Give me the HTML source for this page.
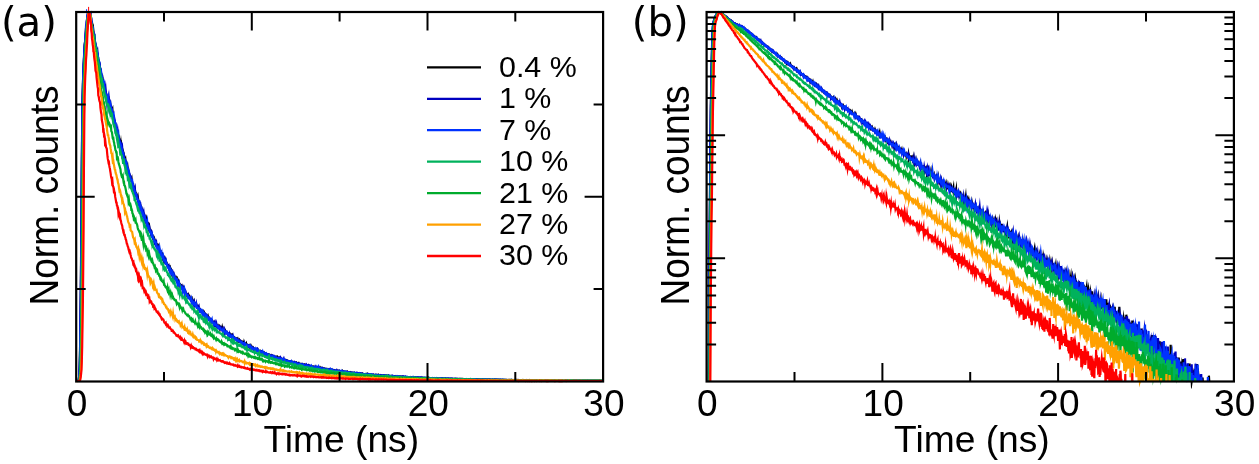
<!DOCTYPE html>
<html lang="en"><head><meta charset="utf-8"><title>Fluorescence decay curves</title>
<style>html,body{margin:0;padding:0;background:#fff}body{width:1259px;height:464px;overflow:hidden}svg{display:block}</style></head>
<body>
<svg width="1259" height="464" viewBox="0 0 1259 464">
<rect width="1259" height="464" fill="#fff"/>
<defs><clipPath id="ca"><rect x="75.2" y="0" width="528.9" height="388.5"/></clipPath><clipPath id="cb"><rect x="705.6" y="0" width="529.3" height="388.5"/></clipPath></defs>
<g font-family="'Liberation Sans', Arial, Helvetica, sans-serif" fill="#000">
<g clip-path="url(#ca)" fill="none" stroke-width="2.2" stroke-linejoin="miter" stroke-miterlimit="10"><path d="M76.2,381.0l.4,0 .3,0 .4,0 .3,0 .4,0 .3-.2 .4-.7 .3-2.6 .4-4.6 .3-8.1 .4-19.5 .3-27.2 .4-28.7 .3-36.5 .4-46.0 .3-44.4 .4-40.5 .3-22.8 .4-13.8 .3-10.0 .4-10.8 .3-5.7 .4-7.8 .3-4.8 .4-4.3 .3-1.4 .4-7.0 .3-4.8 .4-4.0 .3-1.1 .4-4.5 .3-1.8 .4-2.1 .3-3.3M88.3,12.0l.2,1.2 .3-1.1 .1-.1M89.4,12.0l.1,.9 .4,1.3 .4,1.7 .3,2.1 .4,3.7 .3,.2 .4,.2 .3,5.9 .4-1.4 .3,3.0 .4,2.9 .3-1.7 .4,3.6 .3,4.5 .4,.2 .3,1.1 .4,2.9 .3,.7 .4,2.8 .3,.8 .4,.8 .3,4.6 .4,.7 .3,2.6 .4,1.0 .3,3.5 .4,.9 .3,1.2 .4,.4 .3,1.4 .4,4.8 .3,1.1 .4-.2 .3,5.0 .4-.2 .3,1.2 .4-.1 .3,2.4 .4,2.9 .3,1.6 .4,1.5 .4-.6 .3,4.0 .4,1.4 .3,.8 .4,2.1 .3,1.5 .4,2.6 .3-.1 .4,1.7 .3-.9 .4,1.5 .3,1.5 .4-.3 .3,1.8 .4-1.2 .3,1.9 .4-.1 .3,3.1 .4-1.0 .3,3.5 .4,1.6 .3-.8 .4,2.1 .3,.1 .4-1.0 .3,5.1 .4,1.2 .3,.4 .4,1.1 .3,2.2 .4,1.4 .3,.4 .4,1.6 .3,3.2 .4,.2 .3,1.3 .4,2.6 .3-.2 .4,2.7 .3-.8 .4,2.2 .4,1.5 .3,2.1 .4,.7 .3,3.5 .4,.3 .3-.4 .4,4.1 .3-2.1 .4,4.2 .3-1.6 .4,3.1 .3-.6 .4,2.0 .3,3.0 .4-1.8 .3,1.0 .4,2.9 .3,1.4 .4,1.1 .3,2.1 .4-1.1 .3,3.0 .4,.6 .3,2.0 .4,.9 .3,1.9 .4-1.5 .3,2.6 .4-.1 .3,2.2 .4,1.8 .3,.8 .4,1.3 .3,.5 .4,1.5 .3,1.0 .4,2.2 .3,.5 .4-1.4 .4,3.4 .3,1.5 .4-.4 .3,0 .4,3.9 .3-.2 .4,1.5 .3,2.1 .4-1.5 .3,1.8 .4,.9 .3,1.9 .4-.2 .3,1.9 .4,.6 .3,2.0 .4,1.0 .3-1.5 .4,2.8 .3,.2 .4,1.2 .3,1.4 .4,1.0 .3-.2 .4,1.9 .3,.8 .4,.7 .3-.2 .4,1.4 .3,1.2 .4,1.8 .3,1.7 .4-1.3 .3,.9 .4,1.9 .3,.2 .4,.7 .3,.8 .4,.8 .4,2.1 .3-.9 .4,3.4 .3-1.1 .4,1.2 .3,.5 .4-.1 .3,1.2 .4,3.2 .3,1.3 .4-1.4 .3,2.4 .4-.1 .3,.1 .4,3.0 .3,1.2 .4-1.3 .3,.9 .4,1.1 .3,.5 .4,1.6 .3,1.3 .4-.4 .3,1.4 .4,1.4 .3-1.1 .4,1.2 .3,.3 .4,2.0 .3,.4 .4,1.1 .3,.6 .4-.2 .3,1.5 .4-.2 .3,.7 .4-.7 .3,3.6 .4-1.2 .4,1.5 .3,.6 .4,1.9 .3-.1 .4-.4 .3,1.4 .4,.5 .3,1.0 .4-.5 .3,1.6 .4,2.4 .3-.5 .4,1.7 .3,1.6 .4-1.5 .3-.9 .4,1.7 .3,1.6 .4,.5 .3-1.1 .4,1.4 .3,.7 .4,.7 .3,.6 .4,0 .3,.8 .4,.9 .3,1.5 .4-.6 .3,1.6 .4-.8 .3,2.4 .4-.3 .3,.5 .4,1.6 .3-1.8 .4,.8 .3,2.0 .4-.3 .3,.8 .4,2.8 .4-1.6 .3,.8 .4,.5 .3,1.4 .4-.1 .3,.5 .4-.5 .3,1.2 .4,.8 .3-.6 .4,2.0 .3,.4 .4,1.6 .3-1.9 .4,.9 .3,.6 .4,.7 .3,.9 .4,.4 .3,.8 .4,.5 .3,.3 .4-.5 .3,1.1 .4,1.0 .3,.8 .4,.5 .3-1.0 .4,1.2 .3,.8 .4,.7 .3,1.0 .4-.2 .3-.2 .4,1.3 .3,.4 .4,.4 .3,.3 .4,1.6 .4-.5 .3,.9 .4-.7 .3,1.5 .4-.4 .3-.2 .4,1.6 .3,.6 .4,0 .3,.5 .4,1.1 .3-.5 .4-.6 .3,1.9 .4,.4 .3,.9 .4-.5 .3,1.5 .4,.3 .3-1.1 .4,1.8 .3-.9 .4,.1 .3,1.2 .4,.2 .3-.5 .4,1.8 .3,.6 .4,.9 .3-.5 .4-.5 .3,.7 .4,1.6 .3,.3 .4,.1 .3-.1 .4,.7 .3,.1 .4,.3 .4,.8 .3,.2 .4,.2 .3,.5 .4,0 .3-.4 .4,1.1 .3,.7 .4,1.4 .3-.9 .4,1.7 .3,0 .4-1.0 .3,.5 .4,.8 .3,1.2 .4-.4 .3,.5 .4-.4 .3-.6 .4,1.5 .3,.9 .4,.5 .3-.3 .4,.4 .3,.9 .4-.4 .3,1.0 .4-1.0 .3,.4 .4,.3 .3,1.2 .4-.3 .3,.7 .4,.4 .3,.3 .4,.9 .3,.3 .4-.9 .4,.8 .3,.1 .4-.1 .3,1.8 .4-.3 .3-.2 .4,.2 .3,.7 .4-.5 .3,.7 .4,1.1 .3,.1 .4-.7 .3,.5 .4,1.5 .3-1.4 .4,.7 .3-.2 .4,1.2 .3,.2 .4,.7 .3-1.6 .4,1.7 .3-.7 .4,1.4 .3-.1 .4,1.2 .3-.4 .4-.5 .3,1.4 .4-.9 .3,.6 .4,1.0 .3,0 .4,.2 .3,0 .4,.5 .3,.4 .4,0 .3,.6 .4,.3 .4-.3 .3-.3 .4,1.5 .3-.5 .4,.5 .3,.4 .4-.7 .3,.9 .4-.7 .3,1.3 .4-.3 .3,.5 .4,.5 .3-.4 .4,.5 .3-.1 .4,.5 .3,.7 .4-.2 .3,.1 .4-.2 .3,1.1 .4-.2 .3,1.0 .4-.9 .3,1.0 .4,.6 .3-.6 .4-.4 .3,1.5 .4,0 .3,0 .4,.4 .3-.5 .4,.7 .3,.2 .4-.4 .3,.8 .4-.3 .4,.8 .3,.3 .4,.5 .3-1.5 .4,1.2 .3-.1 .4,.3 .3,.1 .4,.2 .3-.6 .4,1.5 .3,.4 .4-.1 .3,.4 .4-.8 .3,.2 .4,.9 .3,.4 .4-.3 .3-.5 .4,1.9 .3-1.2 .4,.8 .3-.7 .4,1.1 .3-.2 .4,.7 .3-.1 .4-.8 .3,.4 .4,.7 .3,.4 .4,.5 .3-.4 .4,0 .3,.2 .4,.2 .3,.5 .4-.2 .4,.1 .3-.4 .4,0 .3,.9 .4,.4 .3-.1 .4,.4 .3,.2 .4-.1 .3,.5 .4-.5 .3,.4 .4,0 .3,.4 .4,.3 .3,.2 .4-.1 .3,.3 .4-.2 .3,.3 .4,.6 .3-.4 .4,.7 .3-.1 .4,0 .3,.8 .4-.7 .3,.1 .4,.3 .3,.2 .4,.1 .3,.4 .4-.1 .3,.2 .4-.1 .3,.6 .4-.4 .3,.2 .4,.2 .4,.2 .3-.2 .4,.9 .3-.6 .4,.2 .3,.1 .4,.1 .3,.5 .4,0 .3-.2 .4,.2 .3,.2 .4,.7 .3-.6 .4-.1 .3,.2 .4,.4 .3,.7 .4-.7 .3,.5 .4,.9 .3-.9 .4,.8 .3,0 .4-.1 .3-.5 .4,.6 .3-.1 .4-.4 .3,.2 .4,.7 .3,.2 .4,.4 .3-.1 .4-.2 .3,.1 .4,.2 .3-.2 .4,.7 .3-.1 .4-.2 .4,.2 .3-.1 .4,.3 .3,.4 .4-.2 .3,.6 .4,.3 .3-.6 .4,.3 .3,0 .4,.7 .3-.3 .4,.2 .3,.1 .4,.6 .3-.5 .4-.3 .3,.2 .4,.4 .3-.1 .4-.1 .3,1.2 .4-.7 .3-.2 .4,.1 .3-.2 .4,.2 .3,.4 .4,.1 .3-.1 .4,.5 .3,0 .4-.3 .3-.2 .4,.8 .3,0 .4,0 .3-.2 .4,.5 .4-.4 .3,.8 .4-.1 .3,.1 .4-.3 .3,0 .4,.9 .3-.1 .4-.3 .3,.4 .4,.3 .3-.7 .4,.3 .3,.1 .4,.3 .3-.3 .4,.4 .3-.3 .4,.7 .3,0 .4-.2 .3,.3 .4-.3 .3,.2 .4,.4 .3-.2 .4,.2 .3-.3 .4,.5 .3,.1 .4-.4 .3-.2 .4,.1 .3,.6 .4,0 .3-.2 .4,.5 .3,.3 .4-.2 .4-.1 .3,.5 .4,.3 .3,0 .4-.5 .3,.4 .4-.1 .3,0 .4-.1 .3,.4 .4-.2 .3,.5 .4-.1 .3,.2 .4-.5 .3,.4 .4,.2 .3,0 .4,0 .3-.2 .4,.7 .3-.1 .4-.1 .3-.7 .4,.5 .3,.3 .4-.1 .3-.3 .4,.7 .3,0 .4-.3 .3,.2 .4,.1 .3,.3 .4-.5 .3,.1 .4,.3 .3,.1 .4,.7 .4-.6 .3,.2 .4-.1 .3,0 .4,.4 .3,.3 .4-.4 .3,.3 .4,0 .3,.1 .4,0 .3,.5 .4-.8 .3,.3 .4-.1 .3-.2 .4,.5 .3,.5 .4-.2 .3,.2 .4-.1 .3-.1 .4,.5 .3-.5 .4,.5 .3-.4 .4,.2 .3,.1 .4,0 .3,.1 .4,.1 .3,.3 .4-.3 .3-.4 .4,0 .3,.2 .4,.2 .3,.3 .4-.4 .3,.4 .4,0 .4,.1 .3,0 .4,.2 .3-.1 .4,.3 .3-.1 .4-.6 .3,.6 .4,.1 .3-.1 .4,0 .3,.4 .4-.1 .3-.2 .4,.1 .3,.1 .4-.2 .3,.5 .4-.1 .3,.1 .4-.4 .3,.8 .4-.2 .3,0 .4-.2 .3,0 .4-.1 .3,.7 .4-.5 .3,.3 .4,.1 .3-.2 .4,.4 .3,.2 .4-.3 .3,.3 .4-.1 .3-.2 .4,0 .4-.2 .3,.4 .4,.3 .3-.1 .4,.1 .3,.1 .4-.3 .3,.2 .4,.3 .3-.5 .4,.2 .3,0 .4,.1 .3-.1 .4,.1 .3-.2 .4,.2 .3,.1 .4,0 .3,.4 .4-.2 .3,.1 .4-.1 .3,.3 .4-.5 .3,.3 .4,.3 .3,.1 .4-.2 .3,0 .4,.1 .3-.1 .4,.2 .3-.2 .4,.3 .3-.1 .4-.2 .3-.3 .4,.8 .4-.1 .3,.1 .4-.3 .3,.4 .4-.1 .3,0 .4,.2 .3,0 .4-.1 .3,.4 .4-.1 .3-.2 .4-.1 .3,.1 .4,.4 .3-.3 .4-.2 .3,.1 .4,.2 .3,.1 .4-.2 .3,.2 .4,.2 .3-.1 .4-.3 .3,.2 .4-.1 .3,.3 .4-.2 .3,.3 .4-.1 .3-.4 .4,.3 .3,.3 .4-.1 .3,0 .4-.2 .3,.4 .4,.2 .4-.2 .3,0 .4,0 .3-.2 .4,.2 .3-.1 .4,.4 .3-.3 .4-.2 .3,.2 .4,.1 .3,.1 .4-.3 .3,.5 .4-.1 .3-.1 .4,0 .3,.2 .4-.1 .3,.2 .4-.1 .3,.1 .4,.2 .3-.2 .4-.1 .3,.3 .4-.1 .3-.1 .4,.3 .3-.2 .4,.2 .3-.3 .4-.2 .3,.1 .4,.4 .3-.1 .4,.1 .3,0 .4-.2 .4,.5 .3-.4 .4,.2 .3-.2 .4,.2 .3,.2 .4-.2 .3,0 .4,.1 .3,0 .4,.2 .3,.2 .4-.4 .3,0 .4,.1 .3,.1 .4-.2 .3,.3 .4,0 .3,0 .4-.2 .3,.4 .4-.4 .3,.3 .4,.1 .3-.3 .4,.2 .3,.2 .4-.1 .3-.2 .4,0 .3,.2 .4-.1 .3,0 .4,.2 .3-.1 .4,.1 .3,.1 .4,0 .3-.1 .4,0 .4,.1 .3,0 .4-.2 .3,.2 .4-.1 .3,0 .4,.1 .3-.2 .4,.4 .3-.2 .4,.2 .3-.3 .4,0 .3,.6 .4-.2 .3-.2 .4,0 .3,.1 .4,.1 .3-.1 .4,0 .3,.1 .4-.1 .3,.5 .4-.4 .3,.2 .4-.2 .3,.1 .4,.2 .3-.2 .4,.2 .3,0 .4,.1 .3-.2 .4,0 .3-.1 .4,.2 .3-.2 .4,.2 .4,0 .3-.1 .4,0 .3,.2 .4,0 .3,0 .4,0 .3,.1 .4-.2 .3,.2 .4-.1 .3,.2 .4-.2 .3,0 .4,.2 .3-.4 .4,.3 .3-.2 .4,.1 .3,.3 .4-.1 .3-.1 .4,.1 .3,0 .4,.1 .3,.2 .4-.2 .3,.3 .4-.4 .3,.2 .4,0 .3-.1 .4,0 .3,.2 .4,.1 .3-.1 .4,.1 .3-.1 .4-.3 .4,.4 .3-.2 .4,.2 .3-.2 .4,.1 .3,0 .4-.1 .3-.1 .4,.2 .3,0 .4,.2 .3-.2 .4,.1 .3-.1 .4,.1 .3-.2 .4,.4 .3-.1 .4-.2 .3,.2 .4,0 .3,0 .4,.1 .3-.1 .4-.3 .3,.2 .4,.3 .3-.1 .4,0 .3-.2 .4,.3 .3,0 .4-.2 .3,0 .4,.1 .3,.1 .4,.1 .3-.1 .4,.2 .4-.3 .3,.1 .4-.1 .3-.1 .4,.1 .3,.2 .4-.2 .3,0 .4,.2 .3,.1 .4-.1 .3,.1 .4-.3 .3,.5 .4-.2 .3-.1 .4,0 .3,0 .4,0 .3,.1 .4-.2 .3,.4 .4-.2 .3,.1 .4-.1 .3,0 .4,.1 .3,0 .4-.2 .3,.1 .4,.1 .3-.3 .4,0 .3,.4 .4-.2 .3-.2 .4,.2 .3,.1 .4,0 .3,.1 .4-.1 .4,.1 .3-.1 .4,.1 .3,0 .4,.1 .3-.1 .4,.1 .3-.1 .4-.1 .3,.1 .4,0 .3,0 .4,0 .3,.1 .4,0 .3-.1 .4,.2 .3-.3 .4,.2 .3,.1 .4-.1 .3,.1 .4-.1 .3,.1 .4-.2 .3,.2 .4,.2 .3-.2 .4,.2 .3-.2 .4-.1 .3,0 .4,.2 .3,0 .4-.3 .3,.2 .4,0 .3-.1 .4-.1 .4,.1 .3,.1 .4,0 .3,0 .4,.1 .3,.1 .4-.1 .3,.1 .4-.1 .3,0 .4-.2 .3,.3 .4-.1 .3,0 .4,0 .3-.1 .4,.2 .3,0 .4,.1 .3-.1 .4-.1 .3,.1 .4,.1 .3-.1 .4,0 .3-.1 .4,.2 .3-.1 .4,.2 .3-.1 .4-.2 .3,.3 .4-.1 .3-.1 .4,.1 .3,0 .4,0 .3,0 .4,0 .4,.1 .3-.1 .4,.1 .3-.1 .4,0 .3-.1 .4,0 .3,.2 .4-.2 .3,0 .4,0 .3,0 .4,.2 .3,0 .4-.1 .3,.2 .4-.2 .3,.1 .4,0 .3,.1 .4,0 .3-.1 .4-.1 .3,0 .4,.1 .3,0 .4,.1 .3-.1 .4,.1 .3-.1 .4-.1 .3,.1 .4,.2 .3-.1 .4,.1 .3,0 .4-.2 .3,.1 .4,.1 .4-.2 .3,0 .4,.1 .3,.1 .4-.1 .3,0 .4,0 .3-.1 .4,0 .3,0 .4,0 .3,.1 .4,.2 .3-.1 .4-.1 .3,.1 .4-.1 .3,.1 .4,0 .3-.1 .4,0 .3,.1 .4-.1 .3,0 .4,.1 .3,.2 .4-.1 .3-.1 .4,.1 .3-.1 .4-.1 .3,.2 .4,0 .3-.2 .4,.2 .3,0 .4-.1 .3,0 .4,.1 .3-.1 .4,.1 .4,0 .3,0 .4-.1 .3,.1 .4,0 .3,0 .4-.2 .3,.2 .4-.1 .3,.1 .4,0 .3,0 .4-.1 .3,0 .4,.1 .3,.1 .4,0 .3-.1 .4,0 .3-.1 .4,.1 .3,0 .4-.1 .3,.1 .4,.2 .3-.1 .4,.1 .3-.3 .4,.2 .3-.1 .4,0 .3,0 .4,0 .3,.1 .4,0 .3,0 .4,0 .3,0 .4,0 .4-.1 .3,.2 .4-.1 .3,.1 .4-.1 .3,0 .4,0 .3,0 .4,.1 .3-.1 .4,.1 .3-.1 .4,0 .3,.2 .4-.1 .3-.1 .4-.1 .3,.1 .4,0 .3,.2 .4-.2 .3-.1 .4,.2 .3,0 .4,.1 .3-.2 .4-.1 .3,.1 .4,0 .3,.1 .4,.1 .3-.2 .4,.2 .3-.1 .4,0 .3,0 .4,0 .3,0 .4,.1 .4,0 .3-.1 .4,.1 .3,0 .4,0 .3,0 .4,.1 .3-.1 .4,.1 .3-.2 .4,0 .3-.1 .4,.3 .3-.1 .4-.1 .3,.1 .4,0 .3-.1 .4,.1 .3,.1 .4,0 .3-.1 .4,0 .3,.1 .4,0 .3-.1 .4,0 .3,0 .4,0 .3,0 .4,.1 .3-.1 .4,0 .3,0 .4,.1 .3-.1 .4,0 .3-.1 .4,.3 .4-.3 .3,.2 .4-.1 .3,0 .4,0 .3,0 .4,.1 .3-.1 .4,.1 .3,.1 .4-.3 .3,.1 .4-.1 .3,.2 .4-.1 .3,0 .4,0 .3,.1 .4,0 .3,0 .4,.1 .3,0 .4-.1 .3,0 .4,0 .3,0 .4-.1 .3,0 .4,.1 .3-.1 .4,.1 .3,0 .4-.1 .3,.2 .4-.1 .3,.1 .4-.1 .3-.1 .4,.2 .3-.1 .4,.1 .4,0 .3,0 .4-.2 .3,0 .4,.1 .3,.1 .4-.1 .3,0 .4,0 .3,0 .4,0 .3,0 .4,.1 .3,0 .4,0 .3,0 .4,0 .3,0 .4,0 .3-.1 .4,0 .3,.1 .4,0 .3,0 .4-.1 .3,0 .4,0 .3,.1 .4-.1 .3,.1 .4-.1 .3,.1 .4,.1 .3-.3 .4,.1 .3,.1 .4,0 .3,0 .4,0 .4,.1 .3-.1 .4,0 .3,0 .4-.1 .3,.1 .4-.1 .3,.1 .4,0 .3,.1 .4,0 .3-.2 .4,.2 .3-.1 .4,0 .3,.1 .4-.1 .3,0 .4,0 .3,0 .4,0 .3,0 .4,.1 .3-.1 .4,0 .3,0 .4-.1 .3,.1 .4,0 .3,0 .4,.1 .3,0 .4,0 .3,0 .4,0 .3-.1 .4,.1 .3-.1 .4,.1" stroke="#000000"/>
<path d="M76.2,381.0l.4,0 .3,0 .4,0 .3,0 .4,0 .3-.2 .4-.5 .3-2.4 .4-4.3 .3-6.8 .4-17.1 .3-26.6 .4-27.8 .3-33.2 .4-46.2 .3-44.9 .4-42.8 .3-28.3 .4-13.3 .3-11.1 .4-11.4 .3-2.3 .4-10.5 .3-6.9 .4-1.8 .3-4.6 .4-5.5 .3-5.7 .4,.2 .3-5.2 .4-2.7 .3-3.6 .4-1.5 .3-2.0M88.2,12.0l.3,.7 .3-.7M88.9,12.0l.3,1.0 .3,0 .4,1.3 .4,2.0 .3,3.4 .4-1.8 .3,4.3 .4,3.7 .3-1.5 .4,4.5 .3,.2 .4,2.6 .3,1.6 .4,2.0 .3,2.9 .4,1.0 .3-.8 .4,7.6 .3-1.3 .4,1.4 .3,3.8 .4,2.2 .3-2.8 .4,5.1 .3-1.5 .4,3.8 .3,2.4 .4,1.2 .3,1.6 .4,1.0 .3,2.7 .4,2.1 .3,1.6 .4,.2 .3,2.4 .4,4.0 .3,1.2 .4,.4 .3,2.9 .4,1.3 .3,2.4 .4,.7 .4,.8 .3,.8 .4,2.9 .3-1.0 .4,4.1 .3-2.5 .4,4.1 .3,1.9 .4,2.4 .3,3.9 .4-2.4 .3,.3 .4-1.5 .3,4.5 .4-3.5 .3,3.2 .4-.5 .3,4.8 .4-2.3 .3,1.6 .4,0 .3,2.0 .4,2.9 .3-1.1 .4,1.7 .3,1.6 .4,.9 .3,1.4 .4,2.7 .3,3.0 .4,1.4 .3-1.8 .4,2.2 .3,2.1 .4,2.0 .3,.8 .4,1.4 .3,1.8 .4,1.7 .3-1.9 .4,3.6 .4,2.2 .3,2.1 .4,.7 .3-.3 .4,1.2 .3,2.4 .4,1.0 .3,1.7 .4,2.1 .3-1.4 .4,2.3 .3-1.1 .4,4.8 .3,.6 .4,.1 .3,2.5 .4,2.4 .3,.8 .4,0 .3,.9 .4,1.7 .3,0 .4,1.2 .3,1.9 .4,1.5 .3,1.4 .4,.3 .3,.8 .4,2.0 .3,.7 .4,2.0 .3,2.2 .4,.7 .3-.7 .4,1.4 .3-.1 .4,2.7 .3,.2 .4,.6 .4,1.5 .3,2.7 .4,.6 .3,.7 .4,2.2 .3-.4 .4,.4 .3,2.6 .4-1.5 .3,3.3 .4,.9 .3,1.1 .4,1.5 .3-.2 .4,1.4 .3-.6 .4,2.0 .3,1.0 .4,1.8 .3,2.1 .4-.4 .3,1.7 .4-.8 .3,1.9 .4-.7 .3,1.9 .4,.8 .3,1.5 .4,.9 .3,.5 .4,.7 .3,2.4 .4-.2 .3-1.1 .4,3.4 .3,1.0 .4,1.3 .3,1.6 .4-1.6 .4,1.9 .3,.7 .4-.6 .3,.2 .4,4.0 .3-.9 .4,1.2 .3,1.0 .4,.8 .3,1.3 .4-.7 .3,1.7 .4,1.1 .3,0 .4,1.1 .3,1.2 .4,.9 .3-.5 .4,1.9 .3,1.3 .4,1.4 .3,.3 .4,1.4 .3-.2 .4,.6 .3,2.7 .4-1.0 .3,.2 .4,1.1 .3,1.7 .4-1.1 .3,2.4 .4,1.1 .3,.6 .4-.1 .3-.2 .4,.6 .3,1.5 .4,1.9 .4,.2 .3,.9 .4,.1 .3,2.0 .4-.9 .3,.3 .4,1.3 .3,.1 .4,1.9 .3,1.0 .4,0 .3-.8 .4,.8 .3,1.8 .4-.7 .3,1.9 .4-.8 .3,1.4 .4,1.4 .3-.3 .4,1.8 .3,.8 .4,1.0 .3-.7 .4,.8 .3,.6 .4,.9 .3-.8 .4,2.0 .3,.8 .4-.9 .3,.5 .4,1.4 .3,2.1 .4-.3 .3-.3 .4,1.0 .3-.6 .4,2.8 .3-1.0 .4,1.6 .4-.9 .3,1.6 .4-.3 .3,1.8 .4,1.1 .3,.3 .4,.2 .3,.8 .4-1.1 .3,.4 .4,1.3 .3,1.5 .4-.1 .3,.9 .4-1.0 .3,1.3 .4,.4 .3,1.1 .4,1.7 .3-.4 .4,.7 .3-.5 .4,.7 .3,1.1 .4,.2 .3-.9 .4,2.3 .3,.4 .4,0 .3,.8 .4,.3 .3-.2 .4-.4 .3,2.9 .4-.7 .3,.4 .4,.5 .3,.6 .4,.5 .4-.4 .3,1.4 .4,.2 .3,.4 .4,.3 .3,.7 .4-.4 .3,1.1 .4,.3 .3,.6 .4,1.1 .3,.3 .4,.5 .3-.4 .4,1.0 .3,.7 .4-.4 .3,.2 .4,1.9 .3-1.8 .4,1.4 .3,.5 .4-.3 .3,1.0 .4,.8 .3-1.4 .4,2.5 .3-.2 .4-.2 .3,1.5 .4-.2 .3,.1 .4-.9 .3,2.5 .4-.2 .3-.1 .4,.8 .3,1.1 .4-.6 .4,.6 .3,.1 .4,0 .3,.4 .4,.7 .3,.4 .4,1.2 .3-.2 .4,.1 .3,.7 .4,.1 .3,.9 .4-1.1 .3,0 .4,1.8 .3-.1 .4,.7 .3-.5 .4,.8 .3,.5 .4,.5 .3,.2 .4,.9 .3-.6 .4,1.1 .3-.4 .4,.6 .3-.3 .4,1.0 .3-.3 .4,1.4 .3-.5 .4,.7 .3,.1 .4,.4 .3-.2 .4,1.9 .3-1.0 .4,1.3 .4-1.1 .3,2.0 .4-.3 .3,.7 .4-1.5 .3,1.9 .4-.5 .3,.6 .4,1.0 .3-.5 .4-.3 .3,.8 .4-.4 .3,1.0 .4,.1 .3,.5 .4-.1 .3-.6 .4,1.1 .3,.3 .4,.7 .3,.4 .4-.9 .3,1.6 .4,.1 .3-.1 .4,.4 .3-1.0 .4,2.5 .3-1.1 .4,0 .3,1.2 .4,0 .3-.3 .4-.3 .3,1.5 .4,.6 .3-1.1 .4,0 .3,1.2 .4,1.1 .4-1.5 .3,1.0 .4-.4 .3,.8 .4,.4 .3,.3 .4-.7 .3,.2 .4,2.0 .3-.4 .4-1.1 .3,1.3 .4,.7 .3-.4 .4,.2 .3,.2 .4,.4 .3,.2 .4,.3 .3-.2 .4,.8 .3-.1 .4,.2 .3-.5 .4,.6 .3,.5 .4-.1 .3,.3 .4-.2 .3,.5 .4-.4 .3,.4 .4,.9 .3,.3 .4-.3 .3,.3 .4,.5 .3,.8 .4,.4 .4-.8 .3,0 .4,.2 .3,1.1 .4-.9 .3,.9 .4-.2 .3,.2 .4,.7 .3,.1 .4,.8 .3-.3 .4,.6 .3-.8 .4,.3 .3-.2 .4,.4 .3,.6 .4-.2 .3,.5 .4-.3 .3,.3 .4,.8 .3-.3 .4,.2 .3,.3 .4-.4 .3-.1 .4,1.0 .3,.2 .4,.9 .3-.7 .4,.3 .3,.9 .4-.9 .3,.1 .4,.7 .3,0 .4,.4 .4-.6 .3,1.1 .4-.3 .3-.8 .4,.9 .3,0 .4,.4 .3,.6 .4-.3 .3,0 .4,.7 .3-.4 .4-.2 .3,.2 .4,1.2 .3-.1 .4,.4 .3-.9 .4,.3 .3,.1 .4,.8 .3,.2 .4-.3 .3,.1 .4,.5 .3-.2 .4-.1 .3,.3 .4,.6 .3,.6 .4-.6 .3,0 .4,.3 .3,.2 .4,.2 .3-.4 .4,.4 .3,.1 .4,.5 .4,0 .3-.1 .4,.5 .3,.2 .4-.2 .3-.4 .4,.5 .3-.4 .4,.7 .3,.2 .4,.5 .3-.1 .4-.6 .3,.5 .4,0 .3,.1 .4,.4 .3,.1 .4,0 .3,0 .4,.2 .3,.1 .4,.2 .3,.4 .4,0 .3,.3 .4-.5 .3,1.1 .4-.5 .3-.8 .4,1.1 .3,.3 .4-.2 .3-.4 .4,.6 .3-.1 .4,.3 .3,.2 .4-1.0 .3,1.1 .4,.3 .4,.1 .3-.2 .4,.1 .3,0 .4,.3 .3,.6 .4-.5 .3,.3 .4,.1 .3,.5 .4-.2 .3,.2 .4-.2 .3,.6 .4-.4 .3,.1 .4,.5 .3-.1 .4,.2 .3-.5 .4,1.2 .3-.6 .4,.5 .3-.3 .4-.3 .3,.6 .4-.2 .3,.4 .4-.8 .3,.4 .4,.1 .3,.8 .4,0 .3-.6 .4,.5 .3,.1 .4-.1 .3,.6 .4-.5 .4,.3 .3-.1 .4,.5 .3-.3 .4,.4 .3-.4 .4,.1 .3,.1 .4,.2 .3,0 .4,1.1 .3-1.0 .4,.5 .3-.1 .4,.2 .3,.4 .4-.2 .3-.2 .4-.2 .3,.7 .4,.2 .3-.6 .4,.7 .3-.8 .4,.7 .3,.3 .4-.4 .3-.2 .4,1.0 .3-.8 .4,.6 .3-.4 .4,.6 .3,.4 .4-.5 .3,0 .4-.3 .3,.2 .4,.3 .4,.4 .3,.1 .4,0 .3,.2 .4-.1 .3,.7 .4-.6 .3,.1 .4-.7 .3,.6 .4,.4 .3-.2 .4,.5 .3-.1 .4,.4 .3-.8 .4,.3 .3,.5 .4-.2 .3-.2 .4,.2 .3,.1 .4,.4 .3,0 .4-.2 .3-.1 .4,.5 .3,.1 .4-.5 .3,.6 .4-.5 .3,.3 .4-.1 .3-.1 .4,.3 .3,0 .4,.5 .3,0 .4-.3 .4-.1 .3,.1 .4-.2 .3,.5 .4,.1 .3-.1 .4,.3 .3,.1 .4,.3 .3-.5 .4,.6 .3-.4 .4,.6 .3-.6 .4,.6 .3-.4 .4,.6 .3-.2 .4-.4 .3,.6 .4-.2 .3,.2 .4,.5 .3-.6 .4,0 .3,.4 .4-.3 .3,.4 .4,.1 .3-.2 .4,.2 .3-.6 .4,.9 .3-.5 .4,0 .3,.7 .4,0 .3-.5 .4,.3 .3-.1 .4-.1 .4,.3 .3,.2 .4,.5 .3-.6 .4,.3 .3-.3 .4,.1 .3,.4 .4-.7 .3,.2 .4,.1 .3,.5 .4-.1 .3,.1 .4,0 .3,.2 .4-.3 .3,.1 .4,0 .3,.2 .4-.3 .3,.2 .4,.7 .3-.4 .4-.1 .3-.2 .4,.4 .3,0 .4,.1 .3-.2 .4,.2 .3,.1 .4,.1 .3-.2 .4,.2 .3,.3 .4-.4 .3,.3 .4-.2 .4,0 .3-.1 .4,.1 .3,.3 .4,0 .3,.3 .4-.6 .3,.3 .4-.2 .3,.4 .4,.4 .3-.7 .4,.3 .3,.1 .4,0 .3-.1 .4,.1 .3,.4 .4-.4 .3,.3 .4,0 .3-.4 .4,.2 .3,.3 .4,.3 .3-.3 .4-.1 .3,.2 .4,.2 .3,0 .4,.1 .3-.2 .4-.1 .3,0 .4,.3 .3-.1 .4,0 .3,.2 .4,0 .4-.4 .3,.4 .4-.1 .3,.2 .4,0 .3,.3 .4-.2 .3-.2 .4-.2 .3,.2 .4,.1 .3,.2 .4,.1 .3,0 .4-.1 .3,.3 .4-.3 .3,.4 .4,.1 .3-.1 .4,.2 .3-.1 .4-.4 .3,.3 .4-.1 .3-.1 .4,0 .3,.3 .4-.3 .3,.2 .4,.1 .3,0 .4,.3 .3,0 .4-.1 .3-.1 .4,.2 .3-.1 .4-.1 .4-.1 .3,.2 .4-.1 .3,.3 .4,0 .3,0 .4,.1 .3,0 .4-.3 .3,.3 .4,.2 .3-.2 .4-.2 .3,.3 .4-.2 .3,.3 .4,.1 .3,0 .4-.1 .3-.3 .4,.6 .3-.5 .4,.5 .3-.1 .4-.2 .3,.1 .4,.1 .3,.3 .4-.3 .3,.2 .4-.5 .3,.5 .4-.1 .3,.3 .4-.1 .3,.1 .4-.3 .3,.2 .4-.1 .4,.2 .3,0 .4-.3 .3,.4 .4,.2 .3-.4 .4,.3 .3-.1 .4-.2 .3,.3 .4-.2 .3,.2 .4-.3 .3,.1 .4,.3 .3-.1 .4,.2 .3-.2 .4-.1 .3,.4 .4-.3 .3,.3 .4,0 .3,.1 .4-.5 .3,.3 .4,0 .3,.1 .4-.2 .3,.5 .4-.3 .3-.3 .4,.4 .3,0 .4-.1 .3,.2 .4-.1 .3-.1 .4,.1 .3,0 .4,.1 .4,0 .3,0 .4-.2 .3,.1 .4,.2 .3,.3 .4-.4 .3,0 .4,.3 .3,.1 .4-.1 .3-.2 .4,.3 .3-.1 .4-.1 .3-.1 .4,.2 .3,0 .4,.1 .3-.3 .4,.1 .3,.2 .4,.2 .3-.1 .4-.2 .3,.2 .4-.2 .3,.1 .4,0 .3,0 .4,0 .3,.2 .4,0 .3-.4 .4,.5 .3-.1 .4-.2 .3,.2 .4,.1 .4,.1 .3-.2 .4-.1 .3,0 .4,.2 .3-.1 .4,.2 .3-.1 .4,.1 .3-.1 .4,0 .3-.1 .4,.3 .3-.3 .4,.3 .3,.1 .4-.1 .3,.2 .4-.2 .3,0 .4,0 .3-.1 .4,.2 .3-.1 .4,.2 .3-.1 .4,.1 .3,0 .4-.1 .3,0 .4,.2 .3,0 .4-.1 .3-.1 .4,0 .3,0 .4-.1 .3,.2 .4,0 .4,.2 .3,0 .4-.1 .3-.1 .4,.1 .3,0 .4,0 .3-.1 .4,.1 .3,0 .4,0 .3,.1 .4,.1 .3-.2 .4,.1 .3,0 .4,.1 .3-.3 .4,.3 .3,0 .4-.1 .3,.2 .4-.1 .3-.2 .4,.1 .3,.1 .4,0 .3,0 .4-.1 .3,.2 .4,0 .3,0 .4-.1 .3,.1 .4-.1 .3,.4 .4-.4 .3-.1 .4,.1 .4,.2 .3,.1 .4-.1 .3,.1 .4-.2 .3,.2 .4-.2 .3,0 .4,.4 .3-.3 .4,.1 .3,.1 .4,0 .3-.1 .4-.1 .3,.3 .4-.3 .3-.1 .4,.2 .3,0 .4,.1 .3,.1 .4-.2 .3,0 .4,0 .3-.2 .4,.2 .3,.1 .4-.1 .3,.3 .4,0 .3-.1 .4,0 .3-.1 .4,.1 .3-.2 .4,0 .3,.1 .4,.2 .3-.1 .4,0 .4,.2 .3-.2 .4,0 .3,0 .4-.1 .3,.1 .4,.2 .3-.1 .4,.1 .3-.1 .4,.1 .3-.2 .4,.1 .3,0 .4,.1 .3,.1 .4-.3 .3,.2 .4-.2 .3,.2 .4-.1 .3-.1 .4,.2 .3-.1 .4,.3 .3-.2 .4,.1 .3,0 .4,0 .3-.1 .4-.1 .3,.4 .4-.2 .3,.1 .4-.2 .3,.2 .4-.1 .3,.1 .4-.1 .4-.1 .3,.2 .4,0 .3,.1 .4-.2 .3,0 .4,.1 .3-.1 .4,.3 .3,0 .4-.1 .3,0 .4-.1 .3,0 .4,0 .3,0 .4,.1 .3,.1 .4,0 .3-.3 .4,.4 .3-.2 .4-.2 .3,.1 .4,.2 .3-.1 .4-.1 .3,0 .4,.2 .3-.1 .4,0 .3-.1 .4,0 .3,.2 .4,.1 .3-.2 .4-.1 .3,.1 .4,.1 .4-.2 .3,.3 .4-.2 .3,.2 .4-.1 .3,0 .4-.1 .3,.2 .4,0 .3,.1 .4-.2 .3,.1 .4-.1 .3,.2 .4-.1 .3-.1 .4,.1 .3-.1 .4,0 .3,.1 .4,.1 .3-.2 .4,.1 .3-.1 .4,.3 .3,0 .4,0 .3-.1 .4-.2 .3,.1 .4,.1 .3-.1 .4,0 .3,.1 .4-.1 .3,.1 .4,.2 .3-.2 .4-.1 .4,.1 .3,0 .4,.1 .3-.1 .4-.1 .3,.1 .4,.1 .3,.2 .4-.2 .3,.1 .4,0 .3-.2 .4,0 .3,.2 .4-.2 .3,0 .4,.1 .3-.1 .4,.2 .3,0 .4,0 .3,0 .4-.2 .3,.2 .4,0 .3,0 .4-.1 .3,0 .4-.1 .3,.2 .4,0 .3,0 .4-.1 .3,.1 .4-.1 .3-.1 .4,.2 .3,0 .4-.1 .3,.1 .4,0 .4,.1 .3-.2 .4,0 .3,.1 .4,0 .3-.1 .4,0 .3,.2 .4-.1 .3,0 .4,0 .3,0 .4,.1 .3,0 .4,.1 .3-.2 .4,.1 .3-.1 .4,.1 .3,0 .4,0 .3,0 .4-.1 .3,.1 .4-.1 .3,.2 .4-.1 .3,.1 .4-.1 .3,0 .4-.1 .3,.1 .4,0 .3-.1 .4,.1 .3,0 .4,0 .3,0 .4,0 .4,0 .3,0 .4,0 .3-.1 .4,.1 .3,.1 .4,0 .3-.1 .4,.1 .3-.1 .4,.1 .3,0 .4-.1 .3,.1 .4,0 .3-.2 .4,.1 .3,0 .4,.1 .3,0 .4-.1 .3,.1 .4,0 .3,0 .4,0 .3,0 .4,0 .3-.1 .4,.1 .3,.1 .4,0 .3,0 .4,0 .3-.1 .4,0 .3,.1 .4-.1 .3,.1 .4,0 .4,0 .3,0 .4-.2 .3,.2 .4-.1 .3,0 .4,.1 .3,0 .4,0 .3,0 .4-.1 .3,.1 .4-.1 .3,0 .4,.1 .3,0 .4,0 .3,0 .4,.1 .3-.1 .4,0 .3,0 .4-.1 .3,.2 .4,0 .3-.1 .4,.1 .3,0 .4,0 .3,0 .4-.1 .3,0 .4-.1 .3,.1 .4-.1 .3,.1 .4,.1 .3-.1 .4,.1 .4,0 .3-.2 .4,.1 .3,0 .4,0 .3,0 .4,.1 .3,0 .4,0 .3-.1 .4,.1 .3-.1 .4,0 .3,.1 .4,0 .3,0 .4,0 .3-.1 .4,.1 .3,.1 .4-.1 .3,0 .4,0 .3-.1 .4,.2 .3-.1 .4,0 .3,0 .4,0 .3,0 .4,0 .3,0 .4,.1 .3,0 .4-.1 .3,0 .4,.1 .3,0 .4-.1 .3-.1 .4,.1 .4,0 .3,.1 .4-.1 .3,0 .4,0 .3,0 .4,0 .3-.1 .4,.1 .3,0 .4,.1 .3-.2 .4,.2 .3-.1 .4-.1 .3,.2 .4-.1 .3,.1 .4-.1 .3,0 .4,0 .3,0 .4,.1 .3-.1 .4,.1 .3,0 .4-.2 .3,.2 .4,0 .3,0 .4,0 .3,.1 .4-.2 .3,.1 .4,0 .3,0 .4,0 .3,0 .4,0 .4-.1 .3,.1 .4,0 .3,.1 .4-.1 .3,.1 .4-.1 .3,0 .4,0 .3,0 .4,0 .3,.1 .4-.1 .3,.1 .4,0 .3-.1 .4,.1 .3-.1 .4,0 .3,0 .4,0 .3,0 .4,0 .3,.1 .4-.1 .3,.1 .4,0 .3-.1 .4,.1 .3-.1 .4,0 .3,.2 .4-.2 .3-.1 .4,.1 .3,0 .4,0 .3,.1 .4,0" stroke="#0000c0"/>
<path d="M76.2,381.0l.4,0 .3,0 .4,0 .3,0 .4-.1 .3-.1 .4-.2 .3-2.1 .4-3.4 .3-5.7 .4-13.5 .3-24.3 .4-28.1 .3-31.1 .4-40.9 .3-48.4 .4-43.9 .3-35.5 .4-13.1 .3-14.1 .4-8.7 .3-7.4 .4-5.4 .3-6.7 .4-2.4 .3-4.9 .4-7.4 .3-1.3 .4-8.2 .3-1.3 .4-4.0 .3-2.5 .4-2.6 .3-.5 .4-.7 .3-.4 .1-.1M89.9,12.0l0,.2 .4,3.3 .3,2.8 .4,4.0 .3-1.2 .4,1.7 .3,3.6 .4,.3 .3,1.3 .4,3.6 .3,.6 .4,2.9 .3,4.6 .4,.2 .3,1.8 .4,.6 .3,3.7 .4,1.3 .3,2.5 .4,.6 .3,1.7 .4,.6 .3,2.0 .4,2.6 .3,1.7 .4,1.9 .3,1.8 .4-.1 .3,6.9 .4-1.3 .3,1.1 .4,.7 .3,4.5 .4-.2 .3,1.1 .4,3.3 .3,3.5 .4-.3 .3,2.6 .4-.6 .4,3.4 .3-1.6 .4,3.6 .3,2.7 .4,1.2 .3,2.2 .4-.4 .3-.1 .4,3.3 .3-.4 .4,3.2 .3-.8 .4-1.8 .3,5.0 .4-2.7 .3,.7 .4,4.3 .3,.3 .4,.4 .3-1.2 .4,2.8 .3,1.0 .4,.3 .3,2.2 .4,1.3 .3,2.1 .4-.3 .3,3.7 .4-1.5 .3,3.8 .4,2.0 .3-.3 .4,1.6 .3,4.2 .4-1.1 .3,3.2 .4,.7 .3-.5 .4,3.3 .3-.1 .4,2.2 .4-1.3 .3,3.6 .4,2.6 .3,1.2 .4,1.1 .3,.1 .4,1.5 .3,.2 .4,2.1 .3,1.3 .4,1.1 .3,1.7 .4,.8 .3,.7 .4,1.2 .3,2.7 .4,2.6 .3,.1 .4,.1 .3,4.1 .4-.9 .3,.1 .4,2.3 .3,1.8 .4-1.9 .3,1.5 .4,2.9 .3-.5 .4,1.2 .3,3.7 .4-2.9 .3,4.9 .4,.4 .3,2.0 .4-.1 .3,2.5 .4-.3 .3,0 .4,2.0 .4,1.5 .3-.8 .4,3.6 .3-.8 .4,2.3 .3,.5 .4,1.2 .3,1.0 .4,1.2 .3,1.7 .4,.8 .3,0 .4,1.6 .3,2.0 .4,.5 .3,1.0 .4,.4 .3,.7 .4,1.1 .3,1.7 .4,.3 .3,2.3 .4,2.4 .3-1.8 .4,2.4 .3,.3 .4,1.2 .3-.9 .4,2.7 .3-.5 .4,1.6 .3,1.6 .4,1.3 .3-1.1 .4,1.0 .3,.5 .4-.1 .3,2.3 .4,.9 .4,1.2 .3,.7 .4,1.3 .3,1.3 .4-1.8 .3,4.4 .4-1.1 .3,.6 .4,1.1 .3,1.8 .4,.2 .3,1.0 .4,1.4 .3-.1 .4,1.1 .3,.9 .4-.3 .3,2.3 .4-.5 .3,1.7 .4-.1 .3,1.0 .4,.6 .3,1.9 .4,.5 .3,.9 .4-.2 .3,.3 .4,.4 .3,2.1 .4,.2 .3,2.2 .4,1.2 .3-.4 .4,.6 .3,1.4 .4,.9 .3-1.2 .4,1.8 .4,1.4 .3-2.6 .4,2.5 .3,1.0 .4-.1 .3,1.9 .4-1.3 .3,3.2 .4,.5 .3-.3 .4,1.2 .3-1.1 .4,3.1 .3-.1 .4-.1 .3,.4 .4,.3 .3,1.1 .4-.8 .3,2.7 .4,.1 .3,.1 .4,1.5 .3,.6 .4,.8 .3,.7 .4,1.0 .3,.2 .4,1.3 .3-.9 .4,2.1 .3-2.2 .4,.9 .3,1.0 .4,1.6 .3,.9 .4-.8 .3,1.3 .4,.3 .3,1.5 .4-.8 .4,2.0 .3-.1 .4,1.9 .3-.3 .4-.3 .3,1.3 .4,.5 .3-.4 .4,1.2 .3-.4 .4,3.1 .3-1.6 .4,.6 .3,2.0 .4,.3 .3-1.1 .4,1.9 .3,.2 .4-.3 .3,1.1 .4,0 .3,1.4 .4-.3 .3-.1 .4,1.0 .3,2.3 .4-1.5 .3,.9 .4,1.1 .3-1.1 .4,2.6 .3-2.0 .4,2.2 .3-1.0 .4,1.5 .3,1.3 .4-.5 .3,.3 .4,.3 .4,.1 .3,1.8 .4-.5 .3,.3 .4,1.1 .3,.9 .4,.4 .3-.7 .4,.4 .3,1.5 .4,.8 .3-1.3 .4,2.3 .3-.7 .4,1.0 .3,1.0 .4-.8 .3,.6 .4-.6 .3-.1 .4,1.9 .3-.3 .4,.4 .3,1.4 .4,.6 .3-1.2 .4,1.6 .3,.2 .4,.6 .3,.2 .4,.7 .3-.4 .4,0 .3,1.4 .4,1.0 .3-.5 .4,1.3 .3-.2 .4-.7 .4-.3 .3,1.5 .4,1.2 .3-.7 .4,2.2 .3-.6 .4-1.0 .3,.8 .4,1.6 .3,.5 .4-1.1 .3,.9 .4,.6 .3-.2 .4,.9 .3,1.1 .4-1.2 .3,1.1 .4,.6 .3,.5 .4-.6 .3,.9 .4-.5 .3,.9 .4-.5 .3,1.2 .4,.4 .3,1.1 .4-.2 .3-.7 .4-1.0 .3,2.7 .4,.2 .3-.5 .4,.3 .3,.9 .4-.1 .3,1.2 .4-.4 .4-.4 .3-.1 .4,1.3 .3,.3 .4-.1 .3,0 .4,.6 .3,.9 .4-.3 .3,0 .4,1.2 .3,.6 .4-.7 .3,.3 .4,0 .3,.7 .4,.7 .3,.1 .4,.6 .3,.2 .4,.1 .3,.2 .4-.6 .3,1.5 .4-.3 .3,.5 .4-.8 .3,.9 .4,.5 .3-.3 .4,.6 .3,.5 .4-.7 .3,.6 .4-.2 .3,.5 .4,.5 .3,.5 .4,.9 .3-.7 .4,.6 .4-.1 .3,.6 .4,.5 .3,.4 .4-.6 .3,0 .4,1.0 .3-.2 .4-.2 .3,1.3 .4,0 .3,.6 .4-.9 .3,.7 .4,.5 .3,.8 .4-.5 .3-.3 .4,.8 .3,.3 .4-.3 .3,1.1 .4-.4 .3,0 .4,.8 .3,.2 .4-.3 .3,.4 .4,.3 .3,0 .4,.2 .3,.7 .4,.1 .3-.3 .4-.1 .3,.1 .4,1.1 .3-.6 .4,.3 .4,.5 .3,0 .4,.1 .3-.3 .4,1.5 .3-.6 .4,.5 .3,.2 .4-.4 .3,.4 .4,.9 .3-.1 .4,0 .3,.8 .4-.7 .3,.5 .4,.1 .3,.1 .4-.4 .3,.9 .4,.3 .3-.7 .4,1.1 .3,.2 .4,.5 .3-.8 .4,.5 .3,.1 .4,.3 .3,.2 .4,.5 .3,.1 .4-.3 .3,.3 .4-.5 .3,1.2 .4,0 .3,.4 .4-.8 .4,1.2 .3-.7 .4-.1 .3,.8 .4-.2 .3,1.3 .4-.5 .3,.6 .4-.5 .3,.2 .4,.4 .3-.5 .4,.4 .3,.5 .4,.1 .3,.5 .4-.3 .3-.8 .4,1.2 .3-.2 .4,.5 .3-.4 .4,.3 .3,.4 .4,.7 .3-.4 .4-.5 .3,.7 .4-.2 .3,.6 .4,.6 .3-.7 .4,.2 .3,.4 .4,.1 .3-.1 .4,.4 .3-.2 .4,.3 .4,1.0 .3-.7 .4,.3 .3,.2 .4-.3 .3,.4 .4-.2 .3-.1 .4,.4 .3,.8 .4-.2 .3-.5 .4,.6 .3,.3 .4-.1 .3-.1 .4,.2 .3-.1 .4,.7 .3-.1 .4,.1 .3,0 .4,.9 .3-.6 .4,.5 .3-.8 .4,.1 .3,0 .4,.4 .3,.6 .4-.4 .3,.5 .4-.1 .3,.6 .4,0 .3-.3 .4-.3 .3,.7 .4-.6 .3-.1 .4,1.4 .4-.3 .3,.4 .4-.1 .3,.2 .4-.1 .3-.2 .4,.1 .3,.3 .4,.2 .3,.1 .4,.1 .3-.1 .4,.3 .3-.1 .4,.7 .3-.6 .4-.2 .3,.6 .4,.6 .3-.8 .4,.7 .3,.9 .4-.8 .3-.2 .4,.2 .3-.2 .4,.3 .3,.3 .4,.7 .3-.2 .4-.3 .3-.1 .4,.6 .3,0 .4-.2 .3,.8 .4,.1 .3-.5 .4,0 .4,.3 .3,.6 .4-.6 .3,.5 .4-.5 .3,.3 .4,0 .3-.1 .4,.5 .3-.4 .4,0 .3,.3 .4-.2 .3,.7 .4-.4 .3,.3 .4,.4 .3-.2 .4,.2 .3,.1 .4-.1 .3-.2 .4,.5 .3-.1 .4,.6 .3-.4 .4-.2 .3,.1 .4,.2 .3,.4 .4,.1 .3-.1 .4,.4 .3,0 .4-.5 .3,.6 .4-.7 .3,1.0 .4-.5 .4,.5 .3-.3 .4,.4 .3-.2 .4,.1 .3,.2 .4-.2 .3-.2 .4,.6 .3-.3 .4,.3 .3,.1 .4-.6 .3,1.2 .4-.3 .3,.4 .4-.3 .3,0 .4-1.0 .3,1.0 .4-.3 .3,.2 .4,.5 .3-.2 .4-.3 .3,.5 .4,0 .3,0 .4,.6 .3-.1 .4-.3 .3,.1 .4,.4 .3-.1 .4,0 .3,.1 .4-.2 .3,.2 .4,.1 .4,.4 .3,0 .4-.3 .3,.5 .4-.4 .3,.3 .4,.1 .3-.3 .4,.4 .3,.1 .4,0 .3-.2 .4-.5 .3,1.2 .4-.5 .3,.1 .4-.2 .3,.4 .4,.5 .3-.8 .4,.6 .3-.2 .4,.4 .3-.1 .4,0 .3-.3 .4,0 .3,.4 .4-.2 .3,.3 .4-.1 .3,0 .4,0 .3,.3 .4,0 .3-.1 .4,.1 .3,.2 .4-.5 .3,.6 .4-.3 .4,.2 .3-.2 .4,.8 .3-.9 .4,.6 .3,.3 .4-.3 .3-.4 .4,.4 .3,.4 .4-.1 .3-.3 .4,.6 .3-.2 .4,0 .3-.4 .4,.5 .3-.3 .4,.5 .3,.1 .4-.4 .3,.1 .4,.6 .3-.5 .4,.1 .3,.3 .4-.2 .3,.1 .4,.2 .3,0 .4,.1 .3-.1 .4,.3 .3-.2 .4,.3 .3-.3 .4,.1 .3,.2 .4-.3 .4-.2 .3,.2 .4,.5 .3-.5 .4,.3 .3,.1 .4,.1 .3-.1 .4-.2 .3,.2 .4,.2 .3,.1 .4,0 .3-.2 .4-.2 .3,.6 .4-.1 .3,.1 .4,.1 .3-.2 .4,0 .3,.4 .4,0 .3-.4 .4,.2 .3,0 .4,.2 .3,0 .4-.1 .3,.2 .4,.1 .3-.1 .4-.2 .3,.4 .4-.3 .3,.1 .4,.3 .3-.1 .4,0 .4-.1 .3,0 .4,.4 .3,.1 .4-.4 .3,.2 .4-.1 .3,.1 .4-.2 .3,.5 .4-.4 .3,.4 .4-.2 .3-.1 .4,.5 .3-.3 .4,.2 .3,0 .4,0 .3,.2 .4,0 .3-.3 .4,0 .3,.3 .4,.2 .3-.6 .4,.2 .3,.2 .4,.2 .3,0 .4-.1 .3,.2 .4-.4 .3,.3 .4-.1 .3,.3 .4,0 .3,0 .4-.1 .4,.1 .3,0 .4-.1 .3,.1 .4-.2 .3,.3 .4,.2 .3-.2 .4-.2 .3,.4 .4-.1 .3,.1 .4-.1 .3,0 .4,.2 .3-.1 .4-.1 .3,0 .4,0 .3,.1 .4,.2 .3,0 .4-.2 .3,.4 .4-.2 .3,.3 .4-.2 .3,.1 .4,.1 .3-.3 .4,.3 .3-.1 .4,0 .3,.1 .4-.3 .3,.3 .4,0 .3,.2 .4-.1 .4,0 .3,0 .4,.1 .3-.1 .4-.2 .3,.3 .4,0 .3,.1 .4-.5 .3,.2 .4,.2 .3,0 .4,.2 .3-.1 .4,0 .3,0 .4,.2 .3,0 .4-.2 .3,.1 .4,.4 .3-.3 .4-.2 .3,.3 .4-.1 .3,.3 .4-.4 .3,.3 .4,.1 .3-.1 .4-.4 .3,.4 .4,.2 .3-.3 .4,.1 .3-.2 .4,.4 .3,.1 .4-.2 .3-.1 .4,.1 .4-.1 .3,.4 .4-.1 .3-.1 .4-.1 .3,.1 .4,.1 .3,.1 .4-.3 .3,.1 .4-.3 .3,.4 .4-.2 .3,.4 .4-.1 .3,.1 .4,0 .3,0 .4,0 .3,0 .4,0 .3-.1 .4,.1 .3,0 .4-.2 .3,.2 .4,0 .3,.1 .4,0 .3-.1 .4,.2 .3-.2 .4-.1 .3,.1 .4,.2 .3,.2 .4-.1 .3-.1 .4-.1 .4,.2 .3,0 .4-.2 .3,.3 .4-.2 .3,0 .4,.3 .3-.2 .4,.1 .3,.1 .4,.1 .3,0 .4-.2 .3,.1 .4-.1 .3,.2 .4-.1 .3,0 .4,.2 .3,0 .4-.2 .3,0 .4,.2 .3-.1 .4-.1 .3-.1 .4,.3 .3-.2 .4-.1 .3,.2 .4-.1 .3,.5 .4-.5 .3,.2 .4,.2 .3-.3 .4,0 .3,0 .4,0 .4,.2 .3,.1 .4-.1 .3,0 .4,0 .3,.1 .4-.1 .3-.1 .4,.1 .3-.2 .4,0 .3,.4 .4,0 .3,.1 .4,0 .3-.2 .4,.2 .3,0 .4-.1 .3-.1 .4,.1 .3,0 .4-.1 .3,.1 .4,0 .3-.1 .4,.3 .3-.2 .4,.2 .3-.2 .4,0 .3,.2 .4-.2 .3,.3 .4-.3 .3,.1 .4,.2 .3,0 .4-.1 .4,0 .3,.1 .4-.1 .3,.2 .4-.2 .3,0 .4,.3 .3-.3 .4,.2 .3,.2 .4-.2 .3-.1 .4-.1 .3,.2 .4-.2 .3,0 .4,0 .3,0 .4,.1 .3,.1 .4-.1 .3,0 .4,.1 .3,0 .4,.2 .3-.2 .4,0 .3,.2 .4-.2 .3,0 .4,.1 .3-.1 .4,0 .3,.3 .4-.2 .3,0 .4-.1 .3,0 .4,.3 .3-.1 .4-.1 .4-.1 .3,0 .4,.3 .3-.1 .4,.1 .3-.2 .4,.3 .3-.3 .4,0 .3,.1 .4,.3 .3-.2 .4-.1 .3,.2 .4-.1 .3,0 .4-.1 .3,.1 .4,0 .3,.1 .4-.1 .3,0 .4,0 .3,.1 .4-.2 .3,.3 .4-.3 .3,.2 .4-.1 .3,.1 .4-.1 .3,0 .4,.2 .3-.1 .4,0 .3,0 .4,.2 .3-.1 .4,0 .4,0 .3,0 .4,.1 .3-.3 .4,.1 .3-.1 .4,.3 .3,0 .4-.1 .3,.2 .4-.2 .3,.1 .4,0 .3-.1 .4,0 .3-.1 .4,.1 .3,.2 .4-.2 .3,.2 .4-.1 .3,.1 .4,0 .3-.2 .4,.2 .3,0 .4,0 .3,0 .4-.2 .3,.3 .4,0 .3-.2 .4,.2 .3-.1 .4-.1 .3,.1 .4,0 .3,.1 .4,0 .4,0 .3-.1 .4-.1 .3,0 .4,.2 .3,0 .4-.1 .3,.2 .4-.1 .3,0 .4,.1 .3-.1 .4-.1 .3,.2 .4,0 .3-.1 .4,0 .3,.1 .4-.2 .3,.1 .4,0 .3,0 .4,.1 .3,0 .4-.2 .3,.1 .4,.1 .3-.1 .4,.1 .3-.1 .4,.1 .3,0 .4-.1 .3,.2 .4-.2 .3,.2 .4-.1 .3-.1 .4,.1 .4,.1 .3-.1 .4,0 .3,.1 .4,0 .3-.1 .4,0 .3,.2 .4-.2 .3,0 .4,0 .3,.1 .4-.1 .3,.2 .4-.2 .3-.1 .4,.3 .3-.1 .4,0 .3,0 .4,.1 .3-.1 .4,.1 .3-.1 .4,0 .3,.1 .4,0 .3,0 .4-.1 .3,0 .4,0 .3,0 .4,.2 .3,.1 .4-.3 .3,0 .4,.2 .3-.1 .4,0 .3-.1 .4,0 .4,0 .3,.1 .4,0 .3,0 .4,0 .3-.1 .4,.1 .3-.1 .4,.1 .3-.1 .4,.2 .3-.1 .4,.2 .3-.1 .4-.1 .3,.1 .4-.1 .3,.2 .4-.3 .3,.1 .4,.1 .3-.1 .4,0 .3,0 .4,.1 .3,.1 .4-.1 .3-.1 .4,0 .3,.1 .4,0 .3,0 .4,0 .3,.1 .4,0 .3-.1 .4,0 .3,0 .4-.1 .4,.1 .3,0 .4,.1 .3,0 .4-.1 .3,.1 .4,.1 .3-.2 .4,.1 .3-.1 .4,0 .3,.1 .4-.1 .3,0 .4,.2 .3-.2 .4,.1 .3,0 .4-.2 .3,.2 .4-.1 .3,.1 .4,0 .3,0 .4,0 .3,.1 .4,0 .3-.1 .4,.1 .3,0 .4-.1 .3,.1 .4,0 .3,0 .4-.1 .3,.1 .4-.1 .3,0 .4-.1 .4,.2 .3,.1 .4-.2 .3,.1 .4-.1 .3,.2 .4-.2 .3,.1 .4,0 .3,.1 .4-.2 .3,.1 .4-.1 .3,.1 .4,.1 .3-.1 .4,0 .3,0 .4,.1 .3-.1 .4,0 .3,0 .4,0 .3,.1 .4-.1 .3,0 .4,0 .3,0 .4,.2 .3-.2 .4-.1 .3,.1 .4,0 .3,0 .4,.1 .3,0 .4-.1 .3,0 .4,0 .4,0 .3,0 .4,0 .3,0 .4,0 .3,0 .4,.1 .3,0 .4-.1 .3,.1 .4,.1 .3-.1 .4,.1 .3-.2 .4,0 .3,0 .4,.1 .3,0 .4,0 .3,0 .4,0 .3,0 .4-.1 .3,.1 .4,.1 .3,0 .4-.1 .3,0 .4,0 .3-.1 .4,0 .3,.1 .4-.1 .3,0 .4,.1 .3,0 .4,0 .3,0 .4,0 .3,.1 .4-.1 .4,.1 .3-.1 .4,0 .3,0 .4,0 .3,.1 .4-.1 .3,.1 .4-.1 .3,0 .4,0 .3,0 .4,.1 .3-.1 .4,0 .3,.1 .4-.1 .3,.1 .4-.1 .3,.1 .4-.1 .3,0 .4,0 .3,.1 .4-.2 .3,.2 .4,0 .3,0 .4-.1 .3,.1 .4-.1 .3,.1 .4,0 .3,0 .4-.1 .3,.1 .4,0 .3,0 .4,.1 .4-.1 .3,0 .4,.1 .3-.1 .4,0 .3,0 .4,0 .3,0 .4,0 .3,0 .4,0 .3,0 .4,0 .3,0 .4,.1 .3-.1 .4,0 .3,0 .4,0 .3,0 .4,0 .3,0 .4,0 .3-.1 .4,.2 .3-.1 .4,0 .3,0 .4-.1 .3,.1 .4,0 .3,.1 .4-.1 .3,.1 .4-.1 .3,0 .4,.1 .3-.1 .4,0" stroke="#0032ff"/>
<path d="M76.2,381.0l.4,0 .3,0 .4,0 .3,0 .4,0 .3,0 .4-.1 .3-.4 .4-1.3 .3-2.9 .4-3.9 .3-7.3 .4-17.1 .3-24.9 .4-27.9 .3-30.7 .4-45.9 .3-49.2 .4-42.2 .3-26.7 .4-14.3 .3-9.6 .4-10.0 .3-7.2 .4-6.0 .3-5.5 .4-6.2 .3-3.3 .4-7.3 .3-1.2 .4-6.5 .3-4.1 .4-1.5 .3-1.3 .4-4.5M88.6,12.0l.2,1.0 .2-1.0M89.7,12.0l.2,2.3 .4,2.1 .3,.8 .4,3.0 .3,3.9 .4,.6 .3,1.5 .4,2.6 .3,2.1 .4,2.5 .3,2.0 .4,3.1 .3,2.7 .4-1.4 .3,4.3 .4,.8 .3,4.3 .4-.3 .3,3.3 .4-3.1 .3,7.2 .4,1.8 .3-.6 .4,1.6 .3,6.1 .4-1.2 .3,1.1 .4,4.5 .3-.6 .4,3.3 .3,2.4 .4,1.0 .3,1.9 .4,3.0 .3-2.8 .4,5.1 .3,2.1 .4-.3 .3,2.9 .4,0 .4,3.7 .3,.9 .4,2.0 .3,1.5 .4,2.1 .3,1.4 .4-.7 .3,4.2 .4,1.1 .3,.8 .4-.2 .3,.9 .4-.1 .3,3.3 .4-1.5 .3,1.1 .4,.8 .3,.3 .4,3.5 .3-1.5 .4,1.4 .3,3.1 .4-.1 .3-.4 .4,3.7 .3,.4 .4,2.5 .3,2.1 .4,1.6 .3,.9 .4-.5 .3,2.1 .4,3.2 .3-.5 .4,2.7 .3,2.0 .4,.2 .3,2.9 .4,2.2 .3-1.8 .4,4.8 .4-1.2 .3,3.6 .4-.3 .3,1.6 .4,1.6 .3,3.2 .4-.9 .3,1.2 .4,2.3 .3,.4 .4,.1 .3,3.2 .4,.2 .3,2.8 .4-.4 .3,1.0 .4-.7 .3,2.9 .4,1.7 .3,.3 .4,3.7 .3-.9 .4,2.8 .3,1.3 .4-.6 .3,2.1 .4,.1 .3,4.0 .4-.6 .3,2.0 .4,.8 .3,2.8 .4-1.7 .3,1.9 .4,2.3 .3,1.5 .4,.6 .3-1.2 .4,2.6 .4,1.4 .3,.2 .4,1.6 .3,.8 .4,.6 .3,1.5 .4,.5 .3,3.0 .4-.2 .3,1.5 .4,.6 .3,1.1 .4,1.6 .3,.7 .4-.2 .3,2.4 .4,1.7 .3-.8 .4,.7 .3,2.1 .4,.6 .3,1.8 .4,.4 .3-.2 .4,1.2 .3,1.5 .4,1.3 .3,2.2 .4-.8 .3,.7 .4,.4 .3,.1 .4,2.3 .3,.4 .4,2.7 .3-1.1 .4,1.2 .3,.4 .4,1.5 .4,1.0 .3,0 .4,2.7 .3-.3 .4,.5 .3,2.4 .4,1.2 .3-.5 .4,1.0 .3,.5 .4,.7 .3,2.0 .4-.1 .3,.1 .4,2.1 .3,.7 .4,1.5 .3-.8 .4-.2 .3,3.5 .4-1.0 .3,.7 .4,1.9 .3,.6 .4,1.3 .3,.6 .4-.1 .3,.4 .4,1.2 .3,.1 .4,1.2 .3,1.9 .4-1.4 .3,.9 .4,2.2 .3-1.3 .4,1.8 .3,.9 .4-.7 .4,4.2 .3,0 .4-1.2 .3,1.4 .4,1.3 .3-1.3 .4,1.5 .3,2.0 .4,.2 .3-.5 .4-.1 .3,3.5 .4-1.0 .3,1.1 .4,1.6 .3-.5 .4,1.7 .3-.2 .4-1.0 .3,1.4 .4,.4 .3,.8 .4,.8 .3,.1 .4,2.2 .3,0 .4-.3 .3,1.7 .4,.4 .3-.6 .4,.3 .3,2.1 .4,.8 .3-.5 .4,.8 .3,1.2 .4-.3 .3,.6 .4,.9 .3-1.5 .4,1.7 .4,.9 .3,.4 .4-.8 .3,1.8 .4,1.8 .3-.2 .4,.7 .3,.9 .4,0 .3,.5 .4,.7 .3,.8 .4-.4 .3,2.2 .4-1.2 .3,1.1 .4,.3 .3,2.3 .4-2.3 .3,2.8 .4-.1 .3-.5 .4,1.3 .3,.3 .4,1.7 .3-.7 .4,0 .3,.2 .4,1.1 .3,.1 .4,.3 .3,1.2 .4,.5 .3-1.3 .4,2.2 .3-.9 .4,1.2 .3-.5 .4,1.8 .4-.3 .3,.6 .4,.7 .3,.1 .4,1.1 .3,0 .4,.6 .3-.3 .4,1.0 .3,1.2 .4-.3 .3,.3 .4,.9 .3-1.0 .4,1.0 .3,.1 .4,1.4 .3,.1 .4-.4 .3,1.8 .4-.7 .3,.6 .4,.7 .3,0 .4,1.1 .3-.4 .4,1.2 .3,.4 .4-1.2 .3,1.6 .4,1.2 .3-1.4 .4,1.4 .3,1.9 .4-1.7 .3-.2 .4,.7 .3-.4 .4,1.4 .4-.1 .3,1.3 .4-.4 .3-.4 .4,.9 .3,.6 .4,1.5 .3-.6 .4,.9 .3-.9 .4,1.2 .3-.3 .4,1.1 .3-1.3 .4,2.0 .3-.4 .4-1.0 .3,1.6 .4,.9 .3-.5 .4,.1 .3,.4 .4,1.8 .3-.8 .4,1.5 .3-1.8 .4,1.2 .3,.6 .4-.3 .3,.4 .4,1.2 .3-1.2 .4,1.2 .3,1.1 .4-1.3 .3,.2 .4,.4 .3,.6 .4,1.1 .4-.7 .3-.2 .4,.8 .3-.1 .4,1.5 .3-.7 .4,.3 .3,1.5 .4,.4 .3-.2 .4-.2 .3,.1 .4,.6 .3,.2 .4,.2 .3,.2 .4,0 .3,.3 .4,.5 .3,.1 .4,.6 .3-.4 .4,.9 .3-.8 .4,1.1 .3,.1 .4,.7 .3,0 .4,0 .3,.3 .4,.6 .3,.5 .4-.4 .3,.2 .4,0 .3-.1 .4,1.0 .3,1.0 .4-.6 .3,1.0 .4-.1 .4-.8 .3,.4 .4,.8 .3,.2 .4,0 .3,1.0 .4-.9 .3,.6 .4-.8 .3,1.6 .4-.8 .3,1.0 .4-.6 .3,1.2 .4-.6 .3,.7 .4,.4 .3-.1 .4-.1 .3,.2 .4-.3 .3,.5 .4,1.8 .3-.8 .4,.9 .3-.6 .4-.2 .3,1.0 .4,.2 .3-.4 .4,.3 .3-.6 .4,.7 .3,.1 .4-.3 .3,1.1 .4,0 .3,.6 .4-.3 .4-.2 .3,0 .4,.8 .3,.5 .4,.2 .3,.4 .4-.5 .3-.3 .4,1.7 .3,.1 .4-1.3 .3,1.4 .4-.6 .3,.8 .4-.7 .3,.2 .4,.4 .3-.1 .4,.4 .3,0 .4-.3 .3,.4 .4,.9 .3,.2 .4-.1 .3,.2 .4,0 .3,.4 .4-.3 .3,.4 .4,0 .3,.3 .4-.1 .3,.8 .4-.9 .3,.6 .4,.1 .3,.1 .4,0 .4,.3 .3,.3 .4,.3 .3,.7 .4-.6 .3,.4 .4,.1 .3-.9 .4,1.7 .3-.5 .4-.3 .3,.2 .4,0 .3,1.1 .4,0 .3-.4 .4,.4 .3-.6 .4,.7 .3,.1 .4,.1 .3,.4 .4-.1 .3,.5 .4-.1 .3,.2 .4-.1 .3,.7 .4,.2 .3-.6 .4,.2 .3,.5 .4-.1 .3,.4 .4-1.0 .3,1.4 .4-1.0 .3,1.0 .4-.3 .4,.3 .3,.2 .4-.4 .3,.2 .4,.5 .3,.3 .4-.9 .3,.4 .4,.5 .3,.3 .4-.1 .3,.1 .4-.2 .3,.8 .4-.2 .3,.4 .4-.6 .3-.1 .4,.8 .3-.2 .4-.1 .3,.6 .4,.3 .3-.5 .4,.3 .3,.3 .4-.4 .3,.5 .4,.7 .3-.6 .4,.3 .3-.6 .4,.7 .3,.2 .4-.1 .3,.1 .4,.7 .3-.4 .4,.2 .3-.4 .4-.3 .4,1.2 .3,.1 .4,0 .3,.1 .4,.1 .3-.2 .4-.2 .3,.8 .4,.2 .3,.2 .4-.8 .3,0 .4,.9 .3,.1 .4-.4 .3-.2 .4,.1 .3,.3 .4,0 .3,.2 .4,.3 .3-.6 .4,.6 .3,.4 .4-.1 .3,.4 .4-.4 .3-.2 .4,.8 .3-.6 .4-.2 .3,.5 .4,.6 .3-.1 .4,0 .3,.3 .4,.1 .3-.2 .4,0 .4-.1 .3,.6 .4-.8 .3,.3 .4,.1 .3,.5 .4-.6 .3,.7 .4-.6 .3,.3 .4,.6 .3,0 .4-.6 .3,.3 .4,.4 .3,0 .4,.1 .3,.3 .4-.1 .3,.2 .4,0 .3-.2 .4,.5 .3-.4 .4,.2 .3-.1 .4,.1 .3-.1 .4,.3 .3,0 .4,.3 .3-.1 .4,.4 .3-.1 .4-.2 .3,.3 .4-.1 .3,.5 .4-.6 .4,.6 .3-.2 .4,.1 .3-.1 .4,.4 .3,.2 .4,.3 .3-.4 .4,.3 .3-.4 .4-.1 .3,.9 .4-.1 .3-.4 .4-.2 .3,.3 .4,.1 .3,0 .4,0 .3-.2 .4,.3 .3,.5 .4-.1 .3-.1 .4,.3 .3-.1 .4,.1 .3,.1 .4-.2 .3,.3 .4,.2 .3,0 .4-.2 .3-.4 .4,.5 .3-.3 .4,.3 .3,.7 .4-.5 .4,.3 .3,.2 .4-.1 .3-.6 .4,.9 .3-.2 .4-.4 .3,.2 .4,.6 .3-.3 .4,.1 .3,0 .4-.2 .3,.4 .4-.1 .3-.3 .4,.8 .3-.3 .4-.1 .3,.4 .4-.1 .3,.2 .4-.3 .3,.2 .4-.2 .3-.1 .4,.3 .3,.1 .4-.1 .3,.1 .4,.4 .3-.5 .4,.2 .3-.1 .4,.6 .3-.5 .4-.2 .3,.4 .4,.4 .3-.2 .4,0 .4,0 .3,.1 .4-.1 .3,.3 .4-.1 .3,.2 .4-.1 .3-.2 .4,.4 .3-.2 .4,.3 .3,0 .4,0 .3-.3 .4,.5 .3-.4 .4,.6 .3-.2 .4-.2 .3,.1 .4,.3 .3,.1 .4-.4 .3,.5 .4-.3 .3,.2 .4,0 .3-.5 .4,.2 .3,.2 .4,.5 .3-.3 .4,.1 .3,0 .4-.2 .3,.6 .4-.4 .3,.1 .4,.2 .4-.4 .3,.6 .4-.2 .3,0 .4,.5 .3-.2 .4,0 .3-.3 .4,0 .3,.1 .4,.1 .3,.5 .4-.4 .3,.1 .4-.3 .3,0 .4-.1 .3,.3 .4,0 .3,.4 .4-.2 .3,.3 .4-.4 .3,.5 .4-.2 .3,.1 .4,0 .3-.1 .4,.2 .3-.1 .4,.2 .3-.4 .4,.4 .3-.3 .4-.1 .3,.8 .4-.2 .3-.1 .4-.2 .4,.3 .3-.1 .4,.2 .3-.2 .4,.3 .3-.3 .4,.7 .3-.2 .4-.6 .3,.3 .4,.2 .3-.5 .4,.2 .3,0 .4,.3 .3-.1 .4,0 .3,.4 .4-.3 .3,.1 .4-.2 .3,0 .4,.4 .3,0 .4-.1 .3-.1 .4,.2 .3,0 .4-.1 .3,.1 .4-.1 .3,.1 .4,.3 .3,.1 .4-.4 .3,.2 .4,.1 .3,0 .4,.2 .4-.2 .3,.4 .4-.3 .3,.1 .4-.4 .3,.2 .4,.1 .3,0 .4-.1 .3,.3 .4-.1 .3,.1 .4-.5 .3,.5 .4,.3 .3-.4 .4-.3 .3,.6 .4-.7 .3,.6 .4-.2 .3,.3 .4,0 .3,.2 .4,0 .3,.2 .4-.6 .3,.4 .4-.2 .3,0 .4,.2 .3-.1 .4,.1 .3,0 .4,0 .3,0 .4,.2 .3,.1 .4-.1 .4-.1 .3-.2 .4,0 .3,.2 .4-.1 .3,.2 .4-.2 .3,.2 .4,0 .3,.1 .4,0 .3-.3 .4,.5 .3-.2 .4,.1 .3-.2 .4-.1 .3,.3 .4,.4 .3-.5 .4,.1 .3,.3 .4-.2 .3,0 .4,.4 .3-.5 .4,.1 .3,0 .4,.2 .3,0 .4,0 .3-.1 .4,.2 .3-.4 .4,.2 .3,.4 .4-.5 .3,.2 .4,.1 .3-.1 .4,.3 .4-.2 .3,.4 .4-.2 .3-.4 .4,.1 .3,.2 .4,.1 .3-.2 .4,.1 .3,0 .4,0 .3,.2 .4-.2 .3,.4 .4-.5 .3,.4 .4-.1 .3,0 .4-.1 .3,0 .4,0 .3,0 .4,0 .3,.1 .4,.3 .3,.1 .4,0 .3-.3 .4,0 .3,0 .4,0 .3,.1 .4,.1 .3,.1 .4,0 .3-.4 .4,.1 .3,.3 .4-.1 .4-.1 .3-.2 .4,.3 .3,0 .4-.2 .3,.4 .4-.1 .3-.1 .4,.1 .3-.3 .4,.2 .3,.1 .4,.1 .3-.2 .4,0 .3,.2 .4,0 .3,.1 .4-.1 .3-.1 .4,0 .3,0 .4,0 .3,.2 .4,0 .3-.2 .4,.1 .3,.2 .4-.2 .3,0 .4,0 .3,.1 .4,.1 .3-.1 .4-.2 .3,.2 .4,.2 .3-.2 .4,.2 .4-.1 .3,0 .4-.1 .3,.1 .4-.1 .3-.1 .4,.3 .3,.1 .4-.2 .3,.1 .4,0 .3,.1 .4-.1 .3,0 .4,.3 .3-.2 .4-.1 .3-.1 .4,.3 .3,0 .4-.2 .3,.2 .4-.1 .3,0 .4,0 .3,.1 .4,.1 .3-.2 .4,.1 .3,0 .4-.2 .3,.1 .4,.2 .3,0 .4,0 .3,0 .4,.2 .3-.3 .4,0 .4,.1 .3,0 .4,0 .3-.1 .4,.2 .3,0 .4,0 .3-.1 .4,0 .3,.2 .4-.1 .3-.2 .4,.3 .3-.1 .4,.1 .3-.2 .4,.1 .3,.1 .4,.1 .3-.1 .4-.1 .3,0 .4,.2 .3-.3 .4,.2 .3,.1 .4-.1 .3,.1 .4,0 .3,0 .4-.1 .3,.1 .4,.1 .3-.2 .4,.1 .3-.2 .4,.1 .3,0 .4,.1 .3-.1 .4,.1 .4,.1 .3-.1 .4,.3 .3-.2 .4-.1 .3,.1 .4-.2 .3,.1 .4,.1 .3,0 .4-.1 .3,.2 .4-.1 .3-.1 .4,.1 .3-.2 .4,.2 .3,.2 .4-.2 .3-.1 .4,.2 .3-.2 .4,0 .3,.2 .4,0 .3,.1 .4-.2 .3,0 .4,0 .3,.2 .4,0 .3,.1 .4,0 .3,0 .4,0 .3-.1 .4-.1 .3,0 .4,.1 .4,0 .3,0 .4-.1 .3,.1 .4,0 .3,0 .4,.1 .3-.1 .4,.1 .3-.2 .4,.3 .3-.2 .4,.2 .3-.3 .4,.1 .3,.1 .4,0 .3,.1 .4-.1 .3-.1 .4-.1 .3,.3 .4-.2 .3,.2 .4-.1 .3-.1 .4,.1 .3,0 .4,.1 .3-.1 .4,0 .3-.1 .4,.3 .3-.1 .4,.1 .3,0 .4,0 .3-.2 .4-.1 .4,.1 .3,.2 .4-.1 .3,.1 .4-.1 .3-.1 .4,.1 .3,0 .4,0 .3,.2 .4,0 .3-.1 .4-.1 .3-.1 .4,.2 .3,0 .4,0 .3-.1 .4,.1 .3,.1 .4-.2 .3,.1 .4,0 .3,.1 .4-.1 .3,.2 .4,0 .3-.2 .4,.1 .3-.1 .4-.1 .3,.1 .4-.1 .3,.2 .4-.1 .3,.2 .4-.1 .3,0 .4,0 .4-.1 .3,.2 .4-.1 .3,.1 .4-.1 .3,0 .4,0 .3,0 .4,.1 .3-.1 .4,.1 .3-.1 .4,.1 .3-.2 .4,.2 .3-.2 .4,.2 .3-.1 .4,.1 .3-.1 .4,.1 .3-.1 .4,0 .3,0 .4-.1 .3,.2 .4-.1 .3,.1 .4,.1 .3-.1 .4,0 .3-.1 .4,.1 .3,0 .4,0 .3,.2 .4-.2 .3,.1 .4-.2 .3,0 .4,.1 .4,.2 .3-.2 .4,0 .3,0 .4,.1 .3,0 .4,0 .3,0 .4-.2 .3,.2 .4,0 .3,0 .4,.1 .3-.1 .4,0 .3,0 .4,0 .3-.1 .4,.1 .3,.1 .4-.1 .3,0 .4,.1 .3-.1 .4,0 .3,0 .4,0 .3,0 .4,.1 .3-.1 .4,.1 .3-.2 .4,.1 .3,.1 .4-.1 .3,.1 .4,0 .3,0 .4,0 .4,0 .3,0 .4-.1 .3,.1 .4,0 .3,0 .4-.1 .3-.1 .4,.3 .3-.1 .4,0 .3,0 .4,0 .3,.1 .4-.2 .3,.1 .4,.1 .3-.2 .4,.1 .3-.1 .4,.2 .3-.1 .4,.1 .3-.1 .4-.1 .3,.3 .4-.2 .3,.1 .4-.1 .3,.1 .4,0 .3,0 .4,0 .3,0 .4,0 .3,0 .4-.1 .3,.2 .4-.3 .4,.1 .3,0 .4,.2 .3,0 .4-.1 .3,0 .4-.2 .3,.1 .4,.1 .3-.1 .4,0 .3,.1 .4-.1 .3,.1 .4,.1 .3,0 .4-.1 .3,0 .4,.1 .3,0 .4-.1 .3,.2 .4-.3 .3,.2 .4-.1 .3-.1 .4,.2 .3,0 .4-.2 .3,.2 .4,0 .3-.1 .4,0 .3,0 .4,0 .3,.1 .4,0 .3-.1 .4,0 .4,.1 .3-.1 .4,.1 .3-.1 .4,0 .3,0 .4,.1 .3,0 .4,0 .3,0 .4,0 .3,0 .4,.1 .3-.1 .4,0 .3-.1 .4,.2 .3-.1 .4,.1 .3-.1 .4-.2 .3,.2 .4,0 .3,0 .4,.1 .3,0 .4-.1 .3,0 .4-.1 .3,.2 .4-.1 .3-.1 .4,.2 .3-.1 .4,.1 .3-.1 .4,0 .3,0 .4,0 .3,.1 .4-.1 .4,0 .3,.1 .4,0 .3-.1 .4,0 .3,.1 .4,0 .3,0 .4-.1 .3,0 .4,0 .3,0 .4,.1 .3,0 .4,0 .3,0 .4,0 .3,0 .4,0 .3,0 .4,0 .3-.1 .4,.1 .3-.1 .4,.1 .3,.1 .4-.1 .3,.1 .4-.2 .3,0 .4,.1 .3,0 .4,.1 .3,0 .4-.1 .3,0 .4,.1 .3-.1 .4,0 .4,0 .3-.1 .4,.1 .3,0 .4,0 .3,0 .4,.1 .3-.2 .4,.1 .3,0 .4,.1 .3-.3 .4,.2 .3,0 .4-.1 .3,.1 .4,0 .3,0 .4,.1 .3-.1 .4,.1 .3-.1 .4,0 .3,.1 .4-.2 .3,.2 .4-.1 .3,.1 .4-.1 .3,.1 .4-.2 .3,.1 .4,0 .3,0 .4,0 .3,0 .4,.1 .3-.1 .4,.1" stroke="#00b25c"/>
<path d="M76.2,381.0l.4,0 .3,0 .4,0 .3,0 .4,0 .3,0 .4,0 .3-.2 .4-.5 .3-1.8 .4-3.0 .3-3.8 .4-9.2 .3-16.6 .4-24.1 .3-27.3 .4-32.3 .3-45.5 .4-50.0 .3-43.9 .4-27.1 .3-12.2 .4-8.8 .3-9.4 .4-6.7 .3-6.3 .4-5.1 .3-7.2 .4-3.8 .3-6.1 .4-3.5 .3-3.4 .4-3.3 .3-4.2 .4-3.5 0-.2M89.2,12.0l0,.2 .3,.6 .4,2.6 .4,.1 .3,4.2 .4,3.4 .3,.8 .4,5.4 .3,.5 .4,2.7 .3,2.6 .4,3.9 .3-.5 .4,1.4 .3,6.5 .4,.4 .3,1.6 .4,.2 .3,5.9 .4,3.0 .3,1.0 .4-.4 .3,4.8 .4,2.0 .3,.2 .4,7.3 .3,2.2 .4-1.9 .3,2.3 .4,4.9 .3-.3 .4,2.7 .3,1.8 .4,3.4 .3,1.6 .4,2.5 .3,.8 .4,2.4 .3-.5 .4,3.3 .3,4.7 .4-.5 .4,.6 .3,3.3 .4,.9 .3,3.2 .4,.9 .3,3.7 .4-.4 .3,4.1 .4-1.8 .3,4.6 .4,1.7 .3-2.4 .4,1.6 .3,.2 .4,.3 .3,1.1 .4,1.8 .3-.4 .4,1.0 .3,1.0 .4-.4 .3,4.7 .4,.6 .3,1.0 .4,2.9 .3,2.5 .4,.9 .3-.3 .4,3.2 .3,.5 .4,3.2 .3,.2 .4,2.8 .3,1.8 .4,.4 .3,1.6 .4,0 .3,4.9 .4-.9 .3,.3 .4,1.8 .4,3.4 .3,1.7 .4,1.3 .3,.5 .4,1.6 .3,1.2 .4,1.1 .3,3.2 .4,1.5 .3,1.4 .4,1.5 .3,0 .4,.9 .3-1.0 .4,3.4 .3,1.9 .4-.2 .3,3.5 .4,.2 .3,.6 .4,1.5 .3,1.6 .4,2.0 .3,2.2 .4,.1 .3,1.6 .4-.1 .3,2.1 .4,.4 .3,3.4 .4-1.4 .3,3.0 .4,1.8 .3,1.0 .4,.4 .3-.6 .4,1.5 .3,2.9 .4-.1 .4,1.3 .3,2.5 .4,.5 .3,2.1 .4-.1 .3,2.8 .4-.7 .3,1.1 .4,.9 .3,1.1 .4-.9 .3,2.4 .4,.5 .3,.5 .4,.9 .3,1.2 .4,2.1 .3,1.4 .4,.7 .3,.7 .4,.5 .3,1.0 .4-.1 .3,2.0 .4-.8 .3,1.6 .4,2.3 .3-.3 .4,4.2 .3-2.9 .4,1.7 .3,.9 .4,2.7 .3-2.8 .4,3.3 .3,.7 .4-.2 .3,2.0 .4,1.4 .4-.5 .3,2.2 .4-.6 .3,1.3 .4-.1 .3,2.8 .4-1.3 .3,1.6 .4-.6 .3,3.0 .4-1.3 .3,1.7 .4,.7 .3,2.0 .4-.3 .3,.6 .4,2.0 .3,1.0 .4,.4 .3-1.1 .4,1.8 .3,.1 .4,1.2 .3,.9 .4,.6 .3,1.2 .4-.6 .3,1.5 .4,.6 .3,2.0 .4-.7 .3,1.5 .4,.5 .3-.6 .4,2.4 .3-.1 .4,0 .3,.3 .4,1.9 .4,0 .3,.6 .4,1.7 .3,1.4 .4,.4 .3-1.2 .4,.9 .3,1.7 .4,.1 .3,.4 .4,.6 .3,.3 .4-1.1 .3,2.8 .4-.1 .3,1.3 .4,.4 .3,.8 .4,.1 .3,.7 .4-.1 .3,.7 .4,1.3 .3-1.4 .4,2.7 .3-.5 .4-.8 .3,2.6 .4-.9 .3,.4 .4,1.3 .3,2.0 .4-1.7 .3,1.4 .4,.9 .3-.7 .4,1.9 .3-.8 .4,1.6 .3-.2 .4,1.5 .4,.1 .3,.8 .4,.3 .3-.1 .4,.7 .3,.2 .4-.2 .3,1.3 .4,1.7 .3-.6 .4,.2 .3-.2 .4,.5 .3,.5 .4,1.2 .3-.2 .4,1.8 .3-1.3 .4,1.0 .3,.3 .4,1.0 .3,.2 .4,.8 .3-.3 .4,1.6 .3-1.0 .4,.6 .3-.5 .4,1.7 .3,.4 .4,.2 .3,.5 .4,.5 .3,1.0 .4,.4 .3,.1 .4,.2 .3,.9 .4,.4 .4-.2 .3-.2 .4,.9 .3-.2 .4,.2 .3,.5 .4,1.1 .3,.3 .4,1.2 .3-.3 .4-.3 .3,1.2 .4-1.0 .3,.3 .4,1.3 .3-.4 .4,1.7 .3,.2 .4-.1 .3,.1 .4,.5 .3,.7 .4-1.3 .3,1.3 .4,.3 .3,.1 .4,.6 .3,.5 .4,.5 .3,.9 .4-1.4 .3,1.7 .4,.7 .3-.2 .4,.7 .3-1.6 .4,1.2 .3-.3 .4,.3 .4,.7 .3,.3 .4,1.0 .3,0 .4,.5 .3,0 .4,.7 .3-.8 .4,.5 .3,.8 .4,1.1 .3-1.0 .4,.2 .3,.8 .4,.8 .3-.6 .4,0 .3,1.8 .4-1.0 .3,1.5 .4-.8 .3-.6 .4,1.2 .3,0 .4,.7 .3,.1 .4-1.0 .3,.8 .4,1.1 .3,.2 .4,.1 .3-.8 .4,1.2 .3-.2 .4,1.0 .3,.6 .4-1.0 .3,.9 .4,.6 .4,.2 .3,.2 .4,.2 .3,.7 .4-1.1 .3,.6 .4,0 .3,.8 .4-.1 .3,.3 .4-.3 .3,.4 .4,.5 .3,.7 .4,.4 .3,.1 .4,.1 .3,.2 .4,.5 .3-1.1 .4,.8 .3,1.3 .4-.3 .3,.4 .4-.6 .3-.1 .4,1.1 .3-.5 .4,.6 .3-.5 .4,.1 .3,.7 .4,0 .3,.5 .4,.4 .3,.5 .4-.5 .3,.4 .4,.3 .3,.1 .4,.2 .4,.6 .3-.1 .4-.5 .3,.8 .4-.6 .3,1.3 .4,.3 .3-.5 .4-.1 .3,.8 .4-.4 .3,.1 .4,.1 .3,.6 .4,.2 .3,.8 .4-.5 .3,.1 .4-.3 .3,1.2 .4,0 .3,.2 .4-.6 .3,1.6 .4-.4 .3-1.2 .4,.8 .3,.9 .4-.3 .3-.2 .4,.2 .3,.5 .4,.4 .3-.5 .4,.5 .3-.2 .4,.3 .3,.5 .4-.6 .4,.9 .3-.2 .4,.5 .3,0 .4,.2 .3,.3 .4-.2 .3-.3 .4-.1 .3,.3 .4,.8 .3-.5 .4,.6 .3-.4 .4,1.3 .3-.9 .4,.9 .3-.5 .4,.7 .3-.4 .4,.6 .3,.7 .4-.2 .3-.1 .4,0 .3,.9 .4-.2 .3-.1 .4,0 .3,0 .4,.5 .3,.3 .4-.5 .3,.3 .4-.3 .3,.7 .4-.3 .3,.6 .4-.3 .4,.2 .3,0 .4,.6 .3-.2 .4,.4 .3-.1 .4-.2 .3-.7 .4,1.2 .3-.2 .4,.4 .3-.3 .4,.4 .3-.1 .4,.3 .3-.6 .4,.5 .3,1.1 .4-.5 .3,.2 .4,.8 .3-.3 .4-.1 .3,.2 .4-.1 .3,.7 .4-.7 .3,.1 .4,.2 .3,.3 .4,0 .3,.3 .4-.5 .3,.4 .4-.4 .3,.8 .4-.5 .3,.8 .4,0 .4,.3 .3-.4 .4,.3 .3-.1 .4-.2 .3,.6 .4-.1 .3,0 .4,.4 .3,.2 .4-.2 .3,.1 .4,0 .3,0 .4,.6 .3-.3 .4-.1 .3,.6 .4-.2 .3,.4 .4-.1 .3-.4 .4,.5 .3,.5 .4-.3 .3,.1 .4-.2 .3,.8 .4,0 .3-.2 .4,.5 .3-.7 .4,1.0 .3-.3 .4,.3 .3-.2 .4-.3 .3,.1 .4,0 .3,.2 .4,.8 .4-.6 .3,.7 .4-.3 .3,.1 .4,.1 .3-.2 .4,.4 .3-.6 .4,.4 .3-.1 .4,.2 .3,0 .4,.3 .3-.5 .4,.9 .3-.3 .4,.2 .3,.1 .4,0 .3,.3 .4-.4 .3,.1 .4,.3 .3-.1 .4,.5 .3,.3 .4-.3 .3,0 .4-.6 .3,.8 .4-.3 .3,.1 .4-.3 .3,.6 .4-.1 .3,.3 .4,.3 .3,.1 .4,0 .4-.5 .3,.3 .4,.2 .3,0 .4,.2 .3,0 .4,0 .3-.1 .4,0 .3,.7 .4-.4 .3-.2 .4,.6 .3-.1 .4-.1 .3-.1 .4,.1 .3,.3 .4-.1 .3-.1 .4,.2 .3-.3 .4,.4 .3,.5 .4-.1 .3-.1 .4,.1 .3-.1 .4,.1 .3-.3 .4,.3 .3-.1 .4,.6 .3-.1 .4-.2 .3,.2 .4-.1 .3,.2 .4,.2 .4-.4 .3,.1 .4,.7 .3-.2 .4-.1 .3-.1 .4,.3 .3,.3 .4-.4 .3,.2 .4-.2 .3,.2 .4-.1 .3,.1 .4,0 .3,.4 .4-.3 .3,.2 .4,.4 .3-.1 .4,0 .3-.1 .4,0 .3,.4 .4-.4 .3,.3 .4,.2 .3-.3 .4,.4 .3,.1 .4-.4 .3,0 .4,.4 .3-.3 .4,0 .3,.4 .4-.5 .3,.5 .4,0 .4,.6 .3-.6 .4,.3 .3-.2 .4,.5 .3-.6 .4,0 .3,0 .4,1.0 .3-.7 .4,.1 .3,.7 .4-.4 .3-.1 .4-.3 .3,.5 .4-.1 .3,.1 .4-.1 .3,.2 .4-.2 .3,0 .4,.5 .3-.5 .4,.5 .3-.1 .4-.2 .3,.2 .4-.1 .3,0 .4,.1 .3,.3 .4,.1 .3-.3 .4,0 .3,.1 .4,.2 .3-.2 .4,.2 .3,.3 .4-.3 .4,0 .3,0 .4,.4 .3,0 .4-.2 .3,.2 .4-.1 .3-.1 .4,.1 .3-.2 .4,.3 .3-.2 .4,.1 .3-.2 .4,.5 .3,0 .4-.2 .3,.4 .4,0 .3-.1 .4,0 .3,.3 .4-.2 .3,.1 .4,0 .3,0 .4,.1 .3-.2 .4,.1 .3,.2 .4-.1 .3-.1 .4,.1 .3-.1 .4,.3 .3,0 .4-.3 .3,.4 .4-.3 .4,.2 .3,.2 .4,.2 .3-.3 .4,.2 .3,.1 .4,.2 .3-.5 .4,.2 .3,.1 .4-.1 .3,.1 .4,0 .3,0 .4,.1 .3,.5 .4-.6 .3,.1 .4,.1 .3-.2 .4,.5 .3,.3 .4-.7 .3,.2 .4,.3 .3-.2 .4-.1 .3,.3 .4-.2 .3-.3 .4,.2 .3,.2 .4,0 .3,.2 .4-.1 .3,.1 .4,.1 .3,.1 .4-.5 .4,.3 .3,.2 .4-.1 .3-.3 .4,0 .3,.4 .4-.1 .3-.1 .4,.2 .3,.2 .4,0 .3-.1 .4,.1 .3,.1 .4-.1 .3-.2 .4,.1 .3,.1 .4-.3 .3,.5 .4-.1 .3,.2 .4-.3 .3,.1 .4,.3 .3-.1 .4-.4 .3,.2 .4,.1 .3-.1 .4,.4 .3-.1 .4,.1 .3-.1 .4,0 .3-.1 .4-.1 .3,.1 .4-.3 .4,.5 .3,0 .4-.1 .3,.2 .4,0 .3-.1 .4,.2 .3-.2 .4-.1 .3,.4 .4,.2 .3-.4 .4,.2 .3-.1 .4,.1 .3-.1 .4-.1 .3,0 .4,.2 .3,.1 .4,.3 .3-.1 .4-.2 .3-.1 .4,.2 .3,0 .4,.1 .3,.1 .4,0 .3-.3 .4,.3 .3-.3 .4,.2 .3-.2 .4,.1 .3,0 .4-.1 .3,.3 .4,0 .4,0 .3,0 .4-.1 .3,.1 .4,0 .3-.1 .4,.2 .3-.2 .4,.4 .3-.3 .4,0 .3,.2 .4,0 .3-.2 .4,.2 .3,.2 .4-.1 .3-.3 .4,.3 .3-.3 .4,0 .3,.3 .4-.1 .3,.2 .4-.1 .3,.1 .4-.2 .3,.3 .4-.1 .3-.1 .4,0 .3,.3 .4,0 .3-.1 .4-.1 .3,0 .4,0 .3-.2 .4,.2 .3,0 .4,.2 .4-.2 .3,0 .4,.1 .3,.1 .4-.1 .3-.1 .4,.3 .3,.2 .4-.4 .3,0 .4,.2 .3,0 .4-.4 .3,.4 .4,.1 .3,0 .4-.2 .3,.2 .4,0 .3-.1 .4,.1 .3,0 .4,0 .3,.1 .4-.1 .3,.2 .4-.3 .3,.2 .4,0 .3,.2 .4-.2 .3,.1 .4-.3 .3,.2 .4,0 .3,.2 .4,0 .3-.1 .4,.1 .4-.3 .3,.2 .4,0 .3,0 .4,0 .3-.1 .4,.2 .3-.1 .4-.1 .3,.1 .4,.1 .3,0 .4,0 .3-.1 .4,.1 .3,.2 .4-.2 .3,.1 .4-.1 .3,.1 .4-.2 .3,.3 .4,0 .3-.2 .4,.2 .3-.1 .4,0 .3,.3 .4-.3 .3-.1 .4,.1 .3,.2 .4-.2 .3,.2 .4-.1 .3,0 .4,.1 .3,.1 .4-.1 .4,0 .3,0 .4,0 .3-.1 .4,.1 .3,0 .4,.1 .3-.1 .4,0 .3,0 .4,.2 .3-.1 .4,0 .3,0 .4-.1 .3,0 .4,0 .3,.1 .4,0 .3,0 .4,.1 .3,0 .4,0 .3-.1 .4,.1 .3-.2 .4,.1 .3,.1 .4-.1 .3,.1 .4-.1 .3,0 .4-.2 .3,.4 .4-.1 .3,0 .4,0 .3,0 .4,.1 .4,0 .3-.1 .4,0 .3,.2 .4,0 .3-.2 .4,0 .3,0 .4,.2 .3-.1 .4,0 .3,0 .4,.1 .3,0 .4-.1 .3,.1 .4,0 .3,0 .4,0 .3,0 .4,0 .3,0 .4-.1 .3,.1 .4,.1 .3-.2 .4,.2 .3-.1 .4,.1 .3,0 .4,0 .3,0 .4,.1 .3-.1 .4,0 .3,0 .4,0 .3-.2 .4,.2 .3,0 .4,0 .4,0 .3,0 .4,.1 .3-.2 .4,.2 .3-.1 .4,0 .3,.2 .4-.2 .3,0 .4,.1 .3-.2 .4,.1 .3,.1 .4,.1 .3,0 .4-.1 .3,0 .4,.1 .3,0 .4,0 .3,0 .4,0 .3,0 .4-.1 .3,0 .4,.1 .3,.2 .4-.2 .3-.1 .4,.1 .3,0 .4,0 .3,.1 .4,.1 .3-.2 .4,.1 .3-.1 .4,.1 .4,0 .3-.2 .4,.2 .3,0 .4,0 .3,0 .4-.1 .3,0 .4,.1 .3,.1 .4-.1 .3-.1 .4,0 .3-.1 .4,.2 .3,.1 .4,0 .3-.1 .4-.1 .3,.2 .4-.1 .3,0 .4,.1 .3-.1 .4,.1 .3,0 .4,0 .3-.1 .4,.2 .3-.2 .4,.2 .3-.1 .4,0 .3-.1 .4,.1 .3,0 .4,.1 .3-.1 .4,.1 .4-.2 .3,.3 .4-.2 .3,.2 .4-.2 .3,.1 .4-.2 .3,.2 .4-.1 .3,0 .4,0 .3,.1 .4,.2 .3-.2 .4,.1 .3-.2 .4,0 .3,.1 .4,0 .3,0 .4,0 .3-.1 .4,.1 .3,0 .4,.1 .3,0 .4-.1 .3,0 .4,.1 .3-.1 .4,.1 .3-.1 .4,.1 .3,0 .4,0 .3-.1 .4,0 .3,0 .4,.1 .4,0 .3-.1 .4,0 .3,.2 .4-.1 .3,0 .4,0 .3,0 .4-.1 .3,.2 .4-.2 .3,.2 .4-.1 .3,0 .4-.1 .3,.1 .4,0 .3-.1 .4,.1 .3,0 .4-.1 .3,.2 .4,0 .3,0 .4-.2 .3,.1 .4,.1 .3-.1 .4,0 .3,0 .4,.2 .3-.1 .4,0 .3-.1 .4,.1 .3,0 .4,0 .3,.1 .4-.3 .3,.1 .4,0 .4,.1 .3,0 .4-.1 .3,0 .4,.1 .3,.1 .4-.1 .3,0 .4,0 .3,.1 .4-.1 .3,0 .4,0 .3,0 .4,.1 .3,0 .4-.1 .3,0 .4,.1 .3,0 .4-.1 .3,0 .4,.1 .3-.1 .4,.1 .3-.1 .4,0 .3,.1 .4,0 .3,0 .4-.1 .3,0 .4,.1 .3,0 .4,0 .3-.1 .4,.1 .3-.1 .4,.1 .4-.1 .3,.1 .4,0 .3,0 .4,0 .3,0 .4,0 .3,0 .4,0 .3,0 .4,0 .3,0 .4,.2 .3-.2 .4,0 .3-.1 .4,.1 .3,0 .4,0 .3,0 .4,0 .3,.1 .4,0 .3-.1 .4,.1 .3-.1 .4,.1 .3-.1 .4,0 .3,.1 .4,0 .3,0 .4,.1 .3-.1 .4-.1 .3,0 .4,.1 .3,0 .4-.1 .4,0 .3,.1 .4-.1 .3,0 .4,0 .3,.1 .4,0 .3-.1 .4,0 .3,.1 .4-.1 .3,0 .4,.1 .3,0 .4-.1 .3,0 .4,.1 .3,0 .4,0 .3,0 .4-.1 .3,.2 .4,0 .3-.1 .4-.1 .3,.1 .4,0 .3,.1 .4-.1 .3,.1 .4,0 .3,0 .4-.1 .3-.1 .4,.1 .3,0 .4-.1 .3,.2 .4,0 .4-.1 .3,.1 .4-.1 .3,0 .4,.1 .3,0 .4-.1 .3,.1 .4,0 .3-.1 .4,.1 .3,0 .4-.1 .3,.1 .4-.1 .3,.1 .4,0 .3,0 .4-.1 .3,.1 .4-.1 .3,.1 .4,0 .3-.1 .4,.1 .3,0 .4,0 .3,0 .4,0 .3,.1 .4-.1 .3-.1 .4,0 .3,0 .4,.1 .3,0 .4,0 .3,0 .4,0 .3,.1 .4-.2 .4,.1 .3,0 .4,0 .3,0 .4,0 .3,.1 .4,0 .3-.1 .4,0 .3,0 .4,0 .3-.1 .4,.2 .3,0 .4-.1 .3,.1 .4-.1 .3,0 .4,.1 .3-.1 .4,0 .3,0 .4-.1 .3,.1 .4,0 .3-.1 .4,.1 .3-.1 .4,.1 .3,.1 .4,0 .3-.1 .4,0 .3,0 .4,0 .3,.1 .4,0 .3-.1 .4,0 .4,0 .3,0 .4,0 .3,.1 .4-.1 .3,.1 .4-.1 .3,0 .4,.1 .3-.1 .4,0 .3,0 .4,0 .3,0 .4,.1 .3-.1 .4,0 .3,.1 .4,0 .3,0 .4-.1 .3,.1 .4-.1 .3,.1 .4,0 .3-.1 .4,0 .3,0 .4,.1 .3-.1 .4,.1 .3,0 .4,0 .3-.1 .4,.1 .3,0 .4,0 .3,0 .4,0" stroke="#00ab2c"/>
<path d="M76.2,381.1l.4-.1 .3,0 .4,0 .3,.1 .4-.1 .3,0 .4,0 .3,0 .4-.1 .3-.5 .4-1.0 .3-2.4 .4-3.6 .3-4.0 .4-9.7 .3-18.0 .4-22.6 .3-24.6 .4-34.2 .3-48.6 .4-51.3 .3-44.6 .4-20.2 .3-14.2 .4-8.1 .3-6.5 .4-6.7 .3-8.3 .4-4.1 .3-6.6 .4-5.7 .3-5.5 .4-7.7 .3-6.7 .4-3.3 .1-.2M89.4,12.0l.1,.5 .4,3.1 .4,3.8 .3-.8 .4,5.3 .3,3.3 .4,2.6 .3,1.7 .4,3.7 .3,1.9 .4,2.5 .3,1.1 .4,6.0 .3,.6 .4,3.9 .3,2.2 .4-.1 .3,3.8 .4,3.8 .3,1.4 .4,3.1 .3,1.0 .4,4.4 .3,1.2 .4,3.3 .3,2.0 .4,2.6 .3,2.9 .4,1.4 .3,1.2 .4,4.2 .3,2.0 .4,1.3 .3,3.6 .4,.2 .3,2.4 .4,5.7 .3,.2 .4,2.6 .3-.2 .4,2.0 .4,4.6 .3,1.4 .4,1.4 .3,2.3 .4,.7 .3,1.7 .4,2.4 .3,1.4 .4,2.1 .3,3.1 .4,2.3 .3,2.3 .4,.1 .3,1.8 .4,1.7 .3,3.3 .4,1.9 .3,1.0 .4,.7 .3,2.8 .4,1.9 .3,2.9 .4,.3 .3,1.6 .4,3.3 .3-1.2 .4,4.5 .3-.3 .4,2.9 .3,1.2 .4,2.6 .3,1.4 .4,.3 .3,2.5 .4,1.7 .3,.3 .4,1.7 .3,2.1 .4,1.4 .3,0 .4,3.4 .4,1.0 .3,1.4 .4,3.3 .3,1.9 .4-.6 .3,.7 .4,2.1 .3,2.1 .4,1.5 .3-.1 .4,2.5 .3,2.6 .4-.9 .3,1.8 .4,1.2 .3,.6 .4,1.1 .3,2.0 .4,2.0 .3,3.0 .4-1.0 .3,1.7 .4-.1 .3,1.3 .4,1.9 .3,.4 .4,2.5 .3,1.2 .4,1.9 .3,.7 .4,.7 .3,.4 .4,2.7 .3-.2 .4-.3 .3,4.4 .4,.2 .3,.8 .4,.2 .4,.3 .3,1.7 .4,2.2 .3,1.7 .4,.4 .3,1.0 .4,.8 .3,2.0 .4-1.1 .3,2.9 .4-.1 .3,1.3 .4,2.1 .3,0 .4,1.0 .3,1.1 .4,.2 .3,2.0 .4-1.6 .3,2.1 .4,2.6 .3,2.2 .4-2.1 .3,1.7 .4,1.0 .3,1.7 .4,1.3 .3,1.2 .4-2.6 .3,1.6 .4,2.5 .3-1.0 .4,3.7 .3-1.1 .4,.8 .3,2.0 .4,.5 .3,1.3 .4-.1 .4-.1 .3,1.0 .4,1.2 .3,.3 .4,2.9 .3-2.1 .4,2.3 .3,1.7 .4,.1 .3,.9 .4,.2 .3,.6 .4,2.6 .3-1.9 .4,.4 .3,2.7 .4-1.1 .3,.8 .4,.9 .3,.2 .4,2.9 .3-.9 .4,1.9 .3-1.7 .4,3.0 .3,.9 .4-1.0 .3,1.0 .4,1.0 .3,.6 .4,.3 .3-.2 .4,2.3 .3,.5 .4,.6 .3,.3 .4,.6 .3,1.4 .4-.5 .4,1.7 .3-.1 .4,.6 .3,.5 .4-.5 .3,.4 .4,1.0 .3,.2 .4,1.8 .3-.6 .4,1.5 .3,.3 .4,.6 .3,1.5 .4,.1 .3,.2 .4,.2 .3,.8 .4,1.0 .3,.7 .4-.2 .3,1.2 .4,.5 .3-.2 .4,.3 .3,1.1 .4,1.1 .3-.8 .4,.2 .3,1.2 .4,.4 .3,1.7 .4-1.5 .3,1.6 .4-.6 .3,1.2 .4,.2 .3,.5 .4,1.4 .3-2.3 .4,3.0 .4-.6 .3,1.0 .4,.1 .3-.5 .4,2.3 .3-.6 .4,0 .3,.7 .4,.2 .3,1.1 .4,.9 .3,.2 .4-.1 .3-.3 .4,.8 .3-.5 .4,1.2 .3,.3 .4,.4 .3,1.4 .4-.8 .3,1.2 .4,0 .3-1.1 .4,2.3 .3-.4 .4,.3 .3,.4 .4,.4 .3,.7 .4-1.0 .3,2.4 .4-.2 .3-.9 .4,.8 .3,1.0 .4,.4 .3,0 .4-1.2 .4,1.5 .3,1.1 .4-.4 .3,.8 .4-.8 .3,.9 .4-.1 .3,.8 .4-.6 .3,1.1 .4,.4 .3,.9 .4,0 .3-.1 .4,.7 .3-1.1 .4,1.5 .3,.6 .4-.5 .3,1.0 .4-.2 .3,.5 .4,.6 .3-.7 .4,.8 .3-.2 .4,1.0 .3,.8 .4,.1 .3,0 .4,.1 .3,.1 .4,.1 .3,1.0 .4-.4 .3,.9 .4,0 .3-1.2 .4,.8 .4,1.0 .3-.7 .4,.4 .3,.5 .4-.1 .3,1.0 .4,.2 .3,.6 .4-.4 .3,1.0 .4-.1 .3-.2 .4,.6 .3-.1 .4-.4 .3,1.4 .4-.8 .3,1.1 .4,.3 .3-.2 .4-.2 .3,1.0 .4,.2 .3,.1 .4,.3 .3-.2 .4,.6 .3,0 .4,0 .3,.5 .4-.5 .3,1.0 .4,.2 .3-1.0 .4,.5 .3,.7 .4-.1 .3,.4 .4,.5 .4-.3 .3,.4 .4-.2 .3,1.4 .4-.9 .3,.5 .4,.5 .3,.1 .4,.1 .3,.5 .4-.1 .3-.3 .4,1.0 .3-.2 .4,.9 .3-.5 .4-.2 .3,.3 .4,.1 .3,.6 .4-.4 .3,.7 .4-.5 .3,.4 .4,.4 .3-.6 .4,.9 .3-.4 .4,.5 .3,.2 .4-.2 .3,.3 .4,.3 .3,.2 .4,.1 .3,.1 .4,.3 .3,.4 .4,.7 .3-.7 .4,.2 .4-.4 .3,.4 .4-.1 .3-.1 .4,.8 .3,.4 .4-.4 .3,.6 .4,0 .3-.4 .4,.4 .3-.1 .4,1.0 .3-.3 .4-.3 .3,1.0 .4-.4 .3,.1 .4,1.0 .3-1.2 .4,.9 .3-.1 .4-.5 .3,1.3 .4-.6 .3,.4 .4,0 .3,.4 .4-.6 .3,.9 .4-.4 .3,.1 .4,.3 .3,.2 .4,.1 .3-.3 .4,.3 .3,.3 .4,.4 .4-.3 .3,0 .4,.3 .3-.4 .4,1.2 .3-1.3 .4,1.0 .3,.4 .4,.3 .3-.8 .4,.2 .3,.4 .4,0 .3,.1 .4,.2 .3-.3 .4,.2 .3,.3 .4,.6 .3-.8 .4,.6 .3,.3 .4-.6 .3,.3 .4,.9 .3,0 .4-.3 .3,.3 .4-.2 .3-.7 .4,0 .3,.9 .4-.1 .3,0 .4,.4 .3,.5 .4-.7 .3,.5 .4-.1 .4,0 .3,.5 .4-.6 .3,.5 .4,.1 .3,.3 .4-.3 .3,0 .4,.5 .3-.2 .4,.4 .3,.3 .4-.2 .3-.2 .4,.1 .3-.1 .4,.6 .3,0 .4-.1 .3,0 .4,.2 .3,.3 .4,.3 .3-.7 .4,.1 .3,.6 .4-.5 .3,.4 .4,0 .3-.2 .4,.6 .3,.1 .4,.3 .3-.4 .4,0 .3,0 .4,.1 .3,.2 .4-.2 .4,.6 .3-.3 .4,.1 .3,.2 .4-.4 .3,.4 .4-.2 .3,.2 .4,.3 .3-.4 .4,.2 .3,.4 .4,.1 .3,.2 .4-.1 .3,.1 .4-.1 .3,.2 .4-.1 .3,.2 .4,.4 .3-.2 .4,.2 .3,.1 .4-.2 .3-.2 .4,.5 .3,.3 .4-.4 .3-.7 .4,.9 .3-.1 .4,.2 .3-.2 .4-.1 .3,.4 .4-.3 .3,.6 .4-.2 .3,.4 .4-.3 .4,.2 .3-.1 .4,.3 .3-.2 .4,.1 .3,.2 .4,.1 .3,.1 .4-.1 .3-.1 .4,.1 .3,0 .4-.2 .3,.4 .4-.1 .3,0 .4,.1 .3,0 .4,.2 .3-.4 .4,.5 .3,.1 .4-.2 .3-.1 .4,.1 .3,.3 .4-.1 .3,.1 .4,.1 .3-.1 .4,.1 .3,.1 .4-.3 .3,.5 .4-.3 .3-.1 .4,0 .3,.5 .4,.1 .4,.3 .3-.2 .4-.5 .3,.9 .4,0 .3-.5 .4,.1 .3,.6 .4-.3 .3-.1 .4,.4 .3-.4 .4,.5 .3-.5 .4,.2 .3,.3 .4,.2 .3-.2 .4,0 .3,0 .4,.1 .3,0 .4-.2 .3,.4 .4-.1 .3-.1 .4,.1 .3-.1 .4-.1 .3,.4 .4-.1 .3,.7 .4-.5 .3-.2 .4,.4 .3-.4 .4,.6 .3-.5 .4,.3 .4,.2 .3-.1 .4,0 .3,.2 .4,.1 .3-.2 .4-.2 .3,.1 .4-.1 .3,.4 .4,0 .3,0 .4-.1 .3,0 .4-.2 .3,.2 .4,.2 .3-.2 .4,.4 .3,.1 .4-.3 .3,.1 .4,.1 .3-.2 .4,.3 .3,0 .4-.1 .3,0 .4,0 .3,.2 .4,0 .3,.5 .4-.6 .3,.5 .4-.3 .3-.4 .4,.5 .3,.3 .4-.5 .4,.4 .3-.1 .4,.1 .3-.2 .4,0 .3,.2 .4-.2 .3,.4 .4-.2 .3,.2 .4-.2 .3,.3 .4,0 .3-.3 .4,.4 .3,.1 .4-.3 .3,.2 .4,0 .3,0 .4-.4 .3,.6 .4-.1 .3-.1 .4,.2 .3-.1 .4,0 .3,.2 .4-.3 .3,.4 .4-.1 .3-.1 .4-.4 .3,.8 .4-.3 .3-.4 .4,.6 .3-.3 .4,.2 .3,.3 .4-.3 .4,.2 .3-.1 .4,.3 .3-.4 .4,.5 .3-.3 .4-.2 .3,.1 .4,.2 .3,0 .4,.1 .3-.5 .4,.4 .3,.1 .4,.1 .3,0 .4-.2 .3,.2 .4,.1 .3,0 .4-.1 .3,0 .4,.1 .3,0 .4,.1 .3-.3 .4,.2 .3,.1 .4-.1 .3,.1 .4,.2 .3-.2 .4-.2 .3,.2 .4-.1 .3,.3 .4,.1 .3-.1 .4-.3 .4,.4 .3,0 .4-.3 .3,.2 .4,.1 .3-.1 .4,0 .3,.1 .4,0 .3,.1 .4-.1 .3,0 .4,.2 .3-.1 .4,.2 .3-.3 .4,0 .3,0 .4,0 .3,0 .4,.1 .3,.2 .4-.2 .3,.3 .4-.5 .3,.3 .4,0 .3,.3 .4-.3 .3,0 .4,.4 .3-.2 .4,0 .3,.1 .4-.3 .3-.1 .4,.5 .3-.3 .4,.2 .4-.2 .3,.5 .4-.2 .3-.2 .4,.3 .3-.3 .4,.2 .3-.2 .4,.1 .3,.2 .4,0 .3,0 .4-.2 .3,.2 .4,.1 .3-.5 .4,.6 .3-.1 .4-.1 .3,.2 .4-.1 .3,0 .4,.2 .3-.2 .4,.2 .3-.1 .4-.2 .3,.3 .4-.2 .3-.1 .4,.1 .3,.1 .4,.1 .3,.1 .4-.2 .3,0 .4,.1 .3,.1 .4-.2 .4,.2 .3-.1 .4,.1 .3,.2 .4-.4 .3,.1 .4,0 .3,.3 .4-.2 .3,0 .4,.1 .3-.3 .4,.5 .3-.3 .4,.3 .3,0 .4,0 .3-.3 .4,.2 .3,0 .4,.1 .3,0 .4,0 .3,0 .4-.1 .3,.1 .4,.2 .3-.2 .4-.2 .3,.2 .4,0 .3,.1 .4,0 .3-.1 .4,.2 .3-.2 .4,.2 .3-.2 .4,.2 .4-.2 .3-.1 .4,.4 .3-.3 .4,.1 .3-.1 .4,.2 .3,0 .4,0 .3-.2 .4,.4 .3-.3 .4,.1 .3,0 .4,0 .3-.1 .4,0 .3-.1 .4,.3 .3,.2 .4-.2 .3,0 .4,0 .3-.2 .4-.1 .3,.3 .4,.2 .3-.3 .4,.2 .3-.1 .4-.1 .3,.1 .4,.1 .3-.1 .4,0 .3,0 .4-.1 .3,.5 .4-.2 .3,0 .4-.2 .4,.1 .3,0 .4,.2 .3-.1 .4-.1 .3,.1 .4,0 .3,0 .4-.2 .3,.4 .4-.4 .3,.2 .4,.1 .3-.1 .4,0 .3-.1 .4,.2 .3-.1 .4,.2 .3-.1 .4-.1 .3,.1 .4-.1 .3,.2 .4-.2 .3,.2 .4,0 .3,0 .4,0 .3,0 .4-.1 .3,.1 .4-.1 .3,.2 .4,0 .3-.1 .4,.1 .3-.1 .4,0 .4-.1 .3,0 .4,.1 .3,.1 .4-.1 .3,.1 .4-.1 .3,.2 .4-.2 .3,0 .4,.1 .3,.1 .4-.1 .3,.1 .4-.1 .3,.1 .4,0 .3-.1 .4-.1 .3,.3 .4-.1 .3-.1 .4,.1 .3,0 .4-.2 .3,.3 .4-.1 .3,0 .4,0 .3,.2 .4-.3 .3,.1 .4,.1 .3-.2 .4,.2 .3,0 .4,0 .3-.1 .4,.1 .4,0 .3,.1 .4,0 .3-.1 .4,0 .3,.2 .4-.1 .3-.1 .4-.2 .3,.3 .4,.1 .3-.2 .4,.1 .3,.1 .4-.2 .3,.1 .4,0 .3,.1 .4-.1 .3,0 .4,.1 .3-.2 .4,.2 .3-.2 .4,.1 .3,0 .4,0 .3,.1 .4-.1 .3-.1 .4,.2 .3-.1 .4,.1 .3-.1 .4,0 .3,.2 .4-.2 .3,.2 .4,0 .4-.1 .3-.1 .4,0 .3,.2 .4-.1 .3,0 .4,.1 .3-.1 .4-.1 .3,0 .4,.2 .3,0 .4,0 .3,0 .4,0 .3-.1 .4,0 .3,.1 .4-.1 .3,0 .4,.1 .3,0 .4,0 .3,.1 .4-.1 .3-.1 .4-.1 .3,.2 .4,0 .3,0 .4,0 .3,0 .4,.1 .3-.1 .4,0 .3,.2 .4-.3 .3,.2 .4-.1 .3,0 .4,.1 .4,0 .3-.1 .4,0 .3,.1 .4,.1 .3-.1 .4,.1 .3-.2 .4,.2 .3-.2 .4,.1 .3,0 .4-.1 .3,.1 .4,0 .3,0 .4,0 .3,.1 .4-.3 .3,.2 .4,.1 .3-.1 .4,0 .3,0 .4,0 .3-.1 .4,.1 .3-.1 .4,.1 .3,.1 .4-.1 .3,.1 .4-.1 .3,0 .4,.1 .3,0 .4,0 .3,0 .4-.1 .4,.1 .3-.1 .4,0 .3,.1 .4,.1 .3-.1 .4,0 .3,0 .4,0 .3,0 .4,0 .3,.1 .4,0 .3,0 .4,.1 .3-.1 .4-.1 .3,.1 .4-.1 .3-.1 .4,.2 .3,0 .4,0 .3,0 .4-.1 .3,.1 .4-.1 .3,.2 .4-.3 .3,0 .4,.2 .3,0 .4,0 .3,0 .4,.1 .3-.1 .4,0 .3,0 .4,.2 .4-.1 .3-.1 .4,0 .3,.1 .4,0 .3-.1 .4,0 .3,0 .4,0 .3,0 .4,0 .3,.2 .4-.2 .3,0 .4,0 .3,0 .4,.1 .3-.1 .4,.1 .3,0 .4,0 .3,0 .4,.1 .3-.1 .4-.1 .3,.1 .4,.1 .3-.1 .4-.1 .3,.2 .4-.2 .3,.2 .4-.1 .3,0 .4-.1 .3,.1 .4,0 .3,.1 .4-.2 .4,.1 .3,0 .4,0 .3,0 .4,0 .3-.1 .4,.3 .3-.2 .4,.1 .3-.1 .4,.1 .3-.1 .4,0 .3,0 .4,.1 .3-.1 .4,.1 .3-.1 .4,0 .3,.1 .4-.1 .3,.1 .4-.2 .3,.2 .4,0 .3-.1 .4,0 .3,0 .4,0 .3,0 .4,.1 .3,0 .4,0 .3,0 .4-.1 .3,0 .4,.1 .3,0 .4,0 .3,.1 .4-.1 .4,0 .3,0 .4,.1 .3,0 .4-.1 .3-.1 .4,.2 .3-.1 .4,0 .3,.1 .4,0 .3-.1 .4,0 .3,.1 .4-.2 .3,0 .4,.1 .3,0 .4,0 .3,0 .4,0 .3,0 .4,0 .3,.1 .4-.1 .3,0 .4,0 .3,.1 .4,0 .3,0 .4-.1 .3,0 .4,.1 .3-.1 .4,0 .3,.1 .4,0 .3-.1 .4,.1 .4-.1 .3,.1 .4,0 .3,0 .4-.1 .3,0 .4,.1 .3,.1 .4-.1 .3,0 .4,0 .3,0 .4,0 .3-.2 .4,.2 .3,0 .4,0 .3,.1 .4-.2 .3,.1 .4,.1 .3-.1 .4,0 .3,0 .4-.1 .3,.1 .4,0 .3,0 .4,0 .3-.1 .4,.2 .3-.2 .4,.1 .3,0 .4,0 .3,0 .4,.1 .3,0 .4-.2 .4,.1 .3,0 .4,0 .3,.1 .4-.1 .3,0 .4,0 .3,.1 .4-.1 .3,0 .4,0 .3,.1 .4-.1 .3,0 .4,.1 .3-.1 .4-.1 .3,.2 .4-.1 .3,.1 .4,0 .3-.1 .4,0 .3,0 .4,0 .3,0 .4,.1 .3-.1 .4,0 .3,0 .4,.1 .3,0 .4,0 .3-.1 .4,0 .3,.1 .4-.1 .3,.1 .4-.1 .4,0 .3,0 .4,.1 .3,0 .4,.1 .3-.2 .4,.1 .3-.1 .4,.1 .3-.1 .4,.1 .3,0 .4,0 .3-.1 .4,.1 .3,0 .4,0 .3,0 .4,0 .3,0 .4,0 .3-.1 .4,.1 .3-.1 .4,.1 .3,0 .4,0 .3,0 .4,0 .3,0 .4,0 .3,0 .4,.1 .3-.1 .4,0 .3,0 .4,0 .3,0 .4,0 .3,0 .4,0 .4,0 .3,0 .4,0 .3,0 .4,0 .3,0 .4,0 .3,0 .4,.1 .3-.1 .4,.1 .3-.1 .4,.1 .3-.1 .4-.1 .3,.1 .4,.1 .3-.1 .4,0 .3,0 .4,.1 .3-.1 .4,0 .3,0 .4,0 .3,0 .4,.1 .3-.1 .4,.1 .3-.1 .4,0 .3,0 .4,0 .3,0 .4,.1 .3-.1 .4,0 .3,.1 .4,0 .4,0 .3,0 .4-.1 .3,.1 .4-.1 .3,0 .4,.1 .3-.1 .4,.1 .3-.1 .4,.1 .3,0 .4-.1 .3,0 .4,.1 .3,0 .4-.1 .3,.1 .4,0 .3,0 .4,0 .3,0 .4,0 .3,0 .4,0 .3-.1 .4,.1 .3,0 .4-.1 .3,.1 .4,0 .3,0 .4,0 .3,0 .4,0 .3,0 .4,0 .3,0 .4,0" stroke="#ffa000"/>
<path d="M76.2,381.0l.4,0 .3,0 .4,0 .3,0 .4,0 .3,0 .4,0 .3,0 .4,0 .3-.2 .4-.5 .3-1.4 .4-2.2 .3-2.7 .4-4.3 .3-8.0 .4-15.4 .3-21.0 .4-23.9 .3-29.3 .4-47.9 .3-51.7 .4-49.0 .3-26.4 .4-12.8 .3-8.3 .4-7.5 .3-8.6 .4-4.9 .3-6.7 .4-5.5 .3-10.4 .4-4.2 .3-5.9 .4-7.2 .3-3.1M89.6,12.0l.3,5.2 .4,2.7 .3,.9 .4,2.6 .3,7.4 .4,2.7 .3,5.4 .4,2.4 .3,3.4 .4,2.3 .3,4.7 .4,.5 .3,4.5 .4,3.4 .3,1.6 .4,4.6 .3,4.3 .4,1.4 .3,.3 .4,5.6 .3,2.4 .4,3.8 .3,2.8 .4,2.0 .3,6.7 .4,1.0 .3,1.9 .4,2.3 .3,.6 .4,1.5 .3,4.8 .4,2.9 .3,2.2 .4,1.6 .3,5.4 .4,1.9 .3,1.7 .4,2.3 .3,4.9 .4-.3 .4,4.7 .3-.4 .4,2.2 .3,5.8 .4-.9 .3,2.6 .4,3.1 .3,.4 .4,1.0 .3,3.8 .4,3.9 .3,2.4 .4,1.8 .3,1.9 .4-.3 .3,2.9 .4,2.3 .3,1.0 .4,2.8 .3,1.9 .4,2.8 .3,1.7 .4,1.2 .3,3.0 .4-1.1 .3,3.4 .4,2.5 .3,.2 .4,3.8 .3-.4 .4,2.6 .3,0 .4,4.0 .3,1.5 .4,2.1 .3,2.0 .4,.1 .3,2.9 .4,.2 .3,2.5 .4-.1 .4,4.9 .3-1.3 .4,1.9 .3,1.5 .4,2.0 .3-.7 .4,3.4 .3,.6 .4,2.1 .3,1.4 .4,1.0 .3,.8 .4,3.0 .3,.7 .4,2.2 .3-.3 .4,2.4 .3,1.2 .4,0 .3,1.8 .4,.9 .3,1.7 .4,.7 .3,1.5 .4,2.2 .3,.1 .4,1.6 .3,1.1 .4,.7 .3,1.8 .4,1.5 .3-.7 .4,.5 .3,2.9 .4-.1 .3,1.7 .4,1.9 .3,1.2 .4,.5 .4,1.2 .3,.9 .4,.8 .3,1.8 .4-.6 .3,2.6 .4,.9 .3-.6 .4,1.1 .3,.4 .4,1.9 .3,1.5 .4-.4 .3,1.8 .4,.9 .3,1.5 .4-.1 .3,2.9 .4-1.3 .3,2.8 .4-1.3 .3,2.6 .4-.8 .3-.5 .4,2.8 .3,1.5 .4-1.5 .3,2.5 .4,1.3 .3-.9 .4,3.6 .3-.2 .4,.7 .3,.3 .4,1.6 .3-1.2 .4,.6 .3,1.4 .4,1.0 .4,1.5 .3-.7 .4,1.5 .3-.3 .4,.5 .3,1.3 .4,2.1 .3-.1 .4-.9 .3,1.4 .4-.2 .3,3.1 .4-.8 .3,.7 .4,1.5 .3,0 .4-.4 .3,.9 .4,1.2 .3,.1 .4,0 .3,2.0 .4-.3 .3,.1 .4,1.7 .3-.7 .4,1.4 .3-.2 .4,.7 .3,.9 .4,.9 .3,.8 .4,0 .3,.5 .4-.2 .3,1.4 .4,.2 .3-.2 .4,1.3 .4,.4 .3-.2 .4,1.4 .3,.3 .4,.2 .3,1.0 .4,1.1 .3,.6 .4-.2 .3-.3 .4,.5 .3,.1 .4,.8 .3,1.3 .4,.9 .3-.1 .4,.3 .3,.7 .4-.5 .3,1.4 .4-.4 .3,.4 .4,1.7 .3-.3 .4-.5 .3,.6 .4,.8 .3,1.1 .4,.1 .3,0 .4-.2 .3,.7 .4,.7 .3,.2 .4,.1 .3,1.7 .4,0 .3-.2 .4-.3 .3,.5 .4,1.3 .4-.1 .3,.7 .4,.2 .3,.1 .4,.6 .3,.4 .4,.6 .3,.6 .4-.4 .3,.1 .4,.1 .3,1.1 .4,.2 .3-.6 .4,.7 .3,.1 .4,1.0 .3,.4 .4,.5 .3-.8 .4,1.3 .3,.6 .4-.2 .3-.6 .4,.9 .3,.1 .4,.4 .3,.3 .4,.4 .3,.8 .4-1.1 .3,1.1 .4-.4 .3,1.5 .4-.6 .3,1.0 .4,.3 .3-.4 .4-.1 .4,.1 .3,.3 .4,.9 .3-.2 .4,.9 .3,.2 .4-.1 .3,.4 .4-.2 .3,1.4 .4-1.1 .3,1.0 .4-.6 .3,.3 .4,1.2 .3-.2 .4-.1 .3,.9 .4,.2 .3,0 .4-.2 .3,.1 .4,.8 .3-.3 .4-.1 .3,.5 .4,.9 .3,.2 .4-.2 .3-.1 .4,.4 .3,.5 .4,.4 .3-.6 .4,.7 .3-.6 .4,1.4 .3-.1 .4,.3 .4-.8 .3,.4 .4,.9 .3,.7 .4-1.0 .3,.6 .4,.7 .3,.3 .4-.6 .3,.4 .4,.1 .3,.1 .4,.4 .3,.2 .4-.2 .3,.4 .4,.3 .3-.2 .4,1.1 .3-1.0 .4,.5 .3,.6 .4-.1 .3-.3 .4,.4 .3,1.0 .4-.2 .3-.2 .4-.4 .3,.5 .4,.5 .3-.2 .4,.4 .3,.2 .4,0 .3,1.0 .4-1.0 .3,.3 .4,.5 .4,.3 .3,.3 .4-.4 .3,.2 .4,.1 .3-.4 .4,1.5 .3-.4 .4,.2 .3-.5 .4,.6 .3,.3 .4-.2 .3,0 .4-.2 .3,.5 .4,.4 .3,.1 .4,.3 .3-.3 .4,0 .3,.5 .4,0 .3-.3 .4,.5 .3,0 .4,.6 .3,0 .4,.6 .3-.1 .4-.5 .3-.1 .4,.6 .3,.4 .4-.3 .3-.2 .4,.5 .3-.2 .4,.4 .3,.4 .4,0 .4,0 .3-.7 .4,.6 .3,.4 .4-.1 .3,.1 .4,.3 .3,0 .4,.2 .3-.2 .4-.1 .3,.1 .4,.6 .3-.2 .4,.5 .3,.2 .4-.2 .3-.1 .4,.3 .3-.2 .4,.1 .3,.2 .4,.3 .3,.4 .4-.8 .3,.8 .4-.3 .3,.2 .4,.3 .3-.5 .4,.4 .3,.3 .4,.2 .3,.2 .4,.2 .3-.4 .4,.3 .3,.1 .4-.2 .4,.3 .3-.1 .4,.4 .3,0 .4-.3 .3,.5 .4-.2 .3,.1 .4,.2 .3,.5 .4,0 .3,0 .4,.1 .3-.4 .4,.5 .3,.1 .4-.1 .3,0 .4,.5 .3-.5 .4,0 .3,.4 .4-.3 .3,.7 .4-.2 .3,0 .4,0 .3-.2 .4,.4 .3,.3 .4-.3 .3,.1 .4,0 .3,.3 .4-.1 .3,.3 .4-.2 .3,.3 .4,.1 .4-.4 .3,.5 .4-.1 .3,0 .4,.2 .3-.2 .4,.4 .3-.3 .4,.7 .3,0 .4-.3 .3-.2 .4,0 .3,.6 .4-.1 .3,.1 .4,.5 .3-.6 .4,.3 .3-.4 .4,.3 .3,.3 .4,.1 .3-.1 .4-.1 .3,.3 .4-.7 .3,.6 .4,.4 .3-.2 .4-.2 .3,.2 .4,.2 .3,.2 .4,0 .3,.2 .4-.1 .3-.1 .4,.2 .4-.4 .3,.3 .4,.2 .3,0 .4-.3 .3,.7 .4-.3 .3-.5 .4,.4 .3,.4 .4-.1 .3,.1 .4-.6 .3,.8 .4,0 .3,0 .4,.3 .3,.4 .4-.6 .3-.1 .4,.3 .3-.2 .4,0 .3,.1 .4,.5 .3-.6 .4,.2 .3,0 .4,.2 .3,.1 .4,.1 .3-.1 .4-.1 .3,.3 .4-.2 .3,.3 .4-.2 .3,.2 .4-.1 .3-.2 .4,.4 .4,.1 .3,.1 .4-.2 .3,.3 .4-.3 .3,.2 .4-.1 .3,.3 .4,.1 .3,0 .4-.1 .3,.2 .4-.2 .3,.5 .4-.2 .3-.1 .4,.4 .3-.2 .4,.2 .3-.2 .4,0 .3-.1 .4,.3 .3,.2 .4-.2 .3-.1 .4,.1 .3,0 .4-.2 .3,.4 .4,0 .3,.1 .4,0 .3-.3 .4,.2 .3,.5 .4-.6 .3,.6 .4-.3 .4-.2 .3,.2 .4,0 .3,0 .4,.1 .3,.3 .4-.3 .3,.2 .4,.4 .3-.4 .4-.1 .3,.1 .4,.1 .3-.3 .4,.3 .3-.1 .4,.1 .3-.2 .4,.4 .3-.2 .4-.1 .3,.4 .4-.2 .3,.4 .4-.2 .3-.1 .4,.3 .3,.2 .4-.3 .3,.1 .4-.1 .3,0 .4,0 .3-.1 .4,.2 .3,.3 .4-.3 .3,.1 .4,0 .4-.2 .3,.3 .4,.1 .3-.1 .4,.3 .3-.3 .4,.1 .3-.2 .4,.2 .3,0 .4,.1 .3,.2 .4-.1 .3-.1 .4,0 .3,.1 .4,0 .3,0 .4,.2 .3-.1 .4,.1 .3,.2 .4,0 .3-.3 .4-.1 .3,.1 .4,.3 .3-.3 .4,0 .3,.3 .4-.1 .3-.2 .4,.3 .3-.1 .4,.2 .3,0 .4-.1 .3,.1 .4,0 .4,0 .3,.2 .4-.3 .3,.2 .4,.1 .3,0 .4-.1 .3,.2 .4-.2 .3,.2 .4-.2 .3,.3 .4,0 .3,0 .4-.1 .3,.2 .4-.3 .3,.2 .4-.1 .3,.1 .4-.1 .3,.3 .4,0 .3-.2 .4,.2 .3-.2 .4,.2 .3-.1 .4,.2 .3,.1 .4-.4 .3,.2 .4-.1 .3,.1 .4,.3 .3-.3 .4-.1 .3,0 .4,0 .3,.2 .4,.1 .4-.1 .3,.2 .4-.2 .3,0 .4,.1 .3,.1 .4-.1 .3,.1 .4-.2 .3,.3 .4,0 .3,0 .4,.1 .3,0 .4-.1 .3,.3 .4-.5 .3,.2 .4,0 .3,.1 .4-.1 .3,.1 .4,0 .3,.2 .4-.2 .3,.2 .4-.1 .3,0 .4,0 .3,0 .4-.1 .3,0 .4,.1 .3,.1 .4-.2 .3,.3 .4-.1 .3,0 .4,.1 .4-.3 .3,.2 .4-.1 .3,.2 .4-.2 .3,.2 .4,0 .3-.1 .4,0 .3,0 .4,.1 .3,.2 .4-.1 .3,.2 .4-.2 .3,.1 .4-.2 .3,.4 .4-.5 .3,.3 .4,.1 .3-.2 .4,0 .3,0 .4-.2 .3,.4 .4-.1 .3,0 .4,.1 .3-.1 .4-.1 .3,.2 .4-.1 .3,0 .4,0 .3,.3 .4-.2 .3,0 .4-.1 .4,.1 .3-.2 .4,.4 .3-.2 .4,.2 .3-.3 .4,0 .3,.3 .4-.2 .3,.1 .4,.2 .3-.1 .4-.1 .3,0 .4,.1 .3-.1 .4,0 .3,.1 .4,.1 .3-.1 .4,0 .3,.2 .4-.3 .3,0 .4,.1 .3-.1 .4,.2 .3,.1 .4-.1 .3,.1 .4-.3 .3,.2 .4,0 .3,0 .4-.1 .3,.1 .4,.1 .3-.1 .4-.1 .4,.2 .3-.2 .4,.2 .3,0 .4,0 .3-.2 .4,.2 .3-.1 .4,.1 .3,0 .4,0 .3,0 .4,0 .3,0 .4,0 .3,.2 .4-.1 .3,.1 .4-.1 .3,0 .4,0 .3,0 .4,.1 .3,0 .4-.1 .3-.1 .4,.2 .3-.1 .4,0 .3,.2 .4-.1 .3,.1 .4-.1 .3,0 .4,.1 .3-.1 .4,0 .3,0 .4,0 .4,.1 .3,.1 .4-.1 .3,0 .4,0 .3,.1 .4,0 .3,0 .4,0 .3,0 .4,0 .3-.1 .4-.2 .3,.3 .4,.1 .3-.2 .4,.1 .3,0 .4,0 .3,0 .4,0 .3-.1 .4,.1 .3-.1 .4,0 .3,.1 .4,0 .3,.1 .4-.1 .3,0 .4-.1 .3,.2 .4-.2 .3,.2 .4,.1 .3-.1 .4-.1 .3,0 .4,.1 .3-.1 .4,.1 .4,0 .3,0 .4-.1 .3,.1 .4,0 .3,.1 .4-.1 .3,0 .4-.1 .3,.2 .4,0 .3,0 .4,0 .3-.1 .4,.1 .3-.2 .4,.1 .3,.1 .4,0 .3,.1 .4,0 .3-.2 .4,0 .3,.1 .4,0 .3-.1 .4,.1 .3,0 .4,0 .3,0 .4,0 .3,0 .4,0 .3,.1 .4-.1 .3,0 .4,.1 .3-.1 .4,.1 .4,.1 .3,0 .4-.2 .3,0 .4,.1 .3,.1 .4-.1 .3-.1 .4,.1 .3,.1 .4-.1 .3,0 .4,0 .3,0 .4,0 .3,0 .4,.1 .3-.1 .4,0 .3-.1 .4,.2 .3-.1 .4,.1 .3-.1 .4,.1 .3,.1 .4-.2 .3,.1 .4,0 .3,0 .4,0 .3,0 .4,0 .3,0 .4,0 .3-.1 .4,.1 .3-.1 .4,.1 .4,0 .3-.1 .4,.1 .3-.1 .4,0 .3,.1 .4-.1 .3,0 .4,.2 .3,0 .4,0 .3-.1 .4,0 .3,0 .4,0 .3,0 .4,0 .3,.1 .4-.1 .3,0 .4,.1 .3,0 .4,0 .3-.1 .4,0 .3,0 .4,.1 .3,0 .4-.1 .3,.1 .4-.1 .3,.1 .4,0 .3-.1 .4,0 .3,0 .4,.1 .3-.1 .4,.1 .4,0 .3,.1 .4-.1 .3-.1 .4,.2 .3-.1 .4,0 .3,.1 .4-.1 .3,0 .4,0 .3,.1 .4-.1 .3,0 .4,.1 .3-.1 .4,0 .3,.2 .4-.2 .3-.1 .4,.2 .3-.1 .4,.1 .3-.1 .4,.1 .3,0 .4,0 .3-.2 .4,.2 .3,0 .4-.1 .3,0 .4,.1 .3,.1 .4-.1 .3,0 .4,.1 .3-.1 .4-.1 .3,.1 .4,0 .4,0 .3-.1 .4,.1 .3-.1 .4,0 .3,.1 .4,.1 .3-.1 .4,0 .3-.1 .4,.1 .3-.1 .4,.1 .3,0 .4,0 .3,0 .4-.1 .3,.2 .4-.1 .3,0 .4,0 .3,.1 .4-.1 .3,.1 .4-.1 .3,0 .4,0 .3,.1 .4,0 .3,0 .4-.1 .3,.1 .4-.1 .3,.1 .4-.1 .3,.1 .4-.1 .3,0 .4,0 .4,.1 .3-.1 .4,0 .3,0 .4,0 .3,.2 .4-.2 .3,0 .4,0 .3,0 .4,0 .3-.1 .4,.2 .3,0 .4-.1 .3,.1 .4,.1 .3-.1 .4,0 .3,0 .4,0 .3,0 .4,.1 .3-.1 .4-.1 .3,0 .4,.1 .3,.1 .4-.1 .3,0 .4,.1 .3-.1 .4-.1 .3,.1 .4,0 .3,0 .4,0 .3,0 .4,0 .4,.1 .3,0 .4-.1 .3,.1 .4-.1 .3,0 .4,0 .3,0 .4,0 .3,0 .4,0 .3,0 .4,0 .3,.1 .4,0 .3-.1 .4,.1 .3,0 .4-.1 .3,.1 .4-.1 .3,0 .4,.1 .3,0 .4-.1 .3,.1 .4,0 .3-.1 .4,.1 .3-.1 .4,0 .3,.1 .4,0 .3,0 .4-.1 .3,.1 .4-.1 .3,0 .4,0 .4,0 .3,0 .4,0 .3,0 .4,0 .3,0 .4,.1 .3,0 .4,0 .3-.1 .4,.1 .3,0 .4,0 .3,0 .4-.1 .3,.1 .4,0 .3,0 .4-.1 .3,.1 .4-.1 .3,.1 .4-.1 .3,0 .4,.1 .3,0 .4,0 .3-.1 .4,.1 .3,0 .4-.1 .3,.1 .4,0 .3,0 .4-.1 .3,.2 .4-.1 .3,0 .4,0 .3-.1 .4,.1 .4,0 .3,0 .4,0 .3,0 .4,0 .3,0 .4,0 .3,0 .4,0 .3,0 .4,0 .3,0 .4,0 .3,0 .4,.1 .3-.1 .4,0 .3,0 .4,0 .3,0 .4,0 .3,.1 .4-.1 .3,0 .4,0 .3,.1 .4-.1 .3,0 .4,0 .3,0 .4,.1 .3-.1 .4,0 .3,.1 .4-.1 .3,0 .4,0 .3,.1 .4,0 .4-.1 .3,.1 .4-.1 .3,0 .4,0 .3,0 .4,0 .3,.1 .4-.1 .3,0 .4,.1 .3,0 .4,0 .3-.1 .4,0 .3-.1 .4,.2 .3-.1 .4,0 .3,0 .4,0 .3,.1 .4-.1 .3,.1 .4,0 .3-.1 .4,.1 .3,0 .4-.1 .3,0 .4,0 .3,0 .4,0 .3,0 .4,.1 .3-.1 .4,0 .3,.1 .4-.1 .4,0 .3,.1 .4-.1 .3,0 .4,.1 .3,0 .4-.1 .3,.1 .4,0 .3-.1 .4,0 .3,0 .4,.1 .3,0 .4-.1 .3,.1 .4,0 .3,0 .4-.1 .3,.1 .4-.1 .3,.1 .4-.1 .3,0 .4,.1 .3,0 .4,0 .3,0 .4,0 .3-.1 .4,0 .3,.1 .4-.1 .3,.1 .4-.1 .3,.1 .4-.1 .3,.1 .4-.1 .4,.1 .3-.1 .4,.1 .3-.1 .4,.1 .3,0 .4,0 .3,0 .4-.1 .3,.1 .4,0 .3-.1 .4,0 .3,.1 .4-.1 .3,0 .4,.1 .3,0 .4,0 .3,0 .4,0 .3,0 .4-.1 .3,0 .4,.1 .3,0 .4,0 .3,0 .4,0 .3,0 .4,0 .3,0 .4,0 .3,0 .4-.1 .3,.1 .4,0 .3,0 .4-.1 .3,.1 .4,0 .4,0 .3-.1 .4,0 .3,.1 .4,0 .3,0 .4,0 .3,0 .4,0 .3,0 .4,0 .3-.1 .4,.1 .3,0 .4,0 .3,0 .4,0 .3,0 .4,0 .3,0 .4,0 .3,0 .4,0 .3,0 .4,0 .3,0 .4,0 .3,0 .4,0 .3,0 .4,0 .3,0 .4,0 .3,0 .4,0 .3,0 .4,0 .3,0 .4,0 .4,0 .3,0 .4,0 .3,0 .4,0 .3,0 .4,0 .3,0 .4,0 .3,0 .4,0 .3,0 .4,0 .3,0 .4,0 .3,0 .4,0 .3,0 .4,0 .3,0 .4,0 .3,0 .4,0 .3,0 .4,0 .3,0 .4,0 .3,0 .4,0 .3-.1 .4,.1 .3,0 .4,0 .3,0 .4,0 .3,0 .4,0 .3,0 .4,0" stroke="#ff0000"/></g>
<g clip-path="url(#cb)" fill="none" stroke-width="2.2" stroke-linejoin="miter" stroke-miterlimit="10"><path d="M708.8,381.5l.3-55.5 .3-62.8 .4-49.1 .3-36.0 .4-41.2 .3-30.6 .4-20.7 .3-16.8 .4-16.5 .3-12.4 .4-8.9 .3-4.9 .4-2.5 .3-2.0 .4-1.5 .3-.8 .4-1.7 .3-.6 .4-.7 .3-.4 .4-.8 .3-.7 .4-.6 .3,0 .4-1.0 .3-.8M717.9,12.0l.3,.7 .3-.7M719.1,12.0l.2,0 0,0M719.8,12.0l.2,.3 .3,0 .4,0 .3,.6 .4,.4 .3,.1 .4,.4 .3-.1 .4,.8 .3-.1 .4,.8 .3-.1 .4,.4 .3,.8 .4-.2 .3,.5 .4,.2 .3-.2 .4,.9 .3,.3 .4-.3 .3,.6 .4,0 .3,.5 .4,.6 .3,.1 .4,0 .3,.3 .4,.5 .4,.3 .3,.3 .4,.4 .3-.3 .4,.8 .3,.5 .4,.1 .3,0 .4,.3 .3,.4 .4,.4 .3,.1 .4,.6 .3,.1 .4-.2 .3,.4 .4,0 .3,0 .4,.3 .3,.2 .4-.3 .3,.4 .4,.4 .3-.2 .4,.2 .3,.4 .4-.1 .3,.2 .4,.5 .3-.3 .4,.2 .4,.2 .3,.4 .4-.1 .3,.2 .4,.2 .3,.5 .4-.2 .3,.7 .4,0 .3-.1 .4,.8 .3,.2 .4-.1 .3,.6 .4,.3 .3,.2 .4,0 .3,1.1 .4,0 .3,.3 .4,.3 .3,.2 .4,.3 .3,0 .4,.6 .3,0 .4,.2 .3,.6 .4,.1 .3-.1 .4,.6 .3,.5 .4,.2 .4,.5 .3-.1 .4,.2 .3,.7 .4,.1 .3-.1 .4,.7 .3,.2 .4,.6 .3,.2 .4,.2 .3-.4 .4,.9 .3,.3 .4,.3 .3,.2 .4,.1 .3,.4 .4-.2 .3,.7 .4,0 .3,.6 .4,.2 .3,.8 .4-.1 .3,.3 .4,.3 .3,.8 .4-.5 .3,.6 .4,.3 .3,.2 .4,.3 .4,.1 .3,.8 .4,.2 .3-.1 .4,.3 .3,.4 .4,.4 .3,.3 .4,.1 .3-.1 .4,.9 .3-.4 .4,.5 .3,.6 .4-.1 .3,1.0 .4,.3 .3,.2 .4,0 .3,.3 .4,.3 .3,.1 .4,.9 .3-.5 .4,.9 .3,0 .4,.2 .3,.5 .4,.4 .3,.2 .4-.1 .3,.1 .4,.3 .4,.8 .3,.2 .4,.3 .3-.1 .4,1.0 .3-.7 .4,.8 .3,.4 .4-.1 .3,.1 .4,.5 .3,0 .4,.6 .3-.1 .4,.3 .3,.7 .4-.2 .3,.7 .4,.3 .3,.6 .4,0 .3,0 .4,.9 .3-.3 .4,.3 .3,.3 .4,1.1 .3-.4 .4,.1 .3,.7 .4,0 .3,1.1 .4-.7 .4,.7 .3-.3 .4,1.2 .3-.5 .4,.5 .3,0 .4,.8 .3,.2 .4-.7 .3,1.3 .4,.3 .3,.1 .4,.5 .3-.5 .4,.1 .3,1.1 .4,.7 .3-.7 .4,.3 .3,.3 .4,.2 .3,1.0 .4,0 .3,.7 .4,.3 .3-.6 .4,.9 .3-.8 .4,1.1 .3,.5 .4-.2 .4-.1 .3,.7 .4,.9 .3-.3 .4-.1 .3,1.0 .4,.3 .3-.3 .4,.6 .3,.7 .4,0 .3,.4 .4-.1 .3,.4 .4-.1 .3,.4 .4,1.1 .3-.5 .4,.1 .3,.5 .4,0 .3,.9 .4,.4 .3-.4 .4,1.0 .3,.7 .4-.9 .3,.9 .4,.1 .3,.7 .4,.3 .3,.2 .4,0 .4-.1 .3,1.4 .4-.9 .3,1.0 .4,.2 .3-.4 .4,.6 .3,.8 .4-1.0 .3,1.3 .4-.2 .3,.3 .4-.2 .3,1.0 .4-.3 .3,1.0 .4-.5 .3,1.1 .4,.1 .3-.7 .4,.9 .3,.4 .4-.6 .3,1.0 .4,.8 .3-.4 .4,1.1 .3-.7 .4,.3 .3,1.0 .4,.3 .3-.1 .4,.3 .4,.7 .3-.3 .4,1.3 .3-.4 .4,.3 .3,.2 .4,0 .3,1.0 .4-.5 .3,.6 .4,.4 .3,.6 .4,.2 .3-.4 .4,.9 .3-.2 .4-.2 .3,.3 .4,.1 .3,1.0 .4,.7 .3-.7 .4,.6 .3-.1 .4,.8 .3-.3 .4,.4 .3,.4 .4,.3 .3,.4 .4,.3 .3,.3 .4-.1 .4,1.0 .3-.8 .4,1.1 .3-.2 .4,.7 .3,.4 .4-.8 .3,1.4 .4,.7 .3,0 .4,.1 .3-.9 .4,1.2 .3-.1 .4,1.2 .3-.4 .4,.1 .3-.2 .4,1.4 .3-.3 .4,.4 .3,.9 .4-.2 .3,.4 .4,1.3 .3-1.2 .4,.3 .3,.8 .4,.7 .3-1.1 .4,.8 .3-.1 .4,.1 .4,1.2 .3-.3 .4,.7 .3,.2 .4,.3 .3,.2 .4-.2 .3,.7 .4,.4 .3,.4 .4-.1 .3,.9 .4,.1 .3,0 .4,.6 .3,0 .4,.5 .3-1.0 .4,.6 .3,.7 .4,.5 .3-.9 .4,1.3 .3,.5 .4,0 .3,.3 .4-.3 .3,1.0 .4-.8 .3,1.8 .4-.6 .4,1.2 .3-1.2 .4,1.4 .3,.1 .4-.2 .3,.1 .4,1.5 .3-.1 .4,.8 .3-.6 .4,.4 .3,.4 .4,.5 .3,.1 .4,.5 .3-.5 .4-.2 .3,2.2 .4-.8 .3,.4 .4-.2 .3,1.1 .4-.2 .3,.8 .4-.7 .3,.6 .4,.4 .3,0 .4,.6 .3,1.0 .4-1.0 .3,.5 .4,.5 .4-.4 .3,.2 .4,1.6 .3,.1 .4-1.1 .3,.3 .4,1.5 .3,.6 .4-.1 .3,.2 .4,.9 .3-.7 .4,1.1 .3,.2 .4-1.0 .3,1.2 .4-.1 .3-.1 .4,.2 .3,.9 .4,.1 .3,.8 .4-1.3 .3,.9 .4,1.3 .3-.4 .4-.1 .3,.4 .4-.6 .3,.6 .4,1.4 .3,0 .4,1.0 .4-.7 .3,.4 .4-1.4 .3,1.9 .4,1.7 .3-.6 .4-.3 .3,1.2 .4,0 .3-.1 .4-.1 .3,.6 .4,.7 .3-.8 .4,1.1 .3,.3 .4,.8 .3-.1 .4-.7 .3,1.8 .4-.8 .3-.2 .4,1.0 .3-.2 .4,1.2 .3-1.4 .4,.4 .3,.9 .4,1.6 .3-.2 .4-1.1 .3-.2 .4,1.2 .4-.4 .3,1.6 .4-.1 .3,.2 .4-.1 .3,1.7 .4-1.5 .3,0 .4,2.0 .3,.4 .4-.9 .3,1.0 .4,1.5 .3-2.0 .4,.7 .3,.7 .4-1.5 .3,1.6 .4,.9 .3-.3 .4,1.1 .3,.1 .4-.6 .3,.9 .4,.2 .3-1.2 .4,.8 .3,.3 .4,.5 .3,.3 .4-.4 .3,1.3 .4-1.1 .4,2.3 .3-.2 .4,1.1 .3-.5 .4-.4 .3-.4 .4,1.8 .3-.2 .4,.5 .3,.6 .4,.6 .3-.7 .4,1.7 .3-1.2 .4,.4 .3,.8 .4,.5 .3,.6 .4-2.3 .3,2.8 .4-2.0 .3,1.0 .4,1.0 .3,.9 .4-1.5 .3-.2 .4,2.4 .3-.3 .4-.8 .3,.8 .4-1.0 .4,2.3 .3-.6 .4,1.7 .3-2.4 .4,2.5 .3,1.5 .4-1.4 .3,.2 .4-1.4 .3,2.1 .4,0 .3-.2 .4-.5 .3,1.6 .4-.7 .3,.7 .4,1.0 .3-.1 .4,.3 .3,1.1 .4-1.5 .3,2.5 .4-1.9 .3,.4 .4,1.2 .3,.8 .4-.2 .3-.3 .4,0 .3,.7 .4-.4 .3,1.6 .4-.4 .4,1.9 .3-1.8 .4,.8 .3,.8 .4-1.2 .3,.7 .4,3.5 .3-2.4 .4,1.7 .3-2.0 .4-1.0 .3,2.9 .4-.3 .3,.6 .4-.3 .3,0 .4-.3 .3,2.4 .4-2.1 .3,2.5 .4-.8 .3-.5 .4,.6 .3,1.8 .4,.1 .3,0 .4-.1 .3-.8 .4,2.5 .3-1.4 .4,.2 .3,.3 .4,.3 .4-.7 .3,1.2 .4,0 .3,.5 .4-.9 .3,3.8 .4-2.8 .3,1.8 .4,.2 .3,1.0 .4,1.2 .3-1.2 .4,.5 .3-.9 .4,2.3 .3-2.6 .4,1.3 .3,.8 .4,.8 .3,.3 .4,.6 .3-.3 .4-.3 .3,.5 .4,1.5 .3-.9 .4,.9 .3-.8 .4-1.4 .3,1.5 .4,1.2 .3,1.6 .4,.1 .4,.5 .3-2.2 .4,1.8 .3-.6 .4,1.0 .3-.5 .4-1.1 .3,2.5 .4-.1 .3,.7 .4-1.5 .3,2.3 .4,.4 .3,.6 .4,.2 .3-1.7 .4-1.9 .3,4.0 .4-1.8 .3,1.0 .4,1.7 .3-.6 .4,.2 .3,.8 .4-2.6 .3,4.5 .4-2.3 .3,.3 .4,1.3 .3-.5 .4-.6 .3,1.1 .4,0 .4-.1 .3,3.4 .4-3.7 .3-.6 .4,1.7 .3,.2 .4,3.0 .3-1.2 .4,1.1 .3,0 .4-1.5 .3,2.3 .4-.5 .3,2.3 .4-1.8 .3,0 .4,1.2 .3,.3 .4-2.8 .3,3.9 .4,.1 .3,0 .4-2.1 .3-.8 .4,2.3 .3,1.6 .4-.1 .3-1.5 .4,2.6 .3-2.6 .4,.3 .4,1.9 .3-.4 .4,.1 .3-.7 .4,3.5 .3-2.5 .4,2.2 .3,.7 .4-.8 .3,.7 .4,1.2 .3,1.1 .4-.6 .3-2.7 .4-.4 .3,1.9 .4-.4 .3,2.4 .4-.3 .3-.2 .4,2.1 .3,.1 .4-1.1 .3,.8 .4,1.2 .3-1.6 .4,1.1 .3-1.4 .4,1.6 .3,.7 .4-.3 .3,.6 .4,1.0 .4-.1 .3-1.3 .4,.4 .3-.5 .4,4.2 .3-1.5 .4,.3 .3-.5 .4,1.1 .3,.3 .4-1.4 .3,1.0 .4,2.2 .3-3.2 .4,.7 .3,2.4 .4-1.6 .3,2.4 .4-2.3 .3,2.1 .4,1.1 .3-.3 .4,.8 .3-1.1 .4,.3 .3,.5 .4,1.1 .3,4.9 .4-5.3 .3,3.2 .4-2.9 .3-1.0 .4,1.5 .4,1.2 .3,0 .4,.2 .3,.9 .4,.3 .3,.8 .4-2.8 .3,2.0 .4-1.2 .3,2.1 .4-.3 .3,.7 .4-.7 .3-.3 .4,1.2 .3,1.6 .4,.4 .3-3.3 .4,3.1 .3,.3 .4-2.3 .3,.8 .4,1.1 .3,1.7 .4-3.9 .3,3.2 .4,0 .3,1.4 .4,2.2 .3,.2 .4-2.5 .3,.3 .4,1.2 .4,1.8 .3,.7 .4-1.5 .3,2.1 .4-3.5 .3-.1 .4-2.3 .3,3.2 .4,2.6 .3,.8 .4,4.7 .3-4.7 .4-.4 .3-1.5 .4,.8 .3,.3 .4,.9 .3-.5 .4-1.0 .3,4.4 .4-.7 .3,1.8 .4-4.7 .3,.8 .4,1.1 .3,3.6 .4-2.1 .3,1.0 .4-.3 .3,.7 .4-.9 .3,1.8 .4-1.8 .4,1.3 .3,1.2 .4-.1 .3,.9 .4-2.0 .3,2.2 .4-.7 .3,1.5 .4,2.2 .3-4.0 .4,3.8 .3-2.9 .4,.8 .3,4.0 .4-1.0 .3-.6 .4,.9 .3,.9 .4-3.2 .3,2.0 .4-.8 .3,1.7 .4-1.1 .3,2.3 .4-1.1 .3-.9 .4,1.3 .3,1.2 .4,1.5 .3-2.1 .4-.1 .3,1.4 .4,1.3 .4-2.3 .3-3.2 .4,5.4 .3-1.0 .4,.2 .3,6.2 .4-5.2 .3,1.9 .4-3.7 .3,3.4 .4,1.3 .3-.9 .4-.5 .3,1.8 .4-.8 .3,2.9 .4-2.0 .3-1.7 .4-2.0 .3,2.7 .4,1.1 .3-1.5 .4,.5 .3-.9 .4,1.4 .3,2.6 .4-.5 .3,.4 .4,.1 .3,.4 .4,2.4 .4,3.1 .3-2.8 .4,3.2 .3-4.2 .4,.4 .3,3.9 .4-4.8 .3-.1 .4,1.8 .3-2.9 .4-.2 .3,6.8 .4-4.6 .3,1.6 .4,.3 .3-.8 .4,3.8 .3,0 .4,.8 .3,.1 .4-1.2 .3,3.3 .4-.6 .3-3.4 .4,1.7 .3-.7 .4,5.5 .3-2.3 .4-.3 .3-1.1 .4,1.7 .3-3.1 .4,2.5 .4,.1 .3,.2 .4-1.3 .3,3.0 .4-3.4 .3,1.8 .4,1.0 .3,.5 .4-.8 .3-.9 .4,.4 .3,1.6 .4-.9 .3,2.0 .4-2.3 .3,3.2 .4,5.4 .3-8.0 .4,3.1 .3,3.4 .4-2.1 .3,1.9 .4-6.7 .3,3.9 .4,5.4 .3-5.0 .4,2.6 .3-5.2 .4,7.4 .3,3.5 .4-5.8 .3,1.3 .4,.5 .4,4.9 .3-6.5 .4-2.7 .3,9.4 .4-7.7 .3,4.6 .4-6.8 .3,4.8 .4,1.9 .3-3.0 .4,1.7 .3,3.1 .4-3.0 .3,3.4 .4,3.8 .3-9.7 .4,6.3 .3,.9 .4-2.2 .3,5.5 .4-.4 .3-2.0 .4,.3 .3-1.3 .4-2.5 .3,4.5 .4-2.3 .3-.1 .4,4.9 .3-3.3 .4,3.5 .3-5.2 .4,1.9 .4,1.4 .3,4.2 .4-3.9 .3,2.8 .4-3.9 .3,2.6 .4,2.2 .3-4.6 .4,.8 .3,4.0 .4-4.6 .3,4.3 .4,.3 .3-1.0 .4,2.9 .3-.7 .4-.5 .3-4.5 .4,.4 .3,5.2 .4-5.0 .3,4.9 .4-1.0 .3-1.1 .4,1.9 .3-5.5 .4,6.2 .3,4.7 .4-7.2 .3,5.3 .4,0 .3,9.2 .4-12.6 .4,.8 .3,.3 .4-.2 .3-1.8 .4,5.4 .3-2.7 .4,5.4 .3-.9 .4-4.0 .3,2.2 .4,5.8 .3-5.2 .4,2.0 .3,2.3 .4-3.7 .3,2.9 .4,4.3 .3-1.3 .4-8.8 .3,10.7 .4-5.5 .3-.9 .4,.1 .3,6.5 .4-2.8 .3-1.3 .4-1.8 .3,5.0 .4,2.1 .3-6.9 .4-.1 .4,2.6 .3,3.6 .4-3.2 .3,1.3 .4-2.1 .3,7.4 .4-4.5 .3,1.2 .4,3.6 .3-4.3 .4,.9 .3,1.8 .4-2.5 .3,6.7 .4-4.6 .3-1.4 .4,.7 .3-2.3 .4,8.2 .3,1.5 .4-6.1 .3-.5 .4-5.2 .3,5.2 .4,5.6 .3-5.7 .4,6.2 .3,2.8 .4-14.0 .3,7.7 .4-1.1 .3,.8 .4-3.9 .4,5.5 .3-3.0 .4,8.5 .3,1.7 .4-10.1 .3,.1 .4,3.6 .3,1.3 .4,.5 .3,3.5 .4-7.9 .3,3.4 .4,.8 .3,.8 .4-2.2 .3,2.2 .4-.6 .3,7.8 .4-6.4 .3-5.6 .4,10.2 .3-1.3 .4-3.6 .3,0 .4,1.5 .3,9.5 .4-8.5 .3,7.2 .4-1.3 .3-5.2 .4,3.6 .3-4.1 .4-7.9 .4,8.6 .3,.4 .4,7.0 .3-.9 .4,2.2 .3-2.1 .4,2.8 .3-1.6 .4-1.7 .3,3.8 .4,2.2 .3,0 .4-7.6 .3,1.9 .4-3.6 .3,.1 .4,6.0 .3-3.9 .4,9.6 .3-15.3 .4,4.4 .3,6.1 .4,4.6 .3-6.6 .4,10.7 .3-5.0 .4-6.4 .3,3.1 .4,2.8 .3-5.9 .4,9.1 .3-5.8 .4,3.8 .4,2.0 .3-5.7 .4,6.9 .3-12.3 .4,11.0 .3-10.8 .4,13.8 .3-7.6 .4,8.8 .3,1.0 .4-7.0 .3-2.0 .4,9.6 .3-11.3 .4,9.4 .3-4.2 .4-.9 .3-.6 .4,12.2 .3-16.1 .4,4.8 .3,5.0 .4,3.3 .3,4.0 .4-1.5 .3-9.3 .4,4.5 .3,4.4 .4-2.9 .3-9.5 .4,9.1 .3,1.6 .4-9.0 .4,4.4 .3,2.3 .4,3.6 .3,5.5 .4-1.8 .3-3.5 .4-1.1 .3-2.6 .4-.7 .3,1.9 .4,.3 .3,6.9 .4,7.2 .3-9.4 .4,2.8 .3-1.4 .4-1.8 .3,5.8 .4-.5 .3-5.4 .4-.8 .3,4.4 .4-5.9 .3,4.1 .4,4.9 .3-5.7 .4-8.8 .3,13.3 .4-9.4 .3-.8 .4-.3 .4,12.6 .3-14.5 .4,9.7 .3,2.4 .4,.1 .3-4.2 .4,3.2 .3,1.6 .4-7.5 .3,11.3 .4,2.3 .3-10.3 .4,.8 .3-1.8 .4,12.7 .3-12.1 .4,3.5 .3-6.4 .4,17.4 .3-8.7 .4,3.2 .3,8.9 .4-5.6 .3-10.4 .4,9.4 .3,1.9 .4-9.1 .3-.3 .4,.2 .3,10.9 .4-4.3 .3-6.0 .4,10.3 .4,.9 .3-9.2 .4-3.7 .3,16.6 .4,11.7 .3-8.9 .4-2.8 .3-5.5 .4-4.3 .3,4.9 .4,4.0 .3-5.3 .4,7.7 .3-5.8 .4,4.2 .3-18.8 .4,10.2 .3,10.9 .4,1.5 .3-3.7 .4,9.3 .3-6.6 .4,.3 .3-10.2 .4,8.7 .3,2.8 .4,4.5 .3-.9 .4-7.7 .3,1.3 .4-8.3 .3,11.8 .4-10.8 .4,5.3 .3,2.0 .4,16.1 .3-5.9 .4-14.1 .3-3.7 .4,7.7 .3-3.3 .4,8.2 .3,0 .4,2.5 .3-11.0 .4,4.4 .3,4.3 .4,1.0 .3-5.9 .4,1.9 .3,8.8 .4-17.0 .3,9.5 .4,2.1 .3-9.4 .4,3.1 .3,7.9 .4-4.1 .3,12.5 .4-3.2 .1,4.0M1186.6,381.5l.2-16.7 .2,16.7M1187.3,381.5l.2-12.6 .3,11.7 .2,.9M1188.2,381.5l.4-5.4 .3-3.2 .4-2.1 .3-7.3 .4,9.7 .3-3.4 .4,11.4 .3-9.7 .4,4.4 .3,5.2 .4-2.7 .3,0 .4-1.6 .3-1.3 .3,6.0M1193.9,381.5l.3-7.7 .1,7.7M1195.0,381.5l.2-12.3 .1,12.3M1196.1,381.5l.2-5.5 .1,5.5M1196.8,381.5l.2-17.5 .1,17.5M1197.6,381.5l.1-9.7 .3-.5 .4,4.7 .2,5.5M1199.0,381.5l.1-.7 0,.7M1199.7,381.5l.1-3.6 .1,3.6M1200.7,381.5l.2-4.1 0,4.1M1202.6,381.5l0-3.9 .2,3.9M1205.4,381.5l0-.2 0,.2M1208.7,381.5l.2-5.8 .4,5.8" stroke="#000000"/>
<path d="M708.9,381.5l.2-39.1 .3-78.4 .4-42.4 .3-36.2 .4-41.0 .3-32.4 .4-21.5 .3-18.8 .4-16.3 .3-14.2 .4-9.1 .3-5.6 .4-2.1 .3-2.7 .4-1.2 .3-1.2 .4-.6 .3-1.5 .4-.8 .3-.4 .4-.8 .3-.7 .4-.7 .3-.4 .4-.7 .3,0 .4-.2 .4-.3 .3,.3 .4-.3 .1-.2M720.0,12.0l.3,.5 .4,0 .3,.8 .4-.1 .3,.2 .4,.2 .3,.6 .4,0 .3,.1 .4,.7 .3,.1 .4,.7 .3,.4 .4-.2 .3,.4 .4,.2 .3,.5 .4,.2 .3,.1 .4,.1 .3,.7 .4,.6 .3-.4 .4,.5 .3,.2 .4,.4 .3-.1 .4,.7 .4,.2 .3,.8 .4,0 .3,.3 .4,.2 .3,.2 .4,.5 .3-.3 .4,.9 .3,.1 .4,.1 .3,.6 .4-.2 .3,.2 .4,.4 .3-.3 .4,.6 .3,.1 .4,.5 .3,.3 .4-.2 .3,.1 .4,.1 .3-.1 .4,.8 .3-.2 .4,.3 .3-.7 .4,.6 .3,.1 .4,.3 .4-.3 .3,.5 .4,0 .3,.8 .4-.6 .3,.5 .4,.2 .3,.1 .4,.6 .3,.2 .4,.1 .3,.3 .4,.5 .3,.2 .4,.4 .3,0 .4,.2 .3,.5 .4-.2 .3,1.2 .4-.1 .3-.2 .4,.8 .3,.6 .4-.4 .3,.5 .4,.7 .3-.2 .4,.7 .3,.4 .4,0 .3,.3 .4,.5 .4,.1 .3,.4 .4,0 .3,.3 .4,.1 .3,.6 .4,.5 .3,.3 .4,0 .3-.2 .4,.5 .3,.7 .4-.2 .3,.9 .4-.3 .3,.6 .4,0 .3,.3 .4,.5 .3,.2 .4,.6 .3,0 .4,0 .3-.5 .4,1.2 .3,.4 .4,.6 .3-.3 .4,1.0 .3,.1 .4,0 .3,.7 .4-.5 .4,.4 .3,.7 .4,.3 .3,.5 .4,.3 .3-.2 .4,.2 .3,.4 .4,.3 .3,.5 .4,0 .3,.8 .4-.1 .3-.2 .4,.4 .3,.7 .4,.3 .3-.2 .4,.1 .3,1.3 .4-.1 .3,.1 .4,0 .3,.9 .4-.2 .3,.6 .4-.5 .3,.8 .4,.5 .3,.3 .4-.1 .3,.4 .4,.8 .4-.1 .3,.7 .4,.1 .3,.5 .4,.3 .3,.1 .4,.3 .3-.2 .4,.2 .3,.6 .4,.6 .3-.3 .4,1.1 .3,.3 .4-.6 .3,.3 .4,.2 .3,.7 .4,.6 .3,0 .4,0 .3,.7 .4,.2 .3,.5 .4,.2 .3-.3 .4,.4 .3,.8 .4,.2 .3,.1 .4-.1 .3,.9 .4-.1 .4,1.0 .3-.1 .4-.2 .3,.1 .4,.9 .3,.2 .4-.3 .3,.7 .4,.3 .3,0 .4,.4 .3-.1 .4,.4 .3,.7 .4,.2 .3,.2 .4,.7 .3,.2 .4-.4 .3,1.2 .4-.7 .3,.6 .4,.4 .3,0 .4,.3 .3,.1 .4,.8 .3,.2 .4,.3 .3-.5 .4,.6 .4,1.0 .3,0 .4,.4 .3,.1 .4,.2 .3-.5 .4,1.7 .3-.7 .4,.5 .3,.7 .4,0 .3,.4 .4,.1 .3-.1 .4,1.3 .3-.8 .4,.9 .3-.4 .4,.6 .3,0 .4,.5 .3,.1 .4,.7 .3,.6 .4-.3 .3,.2 .4-.2 .3,1.8 .4-.4 .3-.2 .4,1.2 .3-.1 .4-.7 .4,.6 .3,1.1 .4-.6 .3,.4 .4,.4 .3,.4 .4,.4 .3,.7 .4,.1 .3-.2 .4,.5 .3-.4 .4,1.1 .3,1.1 .4-.5 .3,0 .4,.3 .3,.4 .4,.6 .3-.7 .4,1.2 .3-.3 .4,.7 .3,.6 .4-.8 .3,1.9 .4-.4 .3-.3 .4,.6 .3-.1 .4,.6 .3,.4 .4-.8 .4,1.3 .3,.2 .4,.7 .3,.1 .4-.3 .3,.3 .4,.5 .3,.6 .4-.3 .3,1.3 .4-.4 .3,.3 .4,.5 .3-.2 .4,.7 .3,.3 .4-.8 .3,.7 .4,.1 .3,.7 .4-.1 .3,.4 .4,0 .3-.2 .4,1.4 .3,.1 .4,.4 .3,1.8 .4-.7 .3-.3 .4,0 .3,.8 .4-.5 .4,.2 .3,1.0 .4-.5 .3,.1 .4,.8 .3,1.0 .4-.9 .3,1.0 .4,.4 .3,.1 .4,.5 .3-.4 .4,.4 .3,0 .4,.6 .3,.9 .4,0 .3-.2 .4,.9 .3-1.3 .4,1.7 .3,.5 .4-.6 .3,.5 .4,.6 .3,.4 .4-.1 .3,.1 .4,.3 .3,.8 .4-.1 .3,.1 .4,.3 .4,2.2 .3-.8 .4,.2 .3,0 .4,0 .3-.1 .4,.5 .3,.6 .4,.2 .3-.6 .4,1.5 .3-.2 .4-.4 .3,.9 .4,1.5 .3-1.0 .4,.7 .3,.1 .4-.3 .3,.6 .4,.6 .3-.3 .4,.5 .3,.4 .4,.2 .3,.3 .4,.6 .3,.3 .4,0 .3,.8 .4,.5 .4-1.1 .3,1.0 .4,.2 .3,.3 .4,.2 .3,.3 .4,.2 .3,.8 .4-.7 .3,1.2 .4-.7 .3,1.9 .4-.2 .3-.9 .4,.9 .3,.6 .4-.3 .3,1.0 .4-.3 .3,1.6 .4-.8 .3,.4 .4-.4 .3,.1 .4,1.2 .3-1.1 .4,1.5 .3,1.1 .4,.5 .3-2.0 .4,1.2 .3,.6 .4,.3 .4,.5 .3-1.1 .4,1.1 .3-.9 .4,1.5 .3,1.5 .4-1.6 .3,1.0 .4,.2 .3-.8 .4,1.3 .3-.5 .4,.9 .3,.7 .4-.4 .3,.9 .4-.8 .3,.4 .4,.8 .3-.1 .4,.3 .3,.8 .4-.4 .3,.9 .4-.2 .3,1.2 .4-.4 .3,.1 .4,1.0 .3,.1 .4,.3 .3-.5 .4,1.2 .4-.5 .3-.4 .4,1.0 .3,1.5 .4-.8 .3-.3 .4,1.1 .3-.6 .4,.5 .3,.4 .4,.7 .3,.5 .4,.1 .3,0 .4,0 .3,.4 .4,.7 .3,0 .4,.1 .3,1.6 .4-.3 .3,.3 .4-.2 .3,.4 .4,.2 .3,.7 .4-.8 .3,.6 .4,1.6 .3-.9 .4,1.0 .3-1.6 .4,1.7 .4,.2 .3,0 .4,.4 .3,.2 .4-.8 .3,1.2 .4-.2 .3,.1 .4,1.7 .3-1.6 .4,1.0 .3,.1 .4,1.5 .3-.9 .4,.5 .3,1.0 .4-1.7 .3,1.4 .4,.9 .3-.1 .4-.2 .3,.1 .4,.7 .3-.2 .4,.1 .3,2.2 .4-.3 .3,.6 .4-.5 .3-.7 .4,.9 .3,1.5 .4-.3 .4-.7 .3,1.4 .4,0 .3-.1 .4,1.9 .3-1.7 .4,.6 .3,.1 .4,1.4 .3,.2 .4,.1 .3-.4 .4,.4 .3,.2 .4-1.0 .3,.7 .4,1.8 .3,.2 .4-1.5 .3,1.8 .4-1.0 .3,0 .4,2.0 .3,0 .4,0 .3,1.1 .4,.3 .3-.2 .4-.7 .3,1.3 .4,.1 .4,.5 .3,1.0 .4-2.1 .3,3.4 .4-1.1 .3-.7 .4,1.8 .3-1.3 .4-.3 .3,2.0 .4-.6 .3,1.4 .4-1.1 .3,.6 .4,.2 .3-.7 .4,1.0 .3-.5 .4,.9 .3,1.8 .4-1.0 .3,.1 .4,1.9 .3-2.1 .4,1.4 .3,0 .4,1.3 .3-.5 .4,0 .3,.9 .4-.1 .3,2.2 .4-2.8 .4,2.4 .3,1.3 .4-.9 .3,.2 .4-1.0 .3,1.6 .4-.8 .3,1.4 .4-2.6 .3,1.8 .4-1.0 .3,2.9 .4-1.2 .3,1.7 .4-1.1 .3,.2 .4,2.3 .3-.1 .4,.3 .3,.5 .4-.4 .3,.5 .4,.7 .3-1.2 .4-.1 .3,2.0 .4-.5 .3-.2 .4,.5 .3,.7 .4-1.2 .3,.3 .4,.4 .4,1.1 .3-1.8 .4,.5 .3,2.3 .4,0 .3-1.0 .4,2.2 .3-.9 .4,.6 .3,1.0 .4-.2 .3,1.6 .4-.7 .3,1.7 .4-4.0 .3,1.1 .4,.5 .3,1.2 .4-.5 .3,0 .4,.6 .3,.3 .4,2.1 .3-1.1 .4,1.3 .3,.9 .4,.3 .3-1.4 .4-.4 .3,2.8 .4-2.9 .3,.5 .4,2.2 .4,.3 .3-.1 .4-.8 .3,1.7 .4,1.0 .3-1.3 .4,2.9 .3-2.1 .4-.8 .3,1.2 .4-.3 .3,.6 .4,0 .3,.9 .4,1.3 .3-.4 .4,.1 .3-1.1 .4-.1 .3,1.5 .4,1.6 .3,.2 .4-.3 .3-1.5 .4,1.4 .3,.7 .4,1.1 .3-1.6 .4,1.0 .3,.6 .4,.1 .3-1.5 .4,2.3 .4-1.8 .3,.8 .4,1.6 .3-.7 .4,1.4 .3,1.1 .4-.4 .3,1.0 .4-1.3 .3,.8 .4-.4 .3,0 .4,5.0 .3-3.9 .4,2.8 .3-2.1 .4,1.5 .3-.9 .4-1.1 .3,3.9 .4-2.0 .3,.5 .4,2.5 .3-2.8 .4,1.0 .3,.9 .4,.6 .3-4.4 .4,4.5 .3,2.0 .4-.8 .4-.4 .3,.3 .4-.1 .3,1.4 .4-1.7 .3,1.6 .4,1.3 .3-.4 .4-.2 .3-1.3 .4,.7 .3,1.3 .4-.2 .3,0 .4-1.9 .3,3.5 .4-1.1 .3,0 .4,2.4 .3-1.2 .4,.3 .3,1.1 .4-1.1 .3-.3 .4,.1 .3,2.0 .4-.2 .3-2.5 .4,4.7 .3-1.5 .4-.6 .3,1.2 .4-.4 .4,.9 .3-.4 .4-.5 .3,2.3 .4-.3 .3,.6 .4,.7 .3-.2 .4,1.8 .3-2.3 .4-1.0 .3,.3 .4,.8 .3,3.3 .4-3.1 .3,3.3 .4-.7 .3-2.3 .4,4.3 .3-2.4 .4,1.1 .3,.8 .4,1.3 .3-1.5 .4,1.5 .3-1.9 .4,0 .3,4.0 .4-1.0 .3,0 .4,1.5 .3,.2 .4-1.5 .4,.7 .3,2.4 .4-1.3 .3-1.3 .4,2.8 .3-.2 .4-3.3 .3,.6 .4,4.6 .3-.1 .4-2.3 .3,2.6 .4-1.2 .3,.6 .4-1.2 .3,5.0 .4-.2 .3-1.3 .4-3.1 .3,2.0 .4,2.7 .3-3.2 .4,0 .3,1.7 .4,.4 .3-.9 .4-.9 .3,1.8 .4-.3 .3,1.2 .4,.8 .3,1.1 .4-1.6 .4,1.2 .3,.2 .4-1.6 .3,.9 .4-.3 .3,4.2 .4-3.2 .3,2.1 .4,.7 .3,.3 .4-3.1 .3,.9 .4,2.8 .3,1.0 .4-1.7 .3,1.1 .4-3.2 .3,5.4 .4,1.0 .3-2.5 .4-.1 .3,0 .4-.7 .3-1.9 .4,4.2 .3,.6 .4,2.5 .3-3.3 .4-.7 .3,2.1 .4-2.1 .3,2.2 .4-2.3 .4,2.3 .3,2.7 .4-.5 .3,1.9 .4,.7 .3-3.4 .4-.7 .3-1.6 .4,3.7 .3,.6 .4,1.9 .3-3.5 .4,1.3 .3,2.0 .4-2.0 .3,.5 .4,4.8 .3-4.6 .4,1.4 .3,1.2 .4,.3 .3-3.6 .4,.6 .3-.2 .4,5.7 .3-.7 .4-2.6 .3,4.3 .4-.7 .3,2.4 .4-6.6 .3,1.6 .4,1.4 .4,.7 .3,1.5 .4,.3 .3-1.7 .4,2.8 .3-3.4 .4,3.5 .3,1.1 .4-4.0 .3,3.1 .4-1.1 .3,2.1 .4,4.1 .3-5.4 .4,4.1 .3-4.6 .4,5.6 .3,.9 .4-4.2 .3,0 .4,.9 .3,3.0 .4-4.0 .3,5.1 .4-1.8 .3,.9 .4-.6 .3-2.2 .4,3.3 .3-2.2 .4,0 .4,5.4 .3-.9 .4-1.4 .3,.7 .4-1.7 .3,5.2 .4-5.5 .3,.2 .4,2.2 .3,3.0 .4-2.8 .3,1.4 .4-2.1 .3,1.7 .4-1.5 .3,2.8 .4-3.7 .3,8.6 .4-2.8 .3-3.0 .4,4.8 .3-4.8 .4,4.6 .3-2.7 .4,2.6 .3-.8 .4-1.2 .3,.9 .4,.9 .3-5.2 .4,4.9 .3,2.5 .4-4.0 .4,.5 .3-.6 .4-1.0 .3,6.5 .4-4.4 .3,.1 .4,2.9 .3-.3 .4,8.3 .3-5.9 .4-5.1 .3,8.7 .4-2.8 .3-1.7 .4-.4 .3-2.2 .4,8.5 .3-4.3 .4-1.6 .3,5.5 .4-2.9 .3-4.2 .4,1.6 .3,2.1 .4,8.3 .3-6.2 .4-1.0 .3,2.0 .4-.3 .3-7.1 .4,8.0 .3,2.2 .4-2.8 .4,1.7 .3,.2 .4-.3 .3-1.8 .4,1.6 .3,4.0 .4-2.6 .3-1.2 .4,2.7 .3-3.9 .4,1.2 .3,4.9 .4-3.2 .3-3.8 .4,1.2 .3,4.4 .4-2.2 .3,4.4 .4,2.4 .3-5.1 .4,1.0 .3-.4 .4,1.7 .3-.7 .4,2.6 .3-2.4 .4-.7 .3,2.7 .4-2.1 .3,7.5 .4-2.6 .3-5.7 .4-.6 .4,4.2 .3,1.3 .4,3.6 .3-4.3 .4-.9 .3,6.7 .4-5.6 .3,.5 .4,.4 .3,4.8 .4-4.6 .3,6.3 .4-8.3 .3,4.0 .4,4.1 .3-6.9 .4,.8 .3,5.4 .4-7.7 .3,9.3 .4-3.6 .3-2.2 .4,10.8 .3-9.8 .4,3.4 .3,.1 .4,3.5 .3-4.0 .4,4.7 .3-.2 .4-1.3 .3,2.7 .4-8.1 .4,9.0 .3-1.5 .4-1.1 .3-.8 .4-2.1 .3,.2 .4,3.7 .3,.6 .4-1.1 .3-2.1 .4,.6 .3,4.1 .4,5.5 .3-13.0 .4,3.7 .3,2.4 .4,0 .3,3.1 .4,1.9 .3-2.0 .4-.1 .3,1.7 .4,3.1 .3-3.6 .4-2.6 .3,3.7 .4-1.4 .3,7.6 .4-6.3 .3,0 .4,4.1 .4,2.1 .3-7.2 .4,4.5 .3-4.2 .4,3.4 .3-3.3 .4,3.5 .3,4.6 .4-4.9 .3,1.1 .4-3.0 .3,4.0 .4,.1 .3-4.0 .4-.7 .3,1.6 .4-.7 .3,2.2 .4-.8 .3-.1 .4,1.9 .3,1.5 .4,0 .3-7.2 .4,8.2 .3,1.2 .4,.7 .3-.9 .4-.7 .3,5.4 .4,3.8 .3-8.6 .4,7.6 .4-6.9 .3,.7 .4-3.3 .3-1.5 .4,4.8 .3,3.7 .4,2.8 .3-1.3 .4-2.9 .3,8.9 .4-8.5 .3,.6 .4-2.2 .3,4.0 .4-1.4 .3,3.6 .4-.8 .3,5.8 .4-7.6 .3-4.9 .4,5.3 .3-.5 .4,5.7 .3-9.1 .4,8.8 .3-5.9 .4,2.9 .3,4.7 .4-7.7 .3,4.2 .4-.4 .3-.8 .4,2.2 .4,1.7 .3-3.1 .4,3.8 .3-1.7 .4,3.4 .3,4.0 .4-3.4 .3-.5 .4-1.9 .3-4.4 .4,12.7 .3-7.9 .4,11.1 .3-5.4 .4-2.1 .3,8.6 .4-1.7 .3-8.9 .4,.6 .3,1.1 .4,3.3 .3-11.9 .4,9.6 .3,3.5 .4-10.5 .3,4.5 .4,4.6 .3-6.4 .4,4.6 .3-1.8 .4,2.0 .3,6.1 .4-8.7 .4,3.8 .3,5.7 .4-.9 .3-7.4 .4,6.1 .3-1.6 .4-2.5 .3,2.7 .4,8.4 .3-10.2 .4-1.0 .3,.6 .4-2.9 .3,5.7 .4-1.6 .3-3.2 .4,8.7 .3-8.8 .4,.3 .3,4.3 .4-4.3 .3,4.5 .4,8.7 .3-9.4 .4,4.0 .3-.2 .4,1.6 .3-5.3 .4,3.9 .3,6.5 .4-5.6 .3-.9 .4,7.5 .4-1.2 .3,0 .4,1.5 .3-4.6 .4-2.9 .3-3.6 .4,3.3 .3,1.1 .4-.3 .3-.6 .4,8.7 .3-5.2 .4,2.1 .3,2.7 .4,2.0 .3,.6 .4-1.0 .3,5.8 .4-9.4 .3,3.1 .4-.4 .3-.9 .4-1.7 .3,7.3 .4-2.4 .3,9.2 .4,4.4 .3-1.6 .4-19.3 .3,19.2 .4-13.3 .4-4.8 .3,10.5 .4-10.7 .3-.7 .4,4.6 .3-6.5 .4,8.7 .3,8.0 .4-6.9 .3,5.8 .4,5.7 .3,.1 .4-19.4 .3,15.3 .4-2.8 .3,4.2 .4-4.5 .3,2.5 .4,1.3 .3,5.4 .4,1.7 .3-4.1 .4-6.0 .3-9.1 .4,5.4 .3-3.7 .4,7.4 .3,3.6 .4,8.4 .3-8.3 .4,15.1 .3-12.7 .4-10.7 .4,7.4 .3-4.2 .4,9.2 .3,7.1 .4-5.9 .3-.2 .4-9.3 .3-3.8 .4,16.3 .3-2.3 .4-1.1 .3,1.6 .4,6.6 .3-8.8 .4-1.4 .3,.1 .4,11.1 .3-7.3 .4,12.1 .3-17.9 .4,13.0 .3-5.0 .4,1.5 .3,1.2 .4,3.8 .3,6.0 .4-23.3 .3,9.1 .4,.2 .3-10.5 .4,13.5 .3-4.0 .4,3.7 .4-7.0 .3,4.5 .4,1.5 .3,4.1 .4-3.3 .3-5.3 .3,22.2M1179.1,381.5l.3-13.3 .4,2.4 .3-.5 .3,11.4M1180.5,381.5l.3-17.9 .4,11.5 .3-4.4 .4,2.4 .3,8.4M1182.3,381.5l.3-8.2 .2,8.2M1183.1,381.5l.2-3.7 .3-4.6 .4-2.0 .3-.1 .4,1.7 .3-14.4 .4,10.9 .3,12.2M1185.8,381.5l.3-3.8 .3,.7 .4-3.5 .3,3.7 .4,2.4 .3-17.7 .4,11.1 .4,3.3 .3-.4 .4,0 .3-11.0 .4,6.4 .3-4.1 .1,12.9M1190.9,381.5l.1-6.8 .4-4.9 .3-5.5 .4,13.5 0,3.7M1192.6,381.5l.2-7.3 .2,7.3M1193.9,381.5l.3-9.4 .3-.8 .4,3.7 .1,6.5M1195.3,381.5l.3-17.7 .2,17.7M1196.9,381.5l.1-9.0 .3,6.6 .4-3.1 .3,5.5M1199.4,381.5l0-4.8 .4,.8 .1,4.0M1200.9,381.5l.3-7.5 .3,7.5M1207.2,381.5l0-.6 0,.6M1213.2,381.5l0-.1 0,.1" stroke="#0000c0"/>
<path d="M709.0,381.5l.1-15.6 .3-80.2 .4-55.5 .3-31.2 .4-42.4 .3-36.3 .4-24.1 .3-18.3 .4-17.7 .3-14.2 .4-11.5 .3-6.6 .4-3.4 .3-2.0 .4-1.5 .3-1.3 .4-.8 .3-1.1 .4-.8 .3-1.2 .4-.6 .3-.2 .4-1.1 .3-.4 .4-.4 .3-.5 .4-.4 .4,0 .3-.1 .3-.1M719.3,12.0l.3,.2 .3-.2M720.0,12.0l.3,.3 .4,.4 .3,.3 .4,.1 .3,.2 .4,.4 .3,.5 .4,0 .3,.4 .4,.2 .3,.2 .4,.7 .3,.1 .4,.4 .3,.4 .4-.3 .3,.5 .4,.8 .3-.1 .4,.4 .3,0 .4,.5 .3,.3 .4,.3 .3,.2 .4,.4 .3,.3 .4,.3 .4,.1 .3,.7 .4,0 .3,.3 .4,.4 .3,0 .4,.7 .3,.1 .4,.4 .3-.1 .4,.5 .3,.1 .4,.2 .3,.6 .4-.2 .3,.4 .4,.1 .3,.1 .4,0 .3,.1 .4-.1 .3,.5 .4,.2 .3,.1 .4-.1 .3-.1 .4,.4 .3,.3 .4-.1 .3,.2 .4,.2 .4,.3 .3,.6 .4-.3 .3-.1 .4,.4 .3,.8 .4-.3 .3,.7 .4-.6 .3,.7 .4,.5 .3-.1 .4,.6 .3,0 .4,.4 .3,.5 .4-.1 .3,.7 .4-.3 .3,.6 .4,.5 .3,.5 .4-.5 .3,.3 .4,.9 .3-.4 .4,.7 .3,.3 .4,.3 .3,.3 .4-.1 .3,.6 .4,.7 .4-.6 .3,.6 .4,.7 .3,.1 .4,.5 .3,0 .4,.2 .3,.3 .4,.5 .3,.3 .4-.1 .3,.5 .4-.2 .3,1.0 .4-.1 .3,.4 .4,.5 .3-.2 .4,.6 .3,.5 .4,.2 .3-.1 .4,.8 .3-.3 .4,.4 .3,.6 .4-.2 .3,.2 .4,.6 .3,.4 .4-.2 .3,.4 .4,.9 .4,.1 .3,.3 .4,.3 .3,.6 .4-.4 .3,.5 .4,.3 .3,0 .4,.7 .3,.2 .4,.2 .3,.5 .4,.2 .3,0 .4,.5 .3-.1 .4,.9 .3,0 .4,.7 .3-.1 .4,.5 .3-.3 .4,.4 .3,.4 .4-.1 .3,.4 .4,.5 .3,.6 .4,.5 .3-.1 .4,.4 .3,.3 .4,.2 .4,.7 .3-.6 .4,1.0 .3,.1 .4,0 .3,.9 .4-.5 .3,.3 .4,.6 .3,.5 .4,.2 .3,.6 .4-.6 .3,.6 .4,.5 .3,.4 .4-.2 .3,0 .4,1.1 .3,.1 .4,.6 .3-.4 .4,.4 .3-.3 .4,1.0 .3,.3 .4,.4 .3-.2 .4,1.0 .3-.4 .4,.4 .3,.5 .4,.4 .4-.3 .3,0 .4,1.0 .3,0 .4-.1 .3,1.0 .4,.2 .3,.6 .4-.1 .3,.3 .4,.3 .3,.4 .4,.6 .3,.2 .4,.1 .3-.2 .4,.6 .3,.4 .4-.2 .3,.3 .4,.7 .3,.3 .4-.2 .3,.4 .4,.7 .3-.1 .4,.4 .3-.2 .4,1.0 .3-.3 .4,.4 .4,.8 .3-.5 .4,.4 .3,1.0 .4-.8 .3,1.3 .4,.2 .3,.1 .4-.1 .3,.3 .4,.5 .3-.2 .4,.6 .3-.1 .4-.2 .3,1.2 .4,1.3 .3-.5 .4,.5 .3-.2 .4,.3 .3,.8 .4,.2 .3,0 .4,.2 .3,1.2 .4-1.0 .3,.6 .4,.3 .3,.1 .4,.8 .3-.1 .4-.1 .4,.2 .3,.5 .4,.6 .3,.5 .4-.6 .3,.6 .4,.6 .3,1.0 .4-.2 .3,.6 .4-.9 .3,.7 .4,.6 .3,.1 .4-.8 .3,.8 .4,1.3 .3-.2 .4,.7 .3,.4 .4-.4 .3-.6 .4,.6 .3,.8 .4,.5 .3,0 .4,0 .3,1.2 .4,.5 .3-1.3 .4,1.0 .3-.3 .4,.8 .4-.2 .3,1.1 .4-.2 .3-.1 .4,.5 .3,.9 .4-.3 .3,.9 .4,.6 .3-.6 .4-.1 .3,.5 .4,1.2 .3-.6 .4,.3 .3,.8 .4,1.2 .3-1.3 .4,.3 .3,.5 .4,1.2 .3,.2 .4-.8 .3,.3 .4,.4 .3,.6 .4,0 .3,.7 .4,.2 .3,.5 .4-.2 .3,.6 .4-.4 .4,.4 .3,1.0 .4-1.0 .3,1.7 .4-.5 .3,0 .4,.2 .3,1.9 .4-1.3 .3,.2 .4,.2 .3,2.0 .4-.5 .3,0 .4,.5 .3-.6 .4,1.2 .3-.6 .4,.6 .3,1.2 .4,.1 .3,0 .4,0 .3-.2 .4,.9 .3-.3 .4,1.5 .3,1.0 .4-1.1 .3-.1 .4,.7 .3,.6 .4-.5 .4-.4 .3,1.2 .4,.6 .3,.4 .4-1.2 .3,1.3 .4-.1 .3,0 .4,.4 .3,1.2 .4-.6 .3,.3 .4,.4 .3,0 .4,1.1 .3,0 .4,.5 .3-.3 .4,1.0 .3-.3 .4,1.0 .3-.2 .4,.4 .3,.1 .4,.2 .3,.4 .4,.3 .3,1.3 .4-1.5 .3,1.2 .4,.1 .4,.6 .3-.7 .4,1.3 .3-.5 .4-.1 .3,0 .4,.5 .3,.6 .4,1.3 .3-1.1 .4,.3 .3,.5 .4,.3 .3,.6 .4,.6 .3-.6 .4,.2 .3,1.5 .4-.8 .3,.7 .4-.1 .3,.6 .4-.2 .3,.3 .4,.3 .3,1.6 .4-1.0 .3,.7 .4,1.0 .3-.8 .4,1.5 .3-1.1 .4-.2 .4,1.6 .3-.6 .4,.6 .3,.1 .4,1.5 .3-.9 .4,.5 .3-.1 .4,.7 .3-.3 .4,.7 .3,.1 .4-.2 .3,1.0 .4-.2 .3,.7 .4,.1 .3,.9 .4-.5 .3,0 .4,1.0 .3-.2 .4,.5 .3,1.2 .4-.6 .3-.4 .4,1.4 .3,1.1 .4-1.0 .3,.8 .4-1.3 .3,1.5 .4,.2 .4,.7 .3-.3 .4,.8 .3,.5 .4-.3 .3,.8 .4-1.1 .3,1.8 .4-.4 .3,.7 .4,.7 .3-1.7 .4,2.7 .3-2.0 .4,2.1 .3-.7 .4-1.1 .3,3.1 .4-.2 .3-1.5 .4,1.0 .3,.7 .4,0 .3,.8 .4-.4 .3-.6 .4,1.5 .3-.1 .4-.4 .3-.3 .4,2.0 .3-.3 .4,.8 .4,.3 .3,.2 .4,.4 .3,1.0 .4,.5 .3-.6 .4-.4 .3-.4 .4,1.4 .3,.1 .4-.3 .3,.2 .4,.8 .3,.3 .4-1.1 .3,1.8 .4,.4 .3,1.1 .4-1.2 .3,.7 .4-1.2 .3,1.8 .4-.5 .3,.1 .4-.2 .3,2.4 .4-1.8 .3,1.4 .4,.3 .3,.5 .4,.3 .3,.2 .4,1.8 .4-1.9 .3,.6 .4,1.0 .3-.3 .4-1.5 .3,1.7 .4,.8 .3-1.3 .4,2.2 .3-.3 .4,.6 .3,0 .4-.4 .3,.4 .4,1.2 .3-.2 .4,.2 .3,.6 .4,0 .3,.8 .4,.3 .3-.4 .4,1.1 .3-.8 .4,.7 .3,.9 .4,0 .3,.2 .4,0 .3,0 .4,.6 .4,.7 .3-1.5 .4,.7 .3,.9 .4-.4 .3,.7 .4,.8 .3,0 .4-1.8 .3,1.6 .4,.2 .3,1.4 .4-.5 .3-1.1 .4,1.8 .3-.3 .4,.1 .3,.8 .4-.5 .3,1.4 .4,0 .3,1.2 .4-2.4 .3,2.2 .4,.4 .3-.8 .4,1.9 .3-.2 .4,1.0 .3-.5 .4,.7 .3-.6 .4,.9 .4,.6 .3,.1 .4,.1 .3,.6 .4-1.0 .3,.5 .4,.7 .3,1.5 .4-1.3 .3,1.9 .4-1.0 .3,.4 .4,.8 .3,.5 .4,.1 .3-2.1 .4,2.3 .3,.2 .4-.8 .3,.8 .4-.3 .3,2.3 .4,.1 .3-3.6 .4,3.2 .3,.5 .4-.1 .3-.5 .4,2.3 .3-1.1 .4,.5 .3-.3 .4,.7 .4,.9 .3,.6 .4,1.8 .3-3.0 .4,2.6 .3-.8 .4-1.6 .3,2.2 .4-.7 .3,1.0 .4-.6 .3,.9 .4,.8 .3-1.5 .4,1.8 .3,1.3 .4-.7 .3-.5 .4,1.8 .3-1.5 .4,.2 .3-1.0 .4,2.9 .3-1.0 .4,2.6 .3-1.0 .4-.2 .3,0 .4,.7 .3,.3 .4,.8 .3,.1 .4-.5 .4,0 .3,.2 .4-.1 .3,.1 .4,3.3 .3-1.0 .4-.1 .3,.7 .4-1.4 .3,.5 .4,1.2 .3,0 .4-.9 .3,1.9 .4,.3 .3-1.0 .4,.7 .3-.7 .4,1.3 .3-.1 .4,1.6 .3,.7 .4-.7 .3,3.1 .4-3.0 .3-.3 .4,1.2 .3,.6 .4-1.2 .3,1.5 .4-.8 .3-1.0 .4,1.8 .4,0 .3,.8 .4,.5 .3,.2 .4,.5 .3-.8 .4,3.3 .3-1.3 .4-.7 .3,1.9 .4-.6 .3,1.0 .4-1.0 .3-.2 .4-.4 .3,1.3 .4,1.7 .3-.9 .4-.1 .3-.6 .4,4.3 .3-2.6 .4,2.8 .3-2.7 .4,.6 .3,.2 .4-.2 .3,.8 .4,1.5 .3-.9 .4-.7 .4,1.8 .3,.1 .4,1.7 .3-2.5 .4,2.2 .3,.6 .4-.1 .3,.8 .4-.5 .3-1.5 .4,.8 .3-.5 .4,.2 .3,3.2 .4-1.4 .3-1.0 .4-.7 .3,4.8 .4,.3 .3-2.1 .4,1.3 .3,1.1 .4-1.5 .3,1.7 .4,2.2 .3-2.6 .4,.1 .3-.4 .4-.1 .3,1.2 .4,.8 .3,.8 .4,1.6 .4-1.3 .3-1.5 .4,.7 .3-1.5 .4,3.0 .3,2.4 .4-3.1 .3,0 .4,3.1 .3,.9 .4-2.1 .3-.4 .4,2.7 .3-.8 .4,.8 .3,.9 .4,.4 .3-1.7 .4,1.0 .3,.7 .4,2.9 .3-5.6 .4,3.8 .3-.8 .4,1.7 .3-1.8 .4,2.8 .3-1.9 .4,.6 .3-1.2 .4,3.0 .3-.3 .4-.3 .4-2.9 .3,5.2 .4-2.2 .3,1.6 .4-1.1 .3-.2 .4,.9 .3,.1 .4,.3 .3,1.5 .4-.3 .3,2.4 .4-1.6 .3,.8 .4-.4 .3-1.2 .4,.8 .3,.1 .4-.6 .3,5.4 .4-3.9 .3,.9 .4,.4 .3,2.1 .4-2.5 .3-.6 .4,.4 .3,1.9 .4-.8 .3-.1 .4-1.1 .3,1.2 .4,1.8 .4,.4 .3,.1 .4,.2 .3,1.4 .4-1.7 .3,2.5 .4,.5 .3-1.5 .4,1.7 .3-.3 .4,3.3 .3-4.3 .4,1.5 .3,.4 .4-.6 .3,.6 .4,1.8 .3-4.0 .4,4.1 .3-2.0 .4-1.1 .3,4.2 .4-.9 .3,1.8 .4-2.8 .3,2.5 .4,1.6 .3-3.7 .4,.9 .3,3.2 .4-3.1 .3,1.9 .4-3.8 .4,1.8 .3,4.0 .4-.2 .3,1.3 .4-1.4 .3,.4 .4-.9 .3,1.4 .4,2.9 .3-.9 .4-3.5 .3,.7 .4,2.5 .3,.3 .4,.3 .3-.1 .4,3.3 .3-4.2 .4,2.9 .3-1.1 .4,5.2 .3-4.8 .4-1.7 .3,6.7 .4-6.5 .3,2.1 .4,2.5 .3,1.8 .4-4.7 .3,1.9 .4-.4 .3,1.9 .4,1.2 .4-2.7 .3,3.6 .4-3.2 .3,5.1 .4-1.2 .3,1.3 .4-4.8 .3,6.0 .4-.9 .3-3.2 .4,1.1 .3-3.3 .4,.9 .3,2.5 .4,.1 .3,5.2 .4-1.6 .3-.9 .4,0 .3,2.7 .4-.6 .3,.1 .4-3.5 .3,1.5 .4,1.8 .3,.1 .4-.8 .3,2.2 .4-.6 .3,3.3 .4-4.6 .4-.3 .3,1.4 .4,.1 .3,.5 .4-3.0 .3,3.8 .4,3.5 .3-.3 .4-3.4 .3-.4 .4,.8 .3,.2 .4,1.6 .3,3.8 .4-1.4 .3,2.7 .4-2.9 .3,2.4 .4-2.8 .3,.8 .4,4.2 .3-5.5 .4,.2 .3,4.9 .4-3.1 .3-.9 .4,2.4 .3-2.2 .4,1.7 .3-1.6 .4,2.1 .3,1.1 .4-1.2 .4-.4 .3,1.5 .4,1.8 .3,1.1 .4-.7 .3,.7 .4-1.5 .3,.4 .4,.8 .3,.1 .4-.1 .3-2.8 .4,1.0 .3,4.3 .4-2.0 .3,2.0 .4-.3 .3,.6 .4,1.2 .3,2.1 .4,3.1 .3-6.3 .4-2.0 .3,5.2 .4-3.1 .3,2.4 .4-1.3 .3,2.9 .4-1.2 .3,0 .4,6.1 .3-6.3 .4,1.1 .4,6.4 .3-7.8 .4,2.0 .3-.3 .4-.2 .3,2.2 .4,2.0 .3-1.3 .4,.2 .3-6.1 .4,1.1 .3,6.0 .4,.1 .3-1.6 .4-.4 .3,3.5 .4,1.1 .3-7.1 .4,2.4 .3,7.1 .4,.9 .3-2.3 .4-2.5 .3-.6 .4,2.6 .3,3.8 .4-4.7 .3-.8 .4,1.9 .3,1.6 .4-2.6 .3,2.0 .4,3.2 .4-3.1 .3,4.2 .4-6.0 .3,1.6 .4,4.4 .3-3.2 .4-2.4 .3,9.9 .4-5.7 .3-4.5 .4,9.2 .3-3.8 .4,4.0 .3-3.7 .4,7.3 .3-2.1 .4-3.0 .3-1.7 .4-.4 .3,.2 .4-1.8 .3,1.5 .4,.2 .3,5.3 .4-2.2 .3-8.8 .4,2.6 .3,4.2 .4,.5 .3-.5 .4,4.4 .3-6.5 .4,7.0 .4-.7 .3-6.1 .4,13.1 .3-7.5 .4,6.9 .3-3.2 .4-1.5 .3,1.1 .4-1.3 .3,3.2 .4-1.8 .3,3.7 .4-2.3 .3,3.6 .4-6.3 .3,6.6 .4-6.2 .3,3.8 .4-.1 .3-4.3 .4,3.5 .3,7.1 .4-7.8 .3,12.2 .4-10.9 .3,2.5 .4,3.7 .3-4.7 .4,1.5 .3-7.0 .4,8.0 .4-7.3 .3,2.0 .4,6.8 .3,1.0 .4-6.9 .3,5.1 .4-.8 .3,1.7 .4,3.7 .3-2.7 .4,2.4 .3,2.4 .4-4.2 .3-6.6 .4,.7 .3,5.9 .4-.4 .3-1.1 .4-2.5 .3,3.7 .4,3.2 .3-.1 .4-5.0 .3-4.4 .4,11.1 .3,6.0 .4-10.6 .3,3.5 .4-.6 .3-3.5 .4,4.4 .3,5.6 .4,2.9 .4-7.3 .3,4.6 .4-5.3 .3,6.3 .4-3.3 .3,4.7 .4-4.1 .3,.6 .4-3.7 .3-2.3 .4,5.8 .3,3.0 .4-10.2 .3,6.0 .4-.7 .3,.3 .4-2.8 .3,1.9 .4,1.4 .3,0 .4,6.7 .3-.8 .4-1.7 .3-.6 .4,.6 .3-.8 .4,1.3 .3,2.2 .4,5.5 .3-10.0 .4,1.2 .3,6.3 .4-5.4 .4,.7 .3,1.6 .4,8.7 .3-2.6 .4-2.4 .3-8.6 .4,10.3 .3-2.0 .4,3.7 .3-2.5 .4-3.2 .3,11.3 .4,4.3 .3-16.1 .4,2.9 .3,3.1 .4-6.4 .3,.2 .4,14.3 .3-8.9 .4-5.1 .3,7.9 .4-1.3 .3-5.2 .4,5.5 .3,4.7 .4-2.2 .3,3.4 .4-8.4 .3,11.1 .4-12.4 .3,12.6 .4-7.9 .4,7.6 .3-5.4 .4-5.7 .3-.1 .4-.5 .3,6.4 .4-.6 .3-.3 .4-1.5 .3,5.0 .4-6.6 .3,3.7 .4-3.3 .3,3.2 .4-.6 .3,7.0 .4-1.3 .3,4.8 .4-4.8 .3-.3 .4-4.5 .3,10.7 .4-20.0 .3,14.7 .4-6.2 .3,1.2 .4,19.4 .3-12.6 .4-7.9 .3,20.8 .4-17.1 .3,8.8 .4-2.1 .4-3.2 .3,11.8 .4-11.1 .3,4.6 .4,.9 .3-7.2 .4-11.7 .3,14.0 .4-.7 .3,3.3 .4,4.0 .3-5.0 .4-5.8 .3,6.7 .4-3.2 .3,6.0 .4-12.9 .3,21.9 .4-12.4 .3,.5 .4,1.7 .3,8.1 .4,.4 .3-4.9 .4-1.6 .3,8.0 .4-.6 .3-9.0 .4-2.1 .3,8.9 .4,1.1 .4,.5 .3-16.3 .4,10.0 .3,3.3 .4-5.5 .3-5.9 .4,5.6 .3,15.5 .4-8.1 .3,2.2 .4-.1 .3,5.8 .4-4.9 .3,4.7 .4-8.4 .3,2.0 .4,9.6 .3,2.4 .4-8.0 .3-6.3 .4,1.1 .3,3.6 .4,24.7 .3-21.5 .4,1.9 .3-2.3 .4,6.2 .3-4.9 .4,1.8 .3-18.5 .4,10.7 .3,5.6 .4-.6 .4,.7 .3-1.6 .4,4.1 .3-2.2 .4-5.9 .3,1.4 .4,3.3 .3-5.6 .4,6.7 .3,8.4 .4,6.2 .3-7.6 .4-4.0 .3-2.6 .4-3.8 .3,10.8 .4,1.9 .3-10.0 .4-2.2 .3,10.8 .4-5.1 .3-6.0 .4,6.7 .3,2.7 .4,16.1 .3-24.1 .4,4.4 .3,3.6 .4,4.4 .3,6.3 .4-8.3 .3,.4 .4-7.6 .4,16.5 .3-17.9 .4,9.2 .3-7.2 .4,15.3 .3-9.4 .4-5.3 .3,7.5 .4,12.7 .3-8.9 .4-5.8 .3,15.1 .3,.6M1181.2,381.5l.3-12.8 .4,9.4 .3-11.8 .4,14.3 0,.9M1183.1,381.5l.2-3.6 .3-15.7 .4,17.1 .3-6.5 .4-1.5 .3,9.7 .4-14.9 .3,6.6 .4-1.7 .2,10.5M1187.4,381.5l.1-4.5 .3,.6 .4-6.8 .4-4.8 .3,12.7 .4,.4 .3-5.2 .4-7.1 .2,14.7M1190.4,381.5l.3-8.0 .3,7.0 .3,1.0M1191.4,381.5l.3-8.5 .2,8.5M1192.6,381.5l.2-6.5 .3,5.6 .2,.9M1193.9,381.5l.3-4.1 .2,4.1M1194.7,381.5l.2-5.5 .3,2.9 .4-7.4 .3,1.7 .4,3.2 .2,5.1M1197.5,381.5l.2-17.0 .3,17.0M1198.3,381.5l.1-1.1 .3-5.6 .1,6.7M1201.1,381.5l.1-4.3 .3,4.3M1207.8,381.5l.1-4.5 0,4.5" stroke="#0032ff"/>
<path d="M709.4,381.5l.4-81.2 .3-54.2 .4-34.7 .3-33.2 .4-36.7 .3-28.9 .4-22.2 .3-16.8 .4-17.6 .3-14.9 .4-9.6 .3-5.4 .4-2.5 .3-1.7 .4-1.6 .3-.9 .4-.9 .3-1.0 .4-1.3 .3-.8 .4-.3 .3-1.0 .4-.4 .3-.8 .4-.2 .4-.6 .3,0 .4,0 .3-.1 .1,0M720.0,12.0l.3,.5 .4,.5 .3-.4 .4,.8 .3,.6 .4,.5 .3,.4 .4-.1 .3-.1 .4,1.0 .3,0 .4,.7 .3-.3 .4,.4 .3,.4 .4,.1 .3,.2 .4,.5 .3,.7 .4,.5 .3,.2 .4,.5 .3-.4 .4,.7 .3,.3 .4,.3 .3-.1 .4,.9 .4-.1 .3,.5 .4,.5 .3,.7 .4-.3 .3,.7 .4,.2 .3,.2 .4,.3 .3,.1 .4,.7 .3,.1 .4,.2 .3,.3 .4,.1 .3,.5 .4-.1 .3,.7 .4,.4 .3-.2 .4-.1 .3,.6 .4,.2 .3,.1 .4,.1 .3,.2 .4,.1 .3,.7 .4-.6 .3,.4 .4,.6 .4-.4 .3,.5 .4,0 .3,.9 .4-.4 .3,.6 .4,.8 .3-.4 .4,.6 .3,.5 .4,.1 .3,.7 .4-.3 .3,.5 .4,.3 .3-.1 .4,.7 .3,.5 .4,.3 .3,.1 .4,0 .3,.8 .4,.4 .3-.2 .4,.6 .3,.3 .4-.3 .3,1.2 .4,0 .3,.8 .4-.1 .3,.1 .4,.2 .4,.9 .3-.2 .4,.3 .3,.5 .4-.4 .3,1.0 .4,.6 .3-.1 .4,1.0 .3-.7 .4,.5 .3,.7 .4,0 .3,.3 .4-.1 .3,1.1 .4,.5 .3,.5 .4-.2 .3,.7 .4-.1 .3,.1 .4,.6 .3,.4 .4-.3 .3,.7 .4,.2 .3,.1 .4,.9 .3,.2 .4-.6 .3,1.0 .4,.6 .4,.1 .3,.4 .4,.5 .3,0 .4,.2 .3,.3 .4,.1 .3,1.0 .4,.3 .3-.4 .4,.7 .3-.3 .4,.6 .3,.9 .4-.3 .3,.7 .4-.1 .3,0 .4,.1 .3,.9 .4,.1 .3,.4 .4,.2 .3,1.3 .4-.4 .3,.1 .4,.3 .3,.7 .4-.2 .3,.2 .4,.6 .3,.4 .4,.3 .4,.2 .3-.1 .4,.2 .3,1.0 .4,.4 .3,.3 .4-.3 .3,.5 .4,.3 .3,.2 .4,.4 .3,.4 .4,.6 .3,.2 .4,0 .3,.2 .4,.6 .3,.3 .4-.3 .3,.9 .4,.1 .3,.5 .4,.4 .3,.6 .4-.1 .3,.4 .4-.3 .3,1.0 .4,.1 .3-.1 .4,.5 .3,.1 .4,.2 .4,1.2 .3-.2 .4,.5 .3-.5 .4,.8 .3,.1 .4-.2 .3,1.1 .4,.1 .3,.2 .4,.5 .3-.3 .4,.5 .3,.2 .4,.7 .3,.4 .4,.3 .3,.3 .4,.8 .3-.5 .4,.1 .3,.6 .4,.5 .3,.1 .4,.2 .3,.3 .4-.3 .3,1.3 .4-.2 .3,.2 .4,.5 .4,.4 .3,.6 .4,.1 .3-.2 .4,0 .3,1.1 .4-.1 .3,.2 .4,.1 .3,.6 .4,.2 .3,.2 .4,1.0 .3-.1 .4,1.0 .3,.3 .4-.1 .3,.5 .4-.5 .3,.1 .4,.8 .3,.2 .4,.4 .3,.3 .4,.1 .3,.2 .4,.6 .3,.4 .4,.2 .3-.2 .4,.7 .3-.4 .4,.9 .4-.3 .3,1.3 .4,.1 .3-.2 .4,.3 .3,.5 .4-.6 .3,1.1 .4,.2 .3,.6 .4-.6 .3,.6 .4,.5 .3,1.1 .4-.5 .3,.6 .4-.1 .3,.1 .4,1.0 .3-.1 .4,0 .3,.6 .4,.5 .3,.6 .4,.1 .3,.5 .4-.7 .3,.7 .4,.9 .3-.3 .4,.9 .3,1.2 .4-1.8 .4,.3 .3,1.5 .4-.1 .3-.1 .4,.5 .3,.5 .4,.2 .3,.1 .4,.5 .3-.1 .4,.5 .3,.5 .4-.1 .3,1.1 .4-1.2 .3,1.8 .4-.5 .3,.1 .4,.2 .3,.4 .4-.2 .3,1.4 .4-.2 .3,.2 .4,.6 .3,.3 .4-.6 .3,1.2 .4,.2 .3,.2 .4,.2 .3,.1 .4,.5 .4,0 .3,.4 .4,.1 .3-.2 .4,1.4 .3-1.0 .4,1.4 .3-.3 .4,.5 .3,.5 .4,1.2 .3-1.6 .4,1.5 .3,.3 .4-.7 .3,.8 .4-.6 .3,.4 .4,.7 .3,.6 .4,0 .3,1.3 .4-.5 .3,.3 .4,.6 .3-.1 .4,1.2 .3-.9 .4,0 .3,1.7 .4-.5 .3-.5 .4,.9 .4,1.0 .3,.3 .4-.7 .3-.2 .4,1.8 .3-.3 .4,.7 .3,0 .4,0 .3,.4 .4,.7 .3-1.3 .4,1.5 .3,.3 .4-.4 .3,.9 .4,.4 .3-.4 .4,1.4 .3-.7 .4,.1 .3,.5 .4,.7 .3,.2 .4,1.3 .3-.7 .4,.1 .3-.1 .4,.7 .3,.6 .4,.5 .4-.1 .3,.1 .4-.3 .3,1.0 .4,.5 .3,.1 .4,.5 .3,.1 .4,1.4 .3,0 .4,0 .3-.7 .4,.6 .3,.1 .4-.3 .3,1.6 .4-1.0 .3,.7 .4,.9 .3-1.0 .4,2.0 .3,.1 .4-.3 .3,0 .4,.6 .3,1.5 .4-.9 .3,.2 .4-1.4 .3,1.0 .4,1.1 .3,1.0 .4-.6 .4,1.2 .3-.6 .4,.2 .3,.7 .4-.1 .3,.7 .4,.4 .3-1.1 .4,.9 .3,.8 .4,.6 .3-.3 .4,0 .3,.1 .4-.1 .3,.9 .4,1.3 .3-1.7 .4,.8 .3,.5 .4-.1 .3,2.1 .4-.4 .3,.3 .4-.8 .3,1.8 .4-.3 .3-.9 .4,.9 .3,.9 .4-1.2 .3,2.4 .4-.9 .4,.7 .3-.2 .4,.8 .3,.7 .4-.5 .3,1.3 .4-1.0 .3,.9 .4-.6 .3,1.2 .4,.5 .3-.5 .4-.3 .3,2.6 .4-1.3 .3-.1 .4,1.8 .3-.1 .4-.8 .3,1.3 .4,.1 .3-1.4 .4,2.2 .3,.2 .4,1.3 .3-.6 .4,.4 .3-1.9 .4,.7 .3,2.0 .4-2.0 .3,1.1 .4,1.0 .4-.5 .3,.6 .4,1.1 .3,1.1 .4-.4 .3-.4 .4,.5 .3,.6 .4-1.0 .3,1.8 .4-1.2 .3,1.3 .4-.2 .3,1.2 .4-.5 .3,.8 .4,1.1 .3-1.1 .4,.3 .3-.4 .4,.7 .3,1.3 .4-.1 .3,1.8 .4-.8 .3-1.6 .4,.1 .3,.8 .4,.6 .3,.1 .4,.3 .3,2.1 .4-.4 .4-1.4 .3,.3 .4,1.0 .3,.7 .4,.4 .3,.4 .4,.5 .3,1.2 .4-1.5 .3,.8 .4,.1 .3-1.3 .4,1.1 .3,1.4 .4-.8 .3,2.0 .4-1.8 .3,.9 .4,.6 .3-.3 .4-.5 .3,1.9 .4,.7 .3-2.3 .4,2.0 .3-1.0 .4,2.1 .3-.6 .4,1.2 .3-.9 .4,1.1 .4,.6 .3-1.6 .4,1.3 .3,2.3 .4-1.3 .3,.9 .4,.5 .3-.3 .4,.2 .3-.2 .4,1.1 .3,1.2 .4-.9 .3-1.0 .4,2.3 .3-1.5 .4,.4 .3,1.1 .4-.5 .3,1.3 .4-.1 .3,.9 .4-1.1 .3-.6 .4,2.2 .3-1.5 .4,3.4 .3-.9 .4,.4 .3-2.3 .4,2.5 .3-1.1 .4,3.0 .4-1.8 .3-.1 .4,.8 .3,2.9 .4-2.6 .3-.3 .4-.2 .3,1.1 .4,2.4 .3-1.2 .4-.8 .3,1.9 .4-1.1 .3,1.3 .4-.3 .3-.3 .4,1.7 .3-3.2 .4,2.9 .3,0 .4,1.4 .3-.5 .4,.6 .3,1.5 .4,.3 .3-1.6 .4,.7 .3,2.9 .4-.2 .3-1.7 .4,0 .3-.4 .4,2.2 .4-1.6 .3,1.2 .4,.5 .3-.1 .4-.9 .3,.7 .4-.1 .3,1.9 .4-.1 .3,1.2 .4-.4 .3,.1 .4,.4 .3-1.0 .4,.5 .3,0 .4,.9 .3-.7 .4,1.3 .3-.7 .4,.8 .3,0 .4,1.1 .3,1.6 .4,.5 .3-3.4 .4,1.9 .3,.2 .4,1.0 .3,.6 .4-3.4 .3,4.7 .4-.9 .4,.2 .3,1.5 .4,.5 .3-.4 .4-.2 .3,.5 .4-1.2 .3,2.5 .4-1.5 .3-1.0 .4,1.0 .3,2.6 .4,2.5 .3-4.3 .4,.7 .3,1.5 .4-1.9 .3,2.3 .4-.4 .3,1.7 .4-1.4 .3,1.2 .4,.3 .3-1.6 .4,1.3 .3,2.4 .4-2.4 .3,.1 .4,2.3 .3-.3 .4-.3 .3,.7 .4-.2 .4-.4 .3,1.7 .4-2.8 .3,3.6 .4,.1 .3-2.8 .4-.2 .3,3.1 .4,.5 .3,1.4 .4-2.5 .3,1.5 .4,1.6 .3-1.4 .4-.9 .3,1.1 .4-1.6 .3,1.6 .4,1.2 .3,.8 .4-.4 .3-.6 .4,.7 .3,0 .4,1.4 .3-.5 .4-.3 .3,2.1 .4,1.8 .3-3.7 .4,1.7 .4,1.6 .3-.6 .4,.9 .3,2.3 .4-1.8 .3,2.0 .4-2.0 .3,.7 .4-1.4 .3,2.0 .4-.4 .3,1.1 .4,.4 .3,1.7 .4-3.0 .3,1.4 .4,1.3 .3-.8 .4,1.1 .3,.7 .4-1.1 .3-1.0 .4,2.3 .3,2.0 .4-1.0 .3-3.1 .4,4.0 .3-2.6 .4,2.3 .3-1.1 .4,1.5 .3,2.4 .4-1.5 .4-3.3 .3,3.5 .4-.8 .3,1.6 .4,0 .3-.4 .4,0 .3-2.2 .4,3.5 .3,.5 .4,1.0 .3,1.3 .4,.7 .3-3.1 .4,4.1 .3-4.7 .4,1.1 .3,2.0 .4,1.6 .3-1.6 .4,.3 .3-1.4 .4,3.1 .3-.3 .4-.2 .3,.6 .4,.9 .3,2.0 .4,.2 .3-1.3 .4-.5 .3-1.6 .4-1.7 .4,1.1 .3,2.3 .4-2.0 .3,3.4 .4,.9 .3-4.2 .4,5.7 .3-.8 .4,0 .3-2.5 .4,3.6 .3-2.0 .4,2.2 .3,1.7 .4-2.2 .3,.4 .4,2.5 .3-.2 .4,.1 .3-2.7 .4,1.1 .3,.7 .4-.2 .3,1.9 .4-1.3 .3,2.1 .4,1.6 .3-.9 .4-1.3 .3,.5 .4-1.4 .3,5.1 .4-2.3 .4-.8 .3,2.6 .4-1.8 .3,1.4 .4,1.6 .3-3.7 .4,4.7 .3-4.0 .4,2.8 .3,1.2 .4,.2 .3,0 .4,.5 .3-1.8 .4,4.3 .3-5.5 .4,1.0 .3-.7 .4,4.6 .3,2.9 .4-3.0 .3-.6 .4-.6 .3,1.8 .4-.6 .3-.1 .4,3.5 .3-6.0 .4,5.7 .3-2.4 .4-1.2 .3,3.8 .4-1.3 .4-2.7 .3,3.8 .4-2.2 .3,1.7 .4,.4 .3-.7 .4,2.1 .3,.2 .4-2.0 .3,1.7 .4-.2 .3,3.6 .4-2.1 .3-2.1 .4,.9 .3,1.3 .4,2.0 .3,.5 .4-1.9 .3-1.6 .4,3.0 .3-2.3 .4,3.5 .3-2.7 .4,4.8 .3-2.3 .4,3.0 .3-3.4 .4,.5 .3,3.4 .4-.1 .3-.4 .4,2.6 .4-1.0 .3,.1 .4-3.2 .3-.9 .4,4.1 .3-.1 .4-.8 .3,1.9 .4-.3 .3-2.1 .4,1.5 .3,1.0 .4,1.4 .3-4.2 .4,4.8 .3-1.4 .4,2.9 .3-.7 .4-1.3 .3,1.4 .4-1.8 .3,1.3 .4,3.6 .3,2.6 .4-7.4 .3,3.8 .4-4.3 .3,3.5 .4,2.0 .3-2.7 .4,2.1 .4-.3 .3,2.5 .4-3.4 .3-.8 .4,4.0 .3-5.0 .4,5.7 .3-1.7 .4,4.9 .3,1.0 .4-9.3 .3,1.8 .4,.9 .3,7.2 .4-4.5 .3-.2 .4,1.1 .3-.3 .4,3.3 .3-1.6 .4,2.7 .3-1.7 .4-1.5 .3,3.2 .4-1.1 .3,.7 .4-.8 .3-2.0 .4,2.0 .3-.2 .4,5.1 .3-2.6 .4-2.7 .4,4.6 .3-.9 .4,1.7 .3-5.6 .4,4.8 .3,1.0 .4-3.2 .3-.9 .4,1.8 .3-1.0 .4,2.2 .3,1.2 .4,1.1 .3,.5 .4,.5 .3-2.3 .4,1.5 .3-.2 .4-1.1 .3,2.0 .4,4.0 .3-1.4 .4,1.2 .3,2.6 .4-5.5 .3,4.0 .4,.5 .3-.3 .4-5.1 .3,3.5 .4-3.3 .3,3.2 .4,1.3 .4-2.5 .3,.1 .4,1.6 .3,3.6 .4-1.4 .3,2.5 .4-2.5 .3-.7 .4-3.6 .3,.5 .4,2.3 .3-.5 .4,2.3 .3-6.6 .4,3.5 .3-2.7 .4,6.4 .3,.2 .4-1.5 .3,2.7 .4-.1 .3,4.2 .4-5.5 .3,2.7 .4-1.7 .3,3.3 .4,5.3 .3-6.9 .4-1.7 .3,7.8 .4-.7 .3-1.9 .4,.1 .4,5.1 .3-10.5 .4,2.4 .3,5.3 .4,4.3 .3-6.8 .4-4.5 .3,3.6 .4-.7 .3,6.9 .4-3.5 .3,6.0 .4-10.7 .3,4.4 .4,9.4 .3-.7 .4-7.6 .3,1.4 .4,1.7 .3-2.7 .4-3.9 .3,5.3 .4,7.7 .3-5.5 .4,4.3 .3-1.5 .4-3.5 .3,1.9 .4,3.4 .3-3.3 .4,3.0 .3-4.3 .4,2.9 .4-1.9 .3,2.5 .4-3.1 .3,3.2 .4-.1 .3,2.2 .4-2.2 .3,7.3 .4-14.9 .3,11.4 .4-2.6 .3,2.4 .4,.3 .3-2.9 .4,3.6 .3-.1 .4,4.0 .3-1.5 .4,1.2 .3-10.2 .4,11.5 .3-.8 .4-4.4 .3-4.0 .4,11.8 .3-.3 .4-6.2 .3-.5 .4,7.1 .3,1.9 .4-3.2 .4-6.2 .3,3.2 .4-2.6 .3,3.4 .4,0 .3-2.1 .4,3.0 .3-1.0 .4,4.8 .3-1.0 .4-3.9 .3,3.0 .4,2.3 .3-5.2 .4,.7 .3,2.4 .4,3.4 .3-6.3 .4-5.3 .3,12.7 .4,3.4 .3-3.0 .4,1.0 .3,1.7 .4-.1 .3-8.0 .4,.2 .3-2.0 .4,3.0 .3,5.2 .4-6.0 .3,7.2 .4-.8 .4,3.9 .3-9.7 .4,1.1 .3,6.3 .4-.4 .3-1.2 .4-.4 .3-2.3 .4,3.5 .3-1.2 .4,8.9 .3-5.3 .4,7.3 .3-15.2 .4,1.7 .3,3.0 .4-1.3 .3-3.2 .4,4.4 .3,11.8 .4-6.3 .3,10.9 .4-7.5 .3,2.4 .4-5.6 .3-1.4 .4,6.3 .3-2.8 .4-2.2 .3,2.2 .4,.4 .3,11.8 .4-10.0 .4-5.3 .3,2.7 .4,8.8 .3-5.8 .4-2.2 .3,6.3 .4-7.6 .3,7.3 .4-2.1 .3-.7 .4-9.9 .3,11.5 .4,1.5 .3-5.9 .4,6.0 .3-3.0 .4,13.5 .3-13.4 .4,1.8 .3,6.9 .4-12.7 .3,7.8 .4,0 .3,6.3 .4,2.1 .3-5.6 .4,5.6 .3-10.3 .4-1.5 .3,7.8 .4,5.8 .3-6.5 .4,3.9 .4-6.2 .3,.2 .4,3.4 .3-2.3 .4-4.5 .3-2.7 .4,11.3 .3-6.2 .4,5.2 .3,4.9 .4-12.0 .3,4.7 .4,1.5 .3-.8 .4,3.0 .3,5.5 .4-14.6 .3,4.5 .4,3.5 .3-3.3 .4-1.3 .3,8.0 .4-4.0 .3,5.3 .4-5.0 .3,5.2 .4-13.3 .3,14.5 .4-4.6 .3,.6 .4,4.7 .3-6.7 .4,5.9 .4,2.2 .3-2.1 .4,4.8 .3-10.7 .4,3.3 .3-1.7 .4,14.2 .3-9.7 .4,6.5 .3-4.9 .4-6.2 .3,5.8 .4,2.8 .3-7.0 .4,.9 .3-4.1 .4,22.9 .3-14.2 .4,4.8 .3,3.3 .4-6.0 .3,8.6 .4,8.5 .3-9.6 .4-4.0 .3-11.7 .4,15.4 .3,3.4 .4,6.5 .3-11.5 .4-.4 .4-2.2 .3,11.3 .4-4.7 .3,12.1 .4-17.6 .3,12.5 .4,10.6 .3-28.2 .4,4.2 .3,1.2 .4,.3 .3,9.8 .4-13.6 .3,14.3 .4-18.4 .3,10.1 .4,15.7 .3-19.1 .4-6.0 .3,13.8 .4-8.1 .3,8.5 .4,3.2 .2,12.3M1161.9,381.5l.3-23.9 .3,11.2 .4-5.3 .3,11.2 .4-1.4 .3-13.6 .4,10.2 .3,.5 .4,7.0 .4-10.8 .3-3.4 .4,8.8 .3-1.7 .4,8.5 .3-18.4 .4,14.1 .3-3.2 .4-11.8 .3,13.0 .3,9.0M1169.0,381.5l.2-2.9 .4-4.2 .3-14.1 .4,10.4 .3,3.6 .4-7.2 .3-2.8 .4,15.2 .3-15.5 .4,4.0 .3,3.1 .2,10.4M1173.3,381.5l.1-8.0 .4-7.9 .3,12.1 .4-17.1 .3,15.0 .3,5.9M1175.3,381.5l.2-9.1 .4,2.5 .3-3.6 .4,8.2 .4-10.9 .3,12.9M1177.4,381.5l.3-3.9 .1,3.9M1178.6,381.5l.1-3.6 .2,3.6M1179.8,381.5l.3-2.7 .4-3.6 .3,.2 .4-1.5 .3,6.4 .1,1.2M1183.5,381.5l.1-10.0 .1,10.0M1184.3,381.5l.4-1.3 0,1.3M1185.1,381.5l.3-14.7 .3,14.7M1186.3,381.5l.1-8.6 .2,8.6M1189.4,381.5l.2-9.4 .1,9.4M1190.9,381.5l.1-1.1 0,1.1M1195.1,381.5l.1-3.4 .2,3.4" stroke="#00b25c"/>
<path d="M709.6,381.5l.2-39.5 .3-65.0 .4-41.2 .3-30.1 .4-31.8 .3-36.8 .4-27.0 .3-19.6 .4-17.5 .3-17.9 .4-14.1 .3-9.8 .4-5.3 .3-2.1 .4-1.8 .3-1.2 .4-1.5 .3-1.2 .4-.6 .3-.8 .4-1.2 .3-.7 .4-.7 .3-.7 .4-.6 .4-.3 .3-.2 .2-.3M719.6,12.0l.4,.2 .3,.1 .4,.2 .3,.9 .4-.2 .3,.6 .4,0 .3,.6 .4,.5 .3,.1 .4,.3 .3,.7 .4,.2 .3,.5 .4,.1 .3,.8 .4,.1 .3,.8 .4-.2 .3,.9 .4,.1 .3,.1 .4,.5 .3,.3 .4,.5 .3,.3 .4,.6 .3-.1 .4,.2 .4,.4 .3,.5 .4,.1 .3,.5 .4,.2 .3,.5 .4,.4 .3,.5 .4,.8 .3-.4 .4,.5 .3-.2 .4,1.2 .3-.3 .4,.7 .3,.1 .4,.5 .3,0 .4,.3 .3,.1 .4,.4 .3,.1 .4,.1 .3,.4 .4,.4 .3-.1 .4,.5 .3,.1 .4,.5 .3,.3 .4,.8 .4-.6 .3,.7 .4-.2 .3,.1 .4,1.0 .3-.2 .4,.5 .3,.2 .4,.8 .3,0 .4,.3 .3,0 .4,.2 .3,.8 .4,.5 .3-.3 .4,.9 .3,.3 .4,.3 .3,.3 .4,.3 .3,.6 .4,.2 .3-.1 .4,.4 .3,.6 .4,.4 .3,.5 .4,0 .3,.7 .4,.2 .3,.5 .4,.3 .4,.2 .3,.4 .4,.5 .3,.2 .4,.3 .3,.4 .4,.4 .3,.2 .4,.1 .3,.3 .4,.5 .3,.5 .4,.3 .3-.2 .4,.6 .3,.8 .4,.1 .3,.5 .4,.3 .3,.7 .4-.2 .3,.7 .4,.2 .3-.3 .4,.5 .3,.8 .4,.4 .3,.3 .4,.6 .3,.1 .4,.1 .3,.6 .4-.2 .4,.6 .3,.4 .4-.3 .3,.6 .4,.6 .3-.2 .4,.5 .3,.9 .4,0 .3,.5 .4,.7 .3-.7 .4,.5 .3,1.1 .4-.2 .3,1.0 .4-.5 .3,.7 .4,.4 .3-.2 .4,.7 .3,.4 .4,0 .3,.7 .4,0 .3,.6 .4,0 .3,.4 .4,.3 .3,.9 .4-.6 .3,1.0 .4-.3 .4,1.0 .3,.3 .4,.3 .3-.1 .4,.8 .3,0 .4,1.0 .3,0 .4,.1 .3,.4 .4,.9 .3-.4 .4,.8 .3-.7 .4,1.0 .3-.4 .4,.8 .3,.4 .4,.6 .3,.2 .4,.2 .3,1.1 .4-.7 .3,1.1 .4,0 .3,1.2 .4-.8 .3,.2 .4,.5 .3,.3 .4,.5 .3,.2 .4-.1 .4,.9 .3,0 .4,.2 .3,.7 .4,.2 .3,.3 .4,.5 .3-.7 .4,1.4 .3-.5 .4,.6 .3,1.4 .4-.5 .3,0 .4,.4 .3,1.0 .4-.2 .3,.9 .4,.3 .3,0 .4,.1 .3-.2 .4,.8 .3,0 .4,1.2 .3,.3 .4,.1 .3-.6 .4,1.5 .3,.4 .4-.2 .4-.2 .3,1.4 .4-.2 .3,.7 .4-.8 .3,.7 .4,.4 .3,.5 .4,.4 .3,.1 .4,.6 .3,.4 .4,.5 .3-.2 .4,.7 .3-.4 .4,1.5 .3-.8 .4,.4 .3,0 .4,.9 .3,.8 .4,.1 .3-.5 .4,.9 .3,.3 .4,.4 .3,.1 .4,.4 .3,.8 .4-.1 .3-.3 .4,.1 .4,1.0 .3,.4 .4-.4 .3,.9 .4,.8 .3-.2 .4,0 .3-.1 .4,1.2 .3-.2 .4,.7 .3-.3 .4,.7 .3,.3 .4,.9 .3,0 .4,.3 .3,1.8 .4-1.7 .3,.6 .4,.4 .3,.4 .4,.1 .3,.3 .4,1.0 .3-.4 .4,.3 .3,.4 .4,1.0 .3-.3 .4,.8 .3-.5 .4-.1 .4,.5 .3,.9 .4,.4 .3,.3 .4-.1 .3,.7 .4,.3 .3,1.2 .4-.5 .3,.3 .4,.2 .3-.5 .4,1.5 .3,.3 .4-.6 .3,1.0 .4-.1 .3,.2 .4,.3 .3,.7 .4-.5 .3,0 .4,1.6 .3-.1 .4-.3 .3,.9 .4,.7 .3,0 .4-.4 .3,1.3 .4-.4 .3,.3 .4,.8 .4-.3 .3,.2 .4,.1 .3,.4 .4,1.5 .3-.9 .4,.4 .3,.1 .4,1.3 .3-.6 .4,.5 .3,1.1 .4-.9 .3,1.3 .4,.5 .3-.5 .4,.8 .3-.2 .4,.6 .3,.1 .4,0 .3,.7 .4-.2 .3,.3 .4,1.3 .3-.7 .4,.4 .3,.6 .4-.2 .3,0 .4,.7 .3,1.6 .4-.8 .4,.6 .3,.4 .4-.1 .3,.7 .4-.8 .3,1.1 .4,.4 .3-.1 .4,.3 .3,0 .4,.6 .3,.7 .4,.2 .3,1.6 .4-.1 .3-1.1 .4,1.1 .3-1.0 .4,.3 .3,2.1 .4-.7 .3-1.2 .4,2.5 .3-.4 .4,.6 .3,.3 .4,.4 .3,.1 .4-.2 .3,1.3 .4-.6 .4,1.1 .3-.5 .4,.4 .3,1.0 .4-.3 .3,.9 .4,.3 .3-.9 .4,2.1 .3-1.2 .4,.2 .3,1.1 .4-.7 .3,.4 .4,1.7 .3-.9 .4,.3 .3,1.1 .4-.6 .3,.2 .4,1.2 .3,1.2 .4-1.3 .3,1.0 .4,1.0 .3-.6 .4,1.6 .3-1.1 .4-.9 .3,3.2 .4-1.9 .3,1.2 .4-.1 .4,.6 .3-.7 .4,.7 .3,.8 .4,.7 .3-.3 .4-.8 .3,1.9 .4-.9 .3,.4 .4,1.9 .3-1.9 .4,1.1 .3-1.3 .4,.7 .3,1.6 .4,.2 .3,.9 .4,.6 .3-1.3 .4,1.1 .3,.4 .4,.1 .3-.3 .4,.1 .3,.9 .4,.4 .3,.1 .4-1.1 .3,3.3 .4-.4 .3-.9 .4,.5 .4-.5 .3,.2 .4-.2 .3,2.4 .4-.8 .3,.9 .4-.6 .3,.9 .4-.3 .3,1.5 .4-.4 .3,.8 .4,.1 .3,.5 .4,.7 .3-1.4 .4,.9 .3-.3 .4,1.9 .3,1.0 .4-.7 .3-.1 .4-.5 .3,.1 .4,.2 .3,0 .4,.9 .3,.8 .4,1.0 .3-.9 .4,1.2 .3,.6 .4-.9 .4,.6 .3-.2 .4,1.5 .3-1.2 .4,.9 .3,.7 .4,.8 .3,.6 .4,.5 .3-2.0 .4,2.6 .3-1.4 .4,1.0 .3,.5 .4,.2 .3,0 .4-.6 .3,.6 .4,.8 .3,1.4 .4,.7 .3-2.9 .4,2.8 .3,.7 .4-2.0 .3,2.5 .4-1.6 .3,.1 .4,.9 .3-.4 .4,2.4 .3,.1 .4-.6 .4,.1 .3,.3 .4-.2 .3,1.4 .4,1.5 .3-2.0 .4,.9 .3-.7 .4-.8 .3,2.0 .4-.1 .3,1.6 .4-1.4 .3,.8 .4,.4 .3-.3 .4,2.1 .3-1.3 .4,.4 .3-.7 .4,3.4 .3-1.3 .4-1.9 .3,2.7 .4,.3 .3-1.8 .4-.3 .3,2.4 .4,1.1 .3,.2 .4,.1 .4,.7 .3,.2 .4-.6 .3,.4 .4-.2 .3,.7 .4,1.5 .3-1.6 .4,.8 .3,1.0 .4,0 .3-.3 .4,.5 .3,.5 .4-.6 .3,0 .4,1.6 .3,0 .4,1.4 .3-.7 .4-.3 .3-.2 .4,1.0 .3,.6 .4,.9 .3-.7 .4,1.6 .3-.9 .4,.3 .3,1.3 .4-1.0 .3,.8 .4-.6 .4,1.5 .3-.8 .4-.8 .3,1.7 .4-.4 .3,1.8 .4,0 .3,1.9 .4-1.6 .3,1.4 .4-1.1 .3,2.7 .4-1.1 .3-.7 .4-.1 .3,2.5 .4-1.1 .3-2.9 .4,2.2 .3,.9 .4,3.6 .3-1.8 .4-1.3 .3,.6 .4,0 .3-.3 .4,1.2 .3-.5 .4,3.2 .3-4.5 .4,3.4 .3,.7 .4-2.2 .4,1.3 .3-.1 .4,2.0 .3-.7 .4-.2 .3,2.4 .4-.8 .3,.3 .4,.3 .3,.8 .4,.9 .3-1.7 .4,.5 .3-.8 .4,1.7 .3,1.0 .4,1.2 .3-1.5 .4,.7 .3-2.4 .4-.1 .3,1.1 .4,3.2 .3,.9 .4-1.1 .3,1.1 .4-2.6 .3,1.9 .4,.9 .3-.2 .4-1.3 .3,3.0 .4-1.5 .4,2.5 .3-1.1 .4,.8 .3-.9 .4,.5 .3-1.0 .4,.9 .3,1.9 .4,1.2 .3-.4 .4-.2 .3,0 .4,.9 .3-2.0 .4,.4 .3,1.8 .4,.6 .3-.1 .4,.1 .3,.2 .4,2.4 .3-1.3 .4,2.2 .3-2.3 .4-.5 .3,2.5 .4-1.3 .3,1.3 .4,.4 .3-3.2 .4,1.6 .3,.8 .4,1.5 .4-.8 .3,1.0 .4-.6 .3,2.2 .4-.9 .3,.7 .4,1.7 .3-3.9 .4,1.4 .3,2.5 .4,1.2 .3-.8 .4,.5 .3-.1 .4,1.6 .3-.7 .4-1.0 .3-.2 .4,3.7 .3-2.6 .4,1.7 .3,.4 .4-.8 .3,.8 .4-1.7 .3,.2 .4,1.8 .3,.7 .4-3.2 .3,.2 .4,2.3 .4,1.1 .3-1.4 .4-.4 .3,3.2 .4-3.1 .3,3.1 .4-1.6 .3,2.7 .4-.6 .3,1.0 .4-.4 .3-1.2 .4,3.1 .3-.6 .4-1.0 .3,1.8 .4-3.5 .3,5.6 .4-5.8 .3,5.1 .4-2.3 .3-.7 .4,1.9 .3,3.4 .4-1.4 .3-.4 .4-.5 .3-.4 .4,0 .3-.2 .4,4.1 .3-2.8 .4,4.7 .4-2.9 .3,2.3 .4,1.5 .3-4.2 .4,1.8 .3-1.4 .4,4.6 .3-.4 .4-1.6 .3,1.2 .4-.9 .3,1.4 .4-.2 .3,1.7 .4-3.8 .3,2.9 .4,1.8 .3-3.0 .4,.6 .3,.8 .4,.2 .3,1.4 .4-.2 .3,4.0 .4-.9 .3-.3 .4-2.5 .3-1.3 .4,2.7 .3,.4 .4-2.1 .3,2.9 .4-1.6 .4,.7 .3,3.5 .4-2.8 .3,.5 .4,2.8 .3,0 .4,.7 .3-4.5 .4-1.0 .3,2.7 .4-1.3 .3,5.7 .4-4.8 .3-.8 .4,.9 .3,5.0 .4-3.5 .3,2.5 .4-2.0 .3,3.5 .4-.9 .3,1.3 .4-1.7 .3,1.4 .4-2.0 .3,.8 .4,1.0 .3,1.1 .4,.8 .3-.3 .4-1.2 .3,1.5 .4,0 .4,.9 .3,.3 .4,1.5 .3,2.8 .4-4.7 .3,.3 .4,3.3 .3-5.4 .4,6.4 .3-4.1 .4,1.7 .3,.1 .4-1.3 .3,.7 .4,2.1 .3,2.5 .4,.6 .3-2.7 .4-2.5 .3,1.7 .4,2.1 .3-.5 .4-.5 .3-1.8 .4,5.4 .3-2.8 .4,1.2 .3,2.5 .4,.8 .3-4.6 .4,2.2 .3,1.5 .4-.4 .4-1.6 .3,2.1 .4-2.9 .3,4.2 .4,1.5 .3-1.2 .4,2.1 .3-1.1 .4-3.1 .3-.8 .4,2.6 .3,1.2 .4,2.8 .3,.5 .4-2.9 .3,.7 .4,2.0 .3,0 .4-4.2 .3,1.5 .4,2.4 .3-.2 .4-2.1 .3,2.4 .4,.5 .3,4.6 .4,.6 .3,.9 .4,1.1 .3-5.2 .4-.6 .3,3.2 .4-2.9 .4,.3 .3,1.5 .4,3.7 .3-6.7 .4,.4 .3,4.9 .4-5.7 .3,4.7 .4,2.3 .3-.6 .4,4.0 .3-3.6 .4,3.5 .3-6.6 .4,2.2 .3,4.7 .4-4.8 .3,6.2 .4-4.6 .3-.5 .4,1.3 .3,3.3 .4-2.3 .3,.4 .4-.3 .3-3.3 .4-.2 .3,.5 .4,5.9 .3,.6 .4-1.8 .4-.8 .3,7.1 .4-3.8 .3-5.9 .4,8.2 .3-1.1 .4,.2 .3-3.0 .4,1.8 .3,1.0 .4,3.6 .3-5.6 .4,1.9 .3,2.1 .4-1.6 .3-1.8 .4,6.6 .3,.5 .4-1.3 .3-.1 .4,7.0 .3-7.3 .4-4.4 .3,4.2 .4-3.4 .3,11.8 .4-8.2 .3-3.8 .4-.2 .3,6.0 .4,1.2 .3-3.2 .4,5.0 .4-2.3 .3,4.2 .4-5.0 .3,.5 .4-4.2 .3,3.7 .4,3.3 .3-1.4 .4,3.9 .3-3.7 .4,1.0 .3-1.6 .4-1.2 .3,9.3 .4-7.0 .3-1.0 .4,6.2 .3-8.9 .4,8.0 .3-9.0 .4,4.9 .3-.2 .4,2.3 .3-1.9 .4,6.6 .3-.5 .4,4.2 .3-7.9 .4,4.2 .3-4.3 .4,.7 .3,6.6 .4-6.3 .4,1.6 .3,.5 .4-.6 .3,1.8 .4,.2 .3-3.0 .4,6.9 .3,1.0 .4-1.3 .3-5.5 .4,4.6 .3-6.7 .4,17.4 .3-8.5 .4-.7 .3-2.1 .4-3.1 .3,5.2 .4,3.2 .3-6.0 .4-2.0 .3,14.7 .4-11.1 .3,1.2 .4,4.2 .3-1.0 .4-2.4 .3,1.2 .4,1.2 .3,3.7 .4-5.0 .3,3.7 .4-2.4 .4,2.6 .3-2.5 .4-1.6 .3,2.0 .4-1.1 .3,7.7 .4-6.5 .3,.8 .4,3.6 .3-1.4 .4,10.9 .3-11.2 .4,2.1 .3,7.7 .4-10.5 .3,4.5 .4-3.2 .3,2.2 .4-2.4 .3,1.8 .4,1.6 .3-2.6 .4-.9 .3,12.5 .4-9.0 .3,2.6 .4,2.4 .3-8.9 .4,1.5 .3,7.9 .4,.7 .3-7.3 .4,5.8 .4-.9 .3,7.3 .4-7.5 .3-4.5 .4,6.4 .3-1.1 .4-6.7 .3,3.4 .4-1.7 .3,3.2 .4-1.9 .3,12.0 .4-3.5 .3,4.0 .4-15.1 .3,7.9 .4,1.5 .3,2.9 .4,1.4 .3,8.9 .4-21.1 .3,9.1 .4-.3 .3,6.7 .4-5.7 .3-1.5 .4,2.2 .3-2.6 .4,6.4 .3-4.7 .4-2.0 .4,1.6 .3,1.0 .4,2.3 .3,4.3 .4-6.5 .3,4.3 .4,2.8 .3-7.1 .4,10.9 .3-4.7 .4-5.5 .3-.4 .4,5.9 .3-1.6 .4-1.8 .3,2.9 .4,3.5 .3-5.2 .4,1.5 .3,.5 .4-4.0 .3,3.7 .4,3.8 .3-2.6 .4-7.2 .3,11.9 .4-1.9 .3,2.9 .4-5.2 .3,8.1 .4-8.0 .3-1.1 .4,7.5 .4,.7 .3,3.6 .4-7.4 .3,6.0 .4-2.2 .3-.7 .4,1.6 .3-7.0 .4-3.0 .3,18.9 .4-7.1 .3-5.0 .4,6.9 .3-2.5 .4-3.4 .3-5.1 .4,1.2 .3,7.2 .4-1.8 .3,2.8 .4-.7 .3,5.6 .4,3.8 .3-7.5 .4-6.4 .3,1.3 .4,14.5 .3-9.2 .4,2.6 .3-4.5 .4,7.7 .3-10.2 .4,5.9 .4-3.7 .3-1.2 .4,15.9 .3-9.8 .4-8.3 .3,7.6 .4-4.9 .3,3.4 .4,5.2 .3-4.0 .4-3.6 .3-.9 .4-.4 .3,13.9 .4-10.4 .3,12.7 .4-7.1 .3,.7 .4-4.2 .3,1.9 .4-4.5 .3,10.3 .4-7.7 .3,2.6 .4,2.5 .3,7.5 .4-10.1 .3,1.7 .4-2.3 .3,4.8 .4,1.6 .3-3.4 .4-.1 .4-1.0 .3-5.9 .4,14.0 .3-14.0 .4,31.8 .3-26.0 .4,10.7 .3-15.5 .4,16.6 .3-11.2 .4,12.4 .3,1.3 .4-11.5 .3-.1 .4,9.6 .3-16.9 .4,15.1 .3-10.4 .4,15.6 .3-.1 .4-6.5 .3,7.5 .4-9.1 .3,18.3 .4-16.1 .3,5.0 .4,3.1 .3-7.4 .4,3.0 .3,1.8 .4-7.5 .3,3.3 .4-.2 .4-5.3 .3,8.7 .4-5.3 .3,8.2 .4-6.3 .3,.8 .4,7.3 .3,7.5 .4-1.5 .3-2.3 .4-9.8 .3,4.7 .4,1.4 .3-4.8 .4-1.3 .3-3.6 .4,13.0 .3-7.4 .4-.7 .3,11.7 .4-7.4 .3,7.8 .4-4.8 .3-4.1 .4,16.3 .3-6.5 .4-.2 .3-6.2 .4,6.3 .3-7.7 .4,9.3 .4-2.4 .3-7.5 .4,2.2 .3,1.4 .4,1.6 .3-6.7 .4-2.0 .3,12.1 .4,3.1 .3,2.9 .4-19.2 .3,18.6 .2,2.2M1158.0,381.5l.3-10.5 .4-5.0 .3,15.5M1159.1,381.5l.3-6.8 .2,6.8M1160.0,381.5l.1-1.6 .3-16.2 .4,10.1 .3,3.5 .4-2.2 .3-1.3 .4,3.2 .2,4.5M1163.0,381.5l.2-18.0 .4,18.0M1163.6,381.5l.3-12.4 .3,12.4M1164.4,381.5l.2-12.5 .4,4.4 .4,7.2 .3-15.3 .3,16.2M1168.2,381.5l.3-11.4 .2,11.4M1170.1,381.5l.2-6.1 .3,2.4 .4,2.1 .2,1.6M1171.3,381.5l.4-14.2 .2,14.2M1175.8,381.5l.1-4.1 .2,4.1M1176.4,381.5l.2-7.1 .1,7.1M1182.1,381.5l.1-2.2 .2,2.2" stroke="#00ab2c"/>
<path d="M710.0,381.5l.1-11.4 .4-75.8 .3-38.9 .4-36.2 .3-22.4 .4-32.2 .3-31.2 .4-25.6 .3-18.0 .4-18.2 .3-17.4 .4-14.7 .3-9.7 .4-4.3 .3-2.2 .4-1.6 .3-1.5 .4-.7 .3-1.3 .4-.6 .3-1.3 .4-.7 .3-1.1 .4-.9 .4-.9 .3,0 .4-.5 .3,0 .2-.2M720.1,12.0l.2,.6 .4,.1 .3,.7 .4,.6 .3,.1 .4,.6 .3,.1 .4,.4 .3,.3 .4,.9 .3-.2 .4,.6 .3,1.0 .4-.5 .3,.6 .4,.9 .3,.2 .4,.7 .3,.2 .4,.3 .3,.3 .4,.8 .3,.2 .4,.6 .3,.1 .4,.4 .3,.5 .4,.2 .4,.5 .3,.5 .4,.2 .3,1.0 .4,.1 .3,.8 .4,0 .3,.5 .4,.1 .3,.7 .4,.5 .3,.2 .4,.5 .3,.2 .4,.7 .3,.6 .4,.4 .3-.2 .4,1.0 .3,.2 .4,.5 .3-.1 .4,.8 .3,0 .4,.8 .3,.2 .4,.3 .3,.3 .4,1.0 .3,.2 .4,.3 .4,.8 .3-.2 .4,.5 .3,.3 .4,.9 .3,0 .4,.4 .3,.2 .4,.8 .3,.1 .4,0 .3,1.1 .4,.4 .3,.3 .4,.7 .3,.1 .4-.1 .3,1.1 .4,.2 .3,0 .4,.6 .3,.4 .4,.6 .3,.3 .4,.4 .3,.2 .4,.6 .3,.1 .4,1.2 .3-.4 .4,.8 .3,.2 .4,.5 .4,.1 .3,.6 .4,.2 .3,.8 .4,.1 .3,.1 .4,.4 .3,.8 .4,.3 .3,.5 .4,.3 .3,.4 .4,0 .3,.6 .4,.1 .3,.4 .4,1.2 .3-.1 .4,.6 .3,.8 .4,.2 .3,.2 .4-.3 .3,.9 .4,.5 .3,.3 .4,.6 .3,.1 .4,.5 .3,.8 .4,.1 .3-.9 .4,1.3 .4,.6 .3,.1 .4,.9 .3,.1 .4,.1 .3,1.2 .4,.1 .3,.3 .4,.3 .3,.4 .4,.2 .3,.1 .4,.6 .3,.2 .4,.3 .3,1.0 .4,0 .3,.6 .4,.1 .3,.7 .4,.3 .3-.3 .4,1.0 .3,.9 .4-.2 .3,.3 .4,.7 .3,.1 .4,.1 .3,.9 .4,.2 .3,.6 .4,0 .4,.5 .3,.7 .4,.1 .3-.3 .4,1.6 .3,.3 .4-.3 .3,1.0 .4-.8 .3,1.6 .4,.3 .3,.1 .4-.3 .3,.5 .4,.5 .3,.4 .4,0 .3,1.6 .4-.5 .3,0 .4,1.3 .3-.2 .4,.1 .3,.3 .4,.9 .3-.4 .4,.9 .3,.1 .4,1.2 .3,.3 .4,.3 .3-.6 .4,2.0 .4,.2 .3-.7 .4,.6 .3,1.6 .4-.7 .3,.4 .4-.3 .3,1.6 .4-.2 .3-.3 .4,.5 .3,1.1 .4,.1 .3,.8 .4-.8 .3,1.1 .4-.3 .3,.5 .4,1.1 .3,0 .4,.1 .3,.4 .4-.1 .3,.5 .4,.7 .3,.2 .4,1.0 .3,.3 .4-.2 .3,.5 .4,1.0 .4-.1 .3,.6 .4,.3 .3-.5 .4,1.4 .3,.2 .4-.2 .3,.6 .4,.3 .3,1.1 .4-.3 .3,.5 .4,.5 .3,.3 .4,.2 .3-.2 .4-.1 .3,1.2 .4-.3 .3,1.0 .4,1.1 .3-.4 .4-.2 .3,.2 .4,1.5 .3-1.2 .4,1.8 .3,.3 .4,.3 .3-.6 .4,.8 .3,.1 .4,1.9 .4-.7 .3,.4 .4-.1 .3,.9 .4-.4 .3,1.2 .4,.7 .3,.5 .4-1.1 .3,.6 .4,1.1 .3-.6 .4,1.0 .3,.3 .4,1.0 .3-.1 .4,0 .3,.3 .4,.7 .3-.4 .4,.1 .3,1.5 .4-.3 .3,1.3 .4-.7 .3,1.1 .4-.1 .3,.2 .4,.5 .3-.3 .4,1.3 .3,.2 .4-.1 .4,.5 .3,.2 .4,.6 .3,.6 .4-.4 .3,.6 .4-.1 .3,.1 .4,1.3 .3,.5 .4,.2 .3,.4 .4,1.1 .3-1.7 .4,1.0 .3-.7 .4,2.0 .3-.4 .4,.5 .3,.6 .4-.3 .3,.9 .4,.4 .3,.2 .4,1.7 .3-.6 .4,.4 .3-1.1 .4,1.0 .3,.2 .4,.4 .3,.8 .4-.8 .4,1.5 .3,1.0 .4-.9 .3,0 .4,1.0 .3,.2 .4-.1 .3,0 .4,.9 .3-.3 .4,1.1 .3-.7 .4,2.4 .3-1.1 .4,.7 .3,.5 .4,1.2 .3-1.2 .4,1.1 .3,.9 .4,0 .3,.1 .4,.1 .3,1.0 .4,.3 .3-.5 .4,.6 .3-1.0 .4,1.9 .3-.4 .4-.4 .3,1.6 .4-.4 .4,.7 .3,.5 .4-.7 .3,2.0 .4,.1 .3,1.1 .4-.8 .3-.4 .4,1.1 .3-.4 .4,1.4 .3-.9 .4,1.1 .3,.6 .4-1.1 .3,1.4 .4-.1 .3,.6 .4,0 .3,.7 .4,1.2 .3-.7 .4,.2 .3,.3 .4,.8 .3-1.1 .4,2.1 .3-.3 .4,.2 .3,1.3 .4,.4 .4-1.1 .3,.4 .4,.6 .3,1.6 .4-.6 .3-.1 .4,0 .3-.1 .4,.9 .3-.1 .4-.2 .3,3.3 .4-2.2 .3,1.4 .4-.4 .3,.5 .4,1.3 .3,.2 .4-.7 .3,.8 .4-.4 .3,1.1 .4-1.6 .3,2.2 .4-1.5 .3,2.5 .4-.8 .3-.1 .4,2.2 .3,.1 .4-.8 .3-.3 .4,.2 .4,.9 .3-.1 .4,2.1 .3-.3 .4-1.2 .3,1.9 .4,0 .3,1.6 .4-1.0 .3,1.5 .4-1.3 .3-.6 .4,1.2 .3,.4 .4,.8 .3-.5 .4,1.7 .3-.2 .4-1.9 .3,3.2 .4-.3 .3,1.0 .4-1.9 .3,1.5 .4,1.2 .3,.3 .4-1.7 .3,.6 .4,.2 .3,1.1 .4-.6 .3,0 .4,.8 .4,2.3 .3,.7 .4-.2 .3-1.2 .4,1.8 .3,0 .4-.7 .3,1.1 .4,.7 .3-1.7 .4,.7 .3,0 .4,.2 .3-.2 .4,1.6 .3,.5 .4,1.7 .3-1.1 .4,.6 .3-1.2 .4,.7 .3-.5 .4,.7 .3,.2 .4,.9 .3,.6 .4,.8 .3,0 .4,1.2 .3-1.0 .4,.7 .3,2.2 .4,1.0 .4-1.7 .3,.1 .4,.1 .3-1.2 .4,2.1 .3,.9 .4-1.3 .3-.3 .4-.3 .3,2.9 .4-.5 .3,.5 .4-1.6 .3,1.0 .4,1.0 .3-.4 .4,1.4 .3,.1 .4,.1 .3,.8 .4,0 .3-.3 .4,.4 .3-.9 .4,.9 .3,1.2 .4,2.5 .3-.5 .4-.7 .3,.2 .4,1.2 .3-.7 .4-.2 .4,1.1 .3-.2 .4,.2 .3,.9 .4,.5 .3-.5 .4-.1 .3,1.7 .4,1.4 .3-.9 .4-1.3 .3,2.6 .4-2.5 .3,1.9 .4-.5 .3,1.3 .4-1.2 .3,.9 .4-.1 .3,2.9 .4-2.7 .3,2.9 .4-1.2 .3-.6 .4,1.0 .3-.4 .4,.6 .3,.4 .4,1.3 .3-1.8 .4,.2 .4,2.1 .3,.7 .4-1.0 .3,1.4 .4-.7 .3-.5 .4,.5 .3-.7 .4,1.5 .3,2.0 .4,0 .3-1.3 .4-1.3 .3,2.9 .4,.9 .3-2.4 .4,2.1 .3-.7 .4-.2 .3,2.8 .4-.5 .3,.5 .4-1.0 .3,.1 .4,1.7 .3-1.0 .4,3.1 .3-2.3 .4,.3 .3,.7 .4,2.1 .3-1.4 .4,1.4 .4-2.7 .3,2.3 .4,.2 .3,.2 .4-.5 .3,.8 .4-.3 .3,2.1 .4-2.2 .3,2.2 .4-1.2 .3,.9 .4-.8 .3,1.7 .4,2.1 .3-.1 .4-1.0 .3-1.7 .4,2.6 .3-.4 .4-1.2 .3,2.6 .4-.9 .3,.3 .4,1.5 .3-.8 .4-.8 .3,.3 .4,2.0 .3-3.8 .4,3.5 .3,1.1 .4,.8 .4,.7 .3-2.1 .4,5.3 .3-3.5 .4,1.9 .3-1.3 .4,.1 .3,2.0 .4-.2 .3-2.8 .4,2.8 .3-.5 .4,.7 .3-1.3 .4-.2 .3,.6 .4,.8 .3,.3 .4,2.7 .3-3.2 .4,2.8 .3,.8 .4-.5 .3,.9 .4-1.4 .3-.2 .4-.5 .3,2.2 .4,1.0 .3-.2 .4,1.6 .3-.4 .4-3.6 .4,4.2 .3-.2 .4-1.3 .3,.8 .4-.4 .3,2.7 .4,.5 .3-3.2 .4,3.2 .3-.6 .4-.2 .3,3.4 .4-2.3 .3,1.0 .4-1.5 .3,1.5 .4,3.4 .3-4.5 .4,5.5 .3-3.1 .4,.7 .3,.1 .4-.6 .3-1.2 .4,3.1 .3-.2 .4-1.8 .3,.6 .4,0 .3,.8 .4,1.2 .3,.7 .4,.2 .4-1.9 .3-.6 .4-.5 .3,5.0 .4-1.0 .3-.1 .4,.5 .3,1.9 .4-5.1 .3,1.3 .4,3.0 .3,.7 .4-.4 .3,2.3 .4-1.2 .3-1.6 .4-1.2 .3,1.5 .4-.4 .3,4.2 .4,4.3 .3-7.8 .4,2.2 .3,.7 .4-2.6 .3,4.7 .4,.3 .3-.1 .4-3.8 .3,1.4 .4,5.1 .4-5.8 .3,3.1 .4-.5 .3,2.4 .4-4.3 .3,2.7 .4-1.2 .3,4.3 .4-2.8 .3,1.4 .4,.8 .3,1.4 .4,0 .3,1.2 .4-.7 .3-.9 .4-.8 .3,4.2 .4-.7 .3-.5 .4,2.2 .3-2.3 .4,.2 .3,.1 .4-.8 .3-.7 .4,.5 .3,1.2 .4-.3 .3,2.9 .4,.6 .3-2.8 .4,.4 .4-2.7 .3,4.7 .4,1.8 .3-2.2 .4,1.7 .3,1.1 .4-4.1 .3-.8 .4,3.2 .3,2.3 .4-1.5 .3,.8 .4,3.0 .3-4.2 .4,1.2 .3-1.5 .4,3.9 .3-.8 .4,.4 .3,3.7 .4-8.3 .3,9.6 .4-1.8 .3-1.4 .4,2.9 .3-3.9 .4,2.1 .3-.9 .4-.1 .3,.6 .4,.2 .3,.8 .4-.9 .4-.6 .3,2.5 .4,.7 .3,.2 .4-1.3 .3,1.7 .4,.3 .3,2.8 .4-7.1 .3,7.0 .4-6.0 .3,2.1 .4-.2 .3,1.8 .4-.2 .3,.7 .4-.4 .3-.3 .4-1.2 .3,5.9 .4-3.1 .3-2.2 .4,.7 .3,5.7 .4-2.8 .3,.3 .4,.3 .3,6.3 .4-7.1 .3,6.0 .4-8.4 .3,3.6 .4,2.0 .4-1.4 .3,1.3 .4,1.9 .3-.8 .4-.8 .3,3.1 .4-3.4 .3-.7 .4,.4 .3,0 .4,0 .3,1.6 .4-1.2 .3,3.2 .4-.5 .3-2.2 .4-.9 .3,5.7 .4,3.1 .3-8.5 .4,2.5 .3-1.3 .4,2.4 .3,1.9 .4,2.5 .3,1.1 .4-5.8 .3,1.4 .4,1.9 .3,4.0 .4-1.3 .3,.5 .4-.6 .4,7.5 .3-8.3 .4-3.1 .3,5.6 .4-1.2 .3-.4 .4,3.6 .3-3.5 .4,3.6 .3-.8 .4-1.6 .3,1.1 .4-.2 .3,3.1 .4-4.2 .3,5.2 .4-5.0 .3,3.8 .4,2.3 .3-2.8 .4,3.0 .3-1.3 .4-.8 .3-2.3 .4,.3 .3,1.1 .4,2.3 .3,3.9 .4-3.5 .3,.5 .4-.2 .3,1.4 .4,.2 .4-3.5 .3,6.5 .4-3.7 .3-3.3 .4,6.1 .3,.9 .4-2.0 .3,.6 .4-1.5 .3-2.8 .4,4.4 .3-1.7 .4,3.6 .3,0 .4-2.1 .3,3.2 .4-5.2 .3,4.9 .4-.5 .3,3.0 .4-1.6 .3,2.0 .4-1.3 .3,4.4 .4-5.4 .3-4.8 .4,11.4 .3-10.9 .4,5.7 .3-2.8 .4,6.2 .4-8.9 .3,9.6 .4-2.9 .3-4.7 .4,9.1 .3,4.0 .4-7.4 .3,2.5 .4,1.0 .3,.1 .4,2.1 .3-9.0 .4,.8 .3,8.7 .4-4.0 .3,1.4 .4-4.7 .3,6.6 .4-7.7 .3,5.3 .4,3.0 .3-2.1 .4,1.9 .3-8.8 .4,6.9 .3,2.4 .4-1.7 .3-4.2 .4,8.4 .3,2.9 .4-10.1 .3,2.5 .4,3.9 .4-1.0 .3-3.7 .4,14.3 .3-14.4 .4,5.1 .3-2.6 .4,2.7 .3-9.8 .4,12.4 .3-5.7 .4,14.2 .3-10.1 .4-2.3 .3,8.8 .4,2.3 .3-8.0 .4-2.9 .3-.3 .4,6.9 .3-3.5 .4,6.9 .3-11.2 .4,8.5 .3-6.5 .4,5.8 .3,.5 .4-6.7 .3,9.4 .4-7.8 .3,6.3 .4,2.3 .3,.1 .4-7.1 .4,4.7 .3,1.3 .4,5.0 .3-10.2 .4,.7 .3,2.9 .4-1.4 .3,17.6 .4-12.0 .3-2.5 .4,.5 .3,2.9 .4-2.9 .3,4.1 .4,0 .3,2.8 .4-5.5 .3,3.8 .4-.7 .3-7.1 .4,5.7 .3,.3 .4,6.7 .3-4.2 .4-5.8 .3,2.0 .4,2.2 .3,1.2 .4-.7 .3-1.1 .4,3.2 .3,10.5 .4-19.0 .4,3.4 .3,5.5 .4-6.1 .3,11.8 .4-10.8 .3,4.6 .4-2.6 .3,5.5 .4-1.9 .3-1.6 .4-1.6 .3,2.4 .4,.6 .3,4.8 .4-9.4 .3,6.3 .4,2.2 .3,.7 .4,4.4 .3-1.9 .4,4.1 .3-7.9 .4,1.5 .3-1.0 .4,7.1 .3-3.7 .4,1.3 .3-7.0 .4,11.8 .3,.4 .4-12.7 .3,4.2 .4,9.6 .4-13.3 .3-.4 .4,1.7 .3,15.9 .4-10.9 .3,5.0 .4-2.6 .3,7.0 .4-15.4 .3,11.3 .4-4.5 .3-2.1 .4,1.1 .3,1.2 .4,4.1 .3-2.7 .4,2.4 .3,11.5 .4-16.7 .3,8.0 .4-.2 .3-.3 .4,5.5 .3-.7 .4,3.6 .3-11.7 .4-3.0 .3,5.4 .4,6.7 .3-12.0 .4,8.1 .4,7.3 .3,2.1 .4-11.2 .3-5.7 .4,9.2 .3,1.6 .4-1.7 .3,3.4 .4-1.4 .3-3.9 .4,5.4 .3-8.2 .4,10.2 .3-8.6 .4,2.0 .3,4.1 .4-.2 .3,.4 .4-9.7 .3,13.0 .4-10.2 .3,1.1 .4,7.3 .3-9.7 .4,23.0 .3-15.7 .4,.9 .3,.8 .4-4.0 .3,6.9 .4-1.0 .3-6.7 .4,6.9 .4,5.7 .3-8.9 .4,3.8 .3,3.0 .4-6.0 .3,7.8 .4,1.6 .3-4.1 .4-.1 .3-1.1 .4,7.9 .3-16.1 .4,5.5 .3,3.2 .4-.2 .3,18.4 .4-21.7 .3,11.7 .4-8.9 .3,10.6 .4-12.7 .3,9.0 .4-1.7 .3-9.4 .4,3.1 .3,14.7 .4-4.3 .3-5.2 .4,2.8 .3-5.8 .4,9.2 .3,8.7 .4-6.6 .4-4.5 .3-4.1 .4-.8 .3-2.5 .4,5.9 .3,3.0 .4-5.3 .3,5.2 .4,2.6 .3,.3 .4-8.3 .3-2.8 .4,1.2 .3,19.1 .4-17.4 .3,14.4 .4-5.1 .3-5.6 .4,13.2 .3-.5 .4-3.2 .3-14.7 .4,3.6 .3,13.0 .4-6.8 .3,.3 .4-.9 .3,7.2 .4-13.4 .3,11.6 .4-7.5 .3,18.0 .4-14.8 .4,1.8 .3-7.1 .3,24.4M1132.0,381.5l.3-19.1 .4-1.4 .3,7.3 .4-9.8 .3-4.1 .4,7.2 .3,.7 .4-3.0 .3,5.9 .4-4.7 .3,4.2 .4,9.2 .3,3.2 .4-15.3 .3,3.9 .4,9.2 .3-4.8 .4-9.0 .3,20.4M1138.8,381.5l.2-3.6 .3-11.3 .4-.6 .3,15.0 .4-1.2 .3-8.6 .4-7.8 .3,9.5 .2,8.6M1142.0,381.5l.1-15.1 .4,7.5 .4,3.6 .2,4.0M1143.2,381.5l.4-15.1 .3,6.5 .4-.7 .3,.6 .4-.3 .3-2.5 .4-5.4 .3,16.9M1146.2,381.5l.2-4.2 .3,3.3 .4-14.8 .3,14.0 .1,1.7M1148.0,381.5l.1-3.2 .2,3.2M1150.1,381.5l.1-15.2 .4,14.7 0,.5M1151.1,381.5l.2-5.7 .3-4.6 .2,10.3M1152.6,381.5l.1-2.1 .1,2.1M1153.3,381.5l.1-2.8 .1,2.8M1154.7,381.5l.1-1.6 .2,1.6M1156.4,381.5l.2-12.1 .2,12.1M1157.9,381.5l.1-.3 0,.3M1161.0,381.5l.1-3.4 .1,3.4M1166.3,381.5l.1-7.4 .1,7.4M1169.5,381.5l.1-6.6 .1,6.6M1177.3,381.5l0-.7 0,.7M1178.4,381.5l0-.3 0,.3" stroke="#ffa000"/>
<path d="M710.3,381.5l.2-34.7 .3-51.6 .4-42.3 .3-33.1 .4-19.5 .3-31.3 .4-31.0 .3-25.3 .4-18.8 .3-16.4 .4-19.2 .3-15.7 .4-10.6 .3-5.9 .4-2.7 .3-1.6 .4-1.0 .3-.7 .4-1.2 .3-1.7 .4-1.0 .3-1.1 .4-.4 .4-1.0 .3-1.1 .4-.3 .3-.3M719.6,12.0l.4,.2 .3,.2 .4,.7 .3,.6 .4,.3 .3,.5 .4,.6 .3,.6 .4,.5 .3,.9 .4,.6 .3,.2 .4,.4 .3,.1 .4,.8 .3,.9 .4,.4 .3,.7 .4,.2 .3,.5 .4,.5 .3,.5 .4,.3 .3,.6 .4,.9 .3,.1 .4,.9 .3,.2 .4,.6 .4,.2 .3,.9 .4,.5 .3,.5 .4,.3 .3,.6 .4,.7 .3,.2 .4,.2 .3,.6 .4,.6 .3,1.0 .4,.4 .3,.4 .4,1.0 .3-.4 .4,1.3 .3,.1 .4,.9 .3,.1 .4,.4 .3,.5 .4,.9 .3,.4 .4,.1 .3,.8 .4,.4 .3,.3 .4,1.4 .3-.2 .4,.2 .4,.4 .3,.8 .4,.8 .3,.1 .4,.2 .3,1.2 .4,.5 .3,.3 .4,.6 .3,.9 .4,.6 .3,.2 .4,.3 .3,.2 .4,.8 .3,.2 .4,.2 .3,0 .4,1.1 .3,1.0 .4-.1 .3,.8 .4,.4 .3,.3 .4,.5 .3,1.1 .4,.4 .3,.1 .4,.4 .3,0 .4,.9 .3,.8 .4,.5 .4,.6 .3,.6 .4,.5 .3,.2 .4,.3 .3,.8 .4,.2 .3,.5 .4,.5 .3,.5 .4,.3 .3,.5 .4,1.4 .3-.5 .4,.5 .3,.7 .4,.2 .3,.8 .4,.2 .3,.8 .4-.1 .3,.6 .4,1.1 .3,.2 .4-.1 .3,.6 .4,.6 .3,.9 .4,.3 .3,.1 .4,.4 .3,.6 .4,.7 .4,.3 .3,.5 .4,.7 .3,.5 .4,.3 .3,.7 .4-.2 .3,.3 .4,.4 .3,1.1 .4,.4 .3,.1 .4,.7 .3,.4 .4,.4 .3,1.0 .4-.7 .3,1.5 .4,.5 .3-.5 .4,1.2 .3-.4 .4,.7 .3,.5 .4,.7 .3,.9 .4,.3 .3-.1 .4,.6 .3,.8 .4,.5 .3,.3 .4,.1 .4,.2 .3,.3 .4,.9 .3-.3 .4,.7 .3,.2 .4,1.4 .3-.2 .4,.2 .3,1.6 .4-.7 .3,.7 .4,.2 .3,.7 .4,0 .3,1.1 .4,.5 .3-.1 .4,.4 .3,1.3 .4-.6 .3,.4 .4,.5 .3,1.2 .4-.5 .3,.8 .4,.2 .3,.8 .4,.6 .3,.6 .4,.4 .3-.3 .4,1.2 .4,.3 .3,0 .4,.7 .3,1.2 .4-.2 .3,.3 .4-.5 .3,.8 .4,1.2 .3,.5 .4,.1 .3,0 .4,.9 .3-.1 .4,1.3 .3-.5 .4,0 .3,2.3 .4-.9 .3,.3 .4,.3 .3,.6 .4,.4 .3,.3 .4,.5 .3,.4 .4-.4 .3,.7 .4,.4 .3,1.2 .4,.4 .4-.4 .3,1.5 .4-.7 .3,1.6 .4-1.4 .3,.8 .4,1.4 .3,.3 .4,1.3 .3-.7 .4-.3 .3,.7 .4,.9 .3-.9 .4,1.2 .3,.5 .4,.7 .3,0 .4-.8 .3,1.6 .4,1.6 .3-.7 .4-.6 .3,.8 .4,1.4 .3-.1 .4,1.4 .3-.8 .4,1.2 .3,.2 .4,.4 .3,.5 .4-1.0 .4,.5 .3,1.3 .4,.2 .3-.5 .4,1.5 .3,.5 .4,.6 .3-1.1 .4,1.2 .3,.5 .4,.6 .3,.7 .4-.8 .3,1.4 .4,.3 .3,1.1 .4,0 .3,0 .4,.3 .3,1.0 .4-.1 .3,0 .4,2.0 .3-1.7 .4,.9 .3,1.1 .4-.4 .3,0 .4,.6 .3,.3 .4,.4 .3,0 .4,1.6 .4-.1 .3-.3 .4,.6 .3,1.1 .4-.2 .3,.7 .4-.1 .3,1.5 .4,.3 .3,.2 .4-.5 .3-1.4 .4,1.4 .3,.2 .4,1.1 .3-.7 .4,1.2 .3,.6 .4-.4 .3,2.0 .4,1.0 .3-.4 .4-1.4 .3,.7 .4,.8 .3,.7 .4,.3 .3-.1 .4,1.3 .3-.8 .4,1.6 .3-1.4 .4,1.6 .4,.8 .3-.1 .4,.8 .3-.3 .4,1.6 .3-.6 .4-.1 .3,.1 .4,1.0 .3-.9 .4,2.5 .3-.7 .4,.5 .3,0 .4,.5 .3-.9 .4,1.4 .3,1.1 .4-2.3 .3,2.2 .4,.5 .3-.5 .4,1.5 .3,0 .4-.5 .3,2.0 .4-.3 .3-.7 .4-.4 .3,1.8 .4,.4 .3-.6 .4,2.4 .4-.3 .3,.4 .4,1.4 .3,1.0 .4-1.7 .3-.8 .4,.6 .3-.2 .4,3.7 .3-1.9 .4-.9 .3,2.2 .4,.7 .3-1.1 .4,.6 .3-.2 .4,.9 .3-.7 .4,.8 .3,.7 .4,.8 .3-.6 .4,1.5 .3-1.1 .4,.2 .3,.5 .4,2.3 .3-1.2 .4,.4 .3-.2 .4,2.5 .4-.5 .3-.2 .4-.9 .3,2.1 .4-1.1 .3,1.0 .4-1.3 .3,1.8 .4,2.1 .3-.9 .4-.2 .3-.6 .4,.9 .3,1.2 .4,1.2 .3-.9 .4,.5 .3-1.1 .4,.7 .3,2.6 .4,1.2 .3-1.6 .4-.3 .3,1.5 .4-.1 .3-1.3 .4,.7 .3,2.7 .4-1.7 .3,.5 .4,.7 .3-.5 .4,.3 .4-1.5 .3,2.5 .4,1.2 .3,.1 .4-.9 .3-.9 .4,1.7 .3,.3 .4,.6 .3,1.0 .4-.2 .3,1.7 .4-1.7 .3,.5 .4,.6 .3,1.4 .4-.3 .3,.6 .4-.6 .3,1.0 .4-.4 .3-.3 .4,0 .3,2.7 .4-.5 .3,1.2 .4-2.2 .3,2.5 .4-2.0 .3,2.3 .4-1.4 .3,2.0 .4,0 .4-.1 .3,.3 .4,.6 .3-.6 .4-.3 .3,.7 .4,1.8 .3,1.8 .4-1.9 .3,3.7 .4-3.7 .3,.3 .4,2.4 .3-1.7 .4,1.7 .3-1.9 .4,2.6 .3,.4 .4,.1 .3-.7 .4,1.7 .3-3.4 .4,3.3 .3-2.2 .4,2.7 .3,.3 .4,.8 .3,.3 .4-1.1 .3-.6 .4,1.6 .3,1.5 .4-1.1 .4,1.5 .3,2.7 .4-3.2 .3,2.6 .4-1.1 .3-.5 .4,.9 .3,.1 .4-1.9 .3,1.0 .4-.4 .3,1.9 .4,.3 .3-1.6 .4,3.2 .3-.9 .4,.5 .3,.1 .4-.1 .3,.9 .4-.5 .3,2.3 .4-1.4 .3,2.3 .4-2.4 .3,.4 .4,1.8 .3,.7 .4-.4 .3-.4 .4,3.0 .3-.4 .4-2.2 .4,1.7 .3,1.8 .4,1.5 .3-2.1 .4,2.1 .3-2.2 .4,.5 .3-2.2 .4,4.4 .3-2.3 .4,2.8 .3,.1 .4-.9 .3,1.2 .4-3.3 .3,2.8 .4,1.2 .3-3.8 .4,4.5 .3-.3 .4,0 .3,1.1 .4-1.6 .3-.5 .4,3.7 .3-.8 .4,.1 .3,1.8 .4,.1 .3-1.0 .4,1.0 .4-1.4 .3-.4 .4,1.1 .3,.2 .4,2.0 .3-.2 .4-1.1 .3,0 .4,1.2 .3-.6 .4,1.5 .3,1.6 .4-1.9 .3,1.4 .4,2.2 .3-3.5 .4,.9 .3-.2 .4,2.1 .3-2.6 .4,1.7 .3-.4 .4,2.7 .3-.3 .4-2.0 .3,2.2 .4,.2 .3-1.9 .4,.7 .3,1.7 .4-2.2 .3,5.5 .4-2.0 .4,1.1 .3-2.9 .4,.1 .3,3.5 .4-.7 .3-1.0 .4,1.0 .3,.6 .4-.8 .3-1.2 .4,3.1 .3,2.3 .4-1.4 .3,.2 .4,.8 .3-1.4 .4,.2 .3,0 .4,1.0 .3,.6 .4,2.4 .3-.9 .4,1.2 .3-1.7 .4,1.0 .3,.1 .4-.6 .3,1.6 .4-1.9 .3,.3 .4,3.6 .3-3.5 .4,3.0 .4,.9 .3-.4 .4,2.0 .3-2.5 .4-1.2 .3,5.0 .4-3.2 .3,.1 .4,.1 .3,.3 .4,.6 .3,1.9 .4-2.1 .3,1.2 .4-.5 .3,1.1 .4,1.3 .3-.1 .4-.9 .3-.4 .4,5.6 .3-.9 .4,.9 .3-1.8 .4,.6 .3-1.3 .4,1.2 .3-2.7 .4,3.8 .3,.5 .4,.5 .3-.7 .4-.6 .4,1.5 .3,1.1 .4,1.1 .3-2.7 .4,1.7 .3,1.1 .4-1.1 .3-.8 .4-2.9 .3,1.0 .4,5.0 .3-.5 .4,3.3 .3,.3 .4,0 .3-5.1 .4,2.3 .3,2.9 .4-1.3 .3-.1 .4,.6 .3-3.9 .4,7.1 .3-2.8 .4-1.1 .3-.2 .4,5.8 .3-4.7 .4,3.3 .3-1.2 .4,2.4 .3-4.5 .4-4.2 .4,4.2 .3,2.9 .4,3.4 .3-5.2 .4-.4 .3,5.0 .4-3.9 .3,6.0 .4-.8 .3-2.8 .4,3.6 .3-4.3 .4-1.1 .3,3.1 .4-.7 .3-2.0 .4,2.5 .3-1.4 .4,.1 .3,5.5 .4-6.5 .3,2.2 .4,2.5 .3-1.2 .4,1.4 .3,.4 .4,3.0 .3-1.0 .4,.1 .3-2.9 .4,1.6 .4,.4 .3,1.5 .4-2.8 .3,8.9 .4-3.5 .3-3.9 .4,3.3 .3-2.1 .4-1.8 .3,2.0 .4,5.5 .3-2.7 .4,2.5 .3-3.5 .4-1.0 .3,3.2 .4-1.5 .3,1.9 .4-4.5 .3,4.3 .4,0 .3-.5 .4-.8 .3,1.1 .4,1.9 .3,.1 .4-.8 .3,.1 .4,2.5 .3,.8 .4-.5 .3-1.5 .4,2.5 .4,1.9 .3-1.6 .4,.7 .3-2.5 .4,3.1 .3,0 .4-5.2 .3,3.6 .4,3.7 .3-5.0 .4,4.1 .3,1.5 .4-3.5 .3,5.6 .4-3.3 .3-1.3 .4-.1 .3,3.5 .4,.2 .3-.8 .4-3.0 .3,8.1 .4-6.6 .3,1.5 .4-2.4 .3,6.8 .4-5.7 .3,5.5 .4-2.8 .3,2.1 .4,6.2 .3-6.6 .4-.9 .4-.9 .3,4.2 .4,1.8 .3-4.8 .4,3.1 .3-3.5 .4-.7 .3,4.7 .4,.1 .3,1.8 .4,4.1 .3-5.6 .4-1.7 .3-.6 .4,3.2 .3-4.8 .4,6.7 .3-1.1 .4,1.7 .3,0 .4-.2 .3,1.5 .4-.5 .3-1.8 .4,.8 .3,3.7 .4-4.3 .3,4.1 .4-3.4 .3,1.3 .4,6.5 .3-2.6 .4-5.6 .4,5.0 .3,.3 .4-.4 .3-1.4 .4-1.1 .3,2.9 .4-5.5 .3,6.9 .4-.1 .3-.6 .4-.8 .3-3.5 .4-2.2 .3,8.1 .4-.3 .3-2.1 .4,2.5 .3-2.7 .4,6.3 .3-5.7 .4,10.2 .3-8.7 .4-.2 .3-5.0 .4,10.6 .3-4.9 .4,.4 .3,5.4 .4-3.6 .3,3.9 .4,1.4 .3,1.5 .4-4.2 .4,3.1 .3,4.0 .4-7.9 .3,7.2 .4-8.0 .3,1.7 .4,3.9 .3,3.1 .4-2.2 .3,1.9 .4-3.2 .3,.2 .4-8.7 .3,15.7 .4-5.3 .3-3.7 .4-1.3 .3-.7 .4,8.2 .3-6.0 .4,14.2 .3-10.1 .4-3.4 .3,.7 .4,8.0 .3-2.0 .4,5.6 .3-5.3 .4,2.7 .3-5.9 .4,4.1 .3-4.7 .4,2.8 .4,1.1 .3-7.0 .4,2.2 .3,9.5 .4-9.7 .3,2.4 .4-1.7 .3,3.3 .4,9.1 .3-5.4 .4,8.8 .3-4.2 .4-2.5 .3-7.1 .4,4.7 .3-.4 .4-1.6 .3,6.6 .4-7.4 .3,3.5 .4,5.0 .3-1.3 .4-1.1 .3-3.0 .4-2.7 .3,6.8 .4,0 .3-7.4 .4-4.4 .3,4.9 .4,6.3 .4,2.5 .3-3.9 .4,1.8 .3,4.8 .4-8.4 .3-3.9 .4,13.3 .3,.1 .4-1.0 .3,3.7 .4-8.5 .3,9.9 .4-8.8 .3,1.3 .4-1.1 .3,10.0 .4-7.0 .3-.3 .4-2.2 .3,2.3 .4,4.4 .3-7.0 .4-.6 .3,.3 .4,9.2 .3-5.3 .4,6.7 .3-3.2 .4-3.7 .3,10.3 .4-17.6 .3,6.2 .4,9.0 .4-.7 .3-2.0 .4,.6 .3,5.4 .4-4.9 .3,7.2 .4-4.3 .3-10.3 .4,8.2 .3,1.8 .4-8.3 .3,5.6 .4-1.1 .3,5.8 .4-7.3 .3,6.7 .4-5.3 .3,1.3 .4-4.4 .3,3.4 .4,4.9 .3,5.5 .4-3.6 .3,2.3 .4-10.1 .3,9.4 .4,10.5 .3-14.0 .4-1.7 .3,8.8 .4-7.9 .3,10.7 .4-7.9 .4,2.3 .3-2.1 .4-.3 .3,5.9 .4-7.1 .3,6.7 .4-2.9 .3-5.9 .4,12.0 .3-5.0 .4-7.0 .3,1.8 .4,10.0 .3,0 .4-5.9 .3,6.6 .4-3.6 .3,8.4 .4-10.7 .3,12.8 .4-9.7 .3-2.6 .4,7.5 .3,5.8 .4-1.6 .3,4.4 .4-20.1 .3,20.9 .4-3.9 .3-9.0 .4,1.8 .3-4.8 .4-1.2 .4,4.7 .3,3.0 .4,3.2 .3-2.0 .4-5.8 .3,2.0 .4,.2 .3,14.2 .4-5.7 .3-.2 .4-.6 .3,3.6 .4-10.0 .3-1.7 .4-3.5 .3,13.0 .4-2.3 .3-.8 .4,.8 .3,5.4 .4-9.4 .3,18.3 .4-10.3 .3,10.1 .4-16.1 .3,13.0 .4-1.4 .3-7.0 .4,6.8 .3-7.9 .4,4.2 .3-12.9 .4,19.1 .4-2.5 .3-8.4 .4,3.0 .3-1.7 .4,4.8 .3-7.2 .4,3.8 .3-5.3 .4,17.2 .3-10.5 .4,3.3 .3-3.7 .4,9.1 .3-11.0 .4,14.5 .3-14.4 .4,2.3 .3,16.8 .4-15.3 .3,17.1 .4-17.6 .3,15.5 .4-10.9 .3,1.6 .4,10.4 .3,2.3 .4-16.9 .3,6.8 .4-9.8 .3,7.4 .4-15.9 .4,14.9 .3-9.3 .4,8.8 .3,2.0 .4-2.7 .3,9.2 .4-.5 .3-14.7 .4,12.0 .3,7.5 .4-11.7 .3,9.8 .4-6.4 .3-6.6 .4-.7 .3-2.8 .4,4.0 .3,3.5 .4,1.0 .3,2.0 .4,2.6 .3-14.2 .4,15.0 .3-11.2 .4,12.1 .3-8.8 .2,17.0M1105.8,381.5l.1-9.4 .4,6.2 .3-15.0 .4,.7 .3,15.1 .4-4.0 .4-6.7 .3,4.5 .4,1.7 .3-5.8 .3,12.7M1109.5,381.5l.3-16.3 .4,7.9 .1,8.4M1111.0,381.5l.2-3.7 .4-15.3 .3,15.3 .1,3.7M1112.4,381.5l.2-12.8 .4,6.9 .3,3.3 .4-7.4 .3,10.0M1114.2,381.5l.2-1.0 .3-7.9 .4,4.2 .3-3.5 .3,8.2M1115.8,381.5l.3-12.4 .2,12.4M1117.1,381.5l.1-3.6 .2,3.6M1117.8,381.5l.1-.8 .2,.8M1119.3,381.5l0-.5 .4-7.0 .1,7.5M1120.2,381.5l.2-10.8 .3,2.3 .2,8.5M1121.3,381.5l.1-2.7 .1,2.7M1125.1,381.5l.2-7.5 .1,7.5M1129.5,381.5l0-.1 0,.1M1132.2,381.5l.1-8.2 .1,8.2" stroke="#ff0000"/></g>
<path d="M88.6,12 V6.9" stroke="#ff0000" stroke-width="1" fill="none"/><path d="M86.6,12 V9.2" stroke="#0032ff" stroke-width="1" fill="none"/>
<rect x="76.2" y="12.0" width="526.9" height="369.5" fill="none" stroke="#000" stroke-width="2.2"/>
<rect x="706.6" y="12.0" width="527.3" height="369.5" fill="none" stroke="#000" stroke-width="2.2"/>
<path d="M164.0,12.0 v9.5M164.0,381.5 v-9.5M251.8,12.0 v18.5M251.8,381.5 v-18.5M339.6,12.0 v9.5M339.6,381.5 v-9.5M427.5,12.0 v18.5M427.5,381.5 v-18.5M515.3,12.0 v9.5M515.3,381.5 v-9.5M76.2,104.4 h9.5M603.1,104.4 h-9.5M76.2,196.8 h18.5M603.1,196.8 h-18.5M76.2,289.1 h9.5M603.1,289.1 h-9.5" stroke="#000" stroke-width="2" fill="none"/>
<path d="M794.5,12.0 v9.5M794.5,381.5 v-9.5M882.4,12.0 v18.5M882.4,381.5 v-18.5M970.2,12.0 v9.5M970.2,381.5 v-9.5M1058.1,12.0 v18.5M1058.1,381.5 v-18.5M1146.0,12.0 v9.5M1146.0,381.5 v-9.5M706.6,135.2 h18.5M1233.9,135.2 h-18.5M706.6,98.1 h9.5M1233.9,98.1 h-9.5M706.6,76.4 h9.5M1233.9,76.4 h-9.5M706.6,61.0 h9.5M1233.9,61.0 h-9.5M706.6,49.1 h9.5M1233.9,49.1 h-9.5M706.6,39.3 h9.5M1233.9,39.3 h-9.5M706.6,31.1 h9.5M1233.9,31.1 h-9.5M706.6,23.9 h9.5M1233.9,23.9 h-9.5M706.6,17.6 h9.5M1233.9,17.6 h-9.5M706.6,258.3 h18.5M1233.9,258.3 h-18.5M706.6,221.3 h9.5M1233.9,221.3 h-9.5M706.6,199.6 h9.5M1233.9,199.6 h-9.5M706.6,184.2 h9.5M1233.9,184.2 h-9.5M706.6,172.2 h9.5M1233.9,172.2 h-9.5M706.6,162.5 h9.5M1233.9,162.5 h-9.5M706.6,154.2 h9.5M1233.9,154.2 h-9.5M706.6,147.1 h9.5M1233.9,147.1 h-9.5M706.6,140.8 h9.5M1233.9,140.8 h-9.5M706.6,344.4 h9.5M1233.9,344.4 h-9.5M706.6,322.7 h9.5M1233.9,322.7 h-9.5M706.6,307.3 h9.5M1233.9,307.3 h-9.5M706.6,295.4 h9.5M1233.9,295.4 h-9.5M706.6,285.7 h9.5M1233.9,285.7 h-9.5M706.6,277.4 h9.5M1233.9,277.4 h-9.5M706.6,270.3 h9.5M1233.9,270.3 h-9.5M706.6,264.0 h9.5M1233.9,264.0 h-9.5" stroke="#000" stroke-width="2" fill="none"/>
<text x="77.0" y="415.6" text-anchor="middle" font-size="37">0</text><text x="252.6" y="415.6" text-anchor="middle" font-size="37">10</text><text x="428.3" y="415.6" text-anchor="middle" font-size="37">20</text><text x="603.9" y="415.6" text-anchor="middle" font-size="37">30</text><text x="341.3" y="451.5" text-anchor="middle" font-size="37.2">Time (ns)</text>
<text x="707.4" y="415.6" text-anchor="middle" font-size="37">0</text><text x="883.2" y="415.6" text-anchor="middle" font-size="37">10</text><text x="1058.9" y="415.6" text-anchor="middle" font-size="37">20</text><text x="1234.7" y="415.6" text-anchor="middle" font-size="37">30</text><text x="971.9" y="451.5" text-anchor="middle" font-size="37.2">Time (ns)</text>
<text transform="translate(58.3,195.5) scale(1.1,1) rotate(-90)" text-anchor="middle" font-size="37">Norm. counts</text>
<text transform="translate(688.7,195.5) scale(1.1,1) rotate(-90)" text-anchor="middle" font-size="37">Norm. counts</text>
<path d="M427,67.3 H481" stroke="#000000" stroke-width="2.3" fill="none"/><text transform="translate(499,76.7) scale(1.06,1)" font-size="28.7">0.4 %</text><path d="M427,98.8 H481" stroke="#0000c0" stroke-width="2.3" fill="none"/><text transform="translate(499,108.2) scale(1.06,1)" font-size="28.7">1 %</text><path d="M427,130.2 H481" stroke="#0032ff" stroke-width="2.3" fill="none"/><text transform="translate(499,139.6) scale(1.06,1)" font-size="28.7">7 %</text><path d="M427,161.6 H481" stroke="#00b25c" stroke-width="2.3" fill="none"/><text transform="translate(499,171.0) scale(1.06,1)" font-size="28.7">10 %</text><path d="M427,193.1 H481" stroke="#00ab2c" stroke-width="2.3" fill="none"/><text transform="translate(499,202.5) scale(1.06,1)" font-size="28.7">21 %</text><path d="M427,224.6 H481" stroke="#ffa000" stroke-width="2.3" fill="none"/><text transform="translate(499,234.0) scale(1.06,1)" font-size="28.7">27 %</text><path d="M427,256.0 H481" stroke="#ff0000" stroke-width="2.3" fill="none"/><text transform="translate(499,265.4) scale(1.06,1)" font-size="28.7">30 %</text>
<text x="0.9" y="35.5" font-family="'DejaVu Sans', sans-serif" font-size="40.2">(a)</text>
<text x="631.8" y="35.5" font-family="'DejaVu Sans', sans-serif" font-size="40.2">(b)</text>
</g></svg>
</body></html>
